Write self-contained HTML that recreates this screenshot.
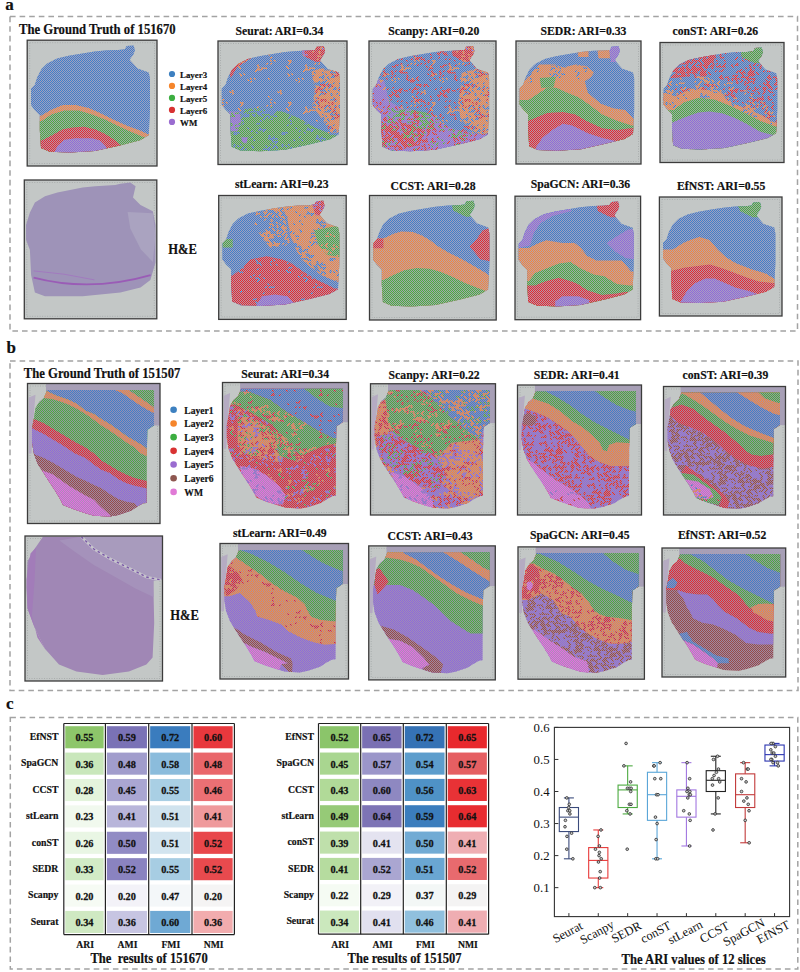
<!DOCTYPE html>
<html><head><meta charset="utf-8"><title>Figure</title>
<style>
html,body{margin:0;padding:0;background:#fff;width:800px;height:972px;overflow:hidden}
svg{display:block;font-family:'Liberation Serif',serif}
</style></head><body>
<svg width="800" height="972" viewBox="0 0 800 972">
<defs><pattern id="mb0" patternUnits="userSpaceOnUse" width="240" height="280" patternTransform="scale(0.2 0.15)"><path d="M65 30h10v10h-10zM75 30h10v10h-10zM75 50h10v10h-10zM165 50h10v10h-10zM80 60h10v10h-10zM150 60h10v10h-10zM-5 70h10v10h-10zM85 70h10v10h-10zM95 70h10v10h-10zM235 70h10v10h-10zM100 80h10v10h-10zM150 80h10v10h-10zM180 80h10v10h-10zM0 100h10v10h-10zM10 100h10v10h-10zM240 100h10v10h-10zM85 110h10v10h-10zM190 120h10v10h-10zM230 120h10v10h-10zM-5 130h10v10h-10zM5 130h10v10h-10zM235 130h10v10h-10zM65 150h10v10h-10zM95 150h10v10h-10zM50 160h10v10h-10zM75 170h10v10h-10zM85 170h10v10h-10zM115 170h10v10h-10zM90 180h10v10h-10zM85 190h10v10h-10zM135 210h10v10h-10zM125 230h10v10h-10zM145 230h10v10h-10zM155 230h10v10h-10zM165 230h10v10h-10zM0 260h10v10h-10zM240 260h10v10h-10zM115 270h10v10h-10z" fill="#427ec9"/></pattern><pattern id="mb1" patternUnits="userSpaceOnUse" width="240" height="280" patternTransform="scale(0.2 0.15)"><path d="M35 10h10v10h-10zM95 10h10v10h-10zM90 20h10v10h-10zM100 20h10v10h-10zM110 20h10v10h-10zM120 20h10v10h-10zM55 30h10v10h-10zM115 30h10v10h-10zM80 40h10v10h-10zM210 40h10v10h-10zM220 40h10v10h-10zM230 40h10v10h-10zM205 50h10v10h-10zM215 50h10v10h-10zM140 60h10v10h-10zM55 70h10v10h-10zM145 70h10v10h-10zM165 70h10v10h-10zM140 80h10v10h-10zM150 80h10v10h-10zM160 80h10v10h-10zM170 80h10v10h-10zM180 80h10v10h-10zM25 90h10v10h-10zM65 90h10v10h-10zM155 90h10v10h-10zM160 100h10v10h-10zM170 100h10v10h-10zM180 100h10v10h-10zM175 110h10v10h-10zM0 120h10v10h-10zM150 120h10v10h-10zM210 120h10v10h-10zM240 120h10v10h-10zM55 130h10v10h-10zM125 130h10v10h-10zM165 130h10v10h-10zM175 130h10v10h-10zM205 130h10v10h-10zM225 130h10v10h-10zM10 140h10v10h-10zM60 140h10v10h-10zM140 140h10v10h-10zM160 140h10v10h-10zM180 140h10v10h-10zM5 150h10v10h-10zM25 150h10v10h-10zM115 150h10v10h-10zM125 150h10v10h-10zM135 150h10v10h-10zM145 150h10v10h-10zM140 160h10v10h-10zM180 160h10v10h-10zM35 170h10v10h-10zM45 170h10v10h-10zM115 170h10v10h-10zM125 170h10v10h-10zM155 170h10v10h-10zM110 180h10v10h-10zM-5 190h10v10h-10zM45 190h10v10h-10zM135 190h10v10h-10zM155 190h10v10h-10zM235 190h10v10h-10zM10 200h10v10h-10zM150 200h10v10h-10zM5 210h10v10h-10zM105 210h10v10h-10zM125 210h10v10h-10zM135 210h10v10h-10zM165 210h10v10h-10zM175 210h10v10h-10zM0 220h10v10h-10zM120 220h10v10h-10zM140 220h10v10h-10zM240 220h10v10h-10zM115 230h10v10h-10zM155 230h10v10h-10zM10 240h10v10h-10zM100 240h10v10h-10zM10 260h10v10h-10zM80 260h10v10h-10zM90 260h10v10h-10zM-5 270h10v10h-10zM235 270h10v10h-10z" fill="#427ec9"/></pattern><pattern id="mb2" patternUnits="userSpaceOnUse" width="240" height="280" patternTransform="scale(0.2 0.15)"><path d="M50 0h10v10h-10zM60 0h10v10h-10zM90 0h10v10h-10zM120 0h10v10h-10zM130 0h10v10h-10zM140 0h10v10h-10zM150 0h10v10h-10zM190 0h10v10h-10zM200 0h10v10h-10zM210 0h10v10h-10zM15 10h10v10h-10zM115 10h10v10h-10zM125 10h10v10h-10zM155 10h10v10h-10zM175 10h10v10h-10zM205 10h10v10h-10zM10 20h10v10h-10zM30 20h10v10h-10zM50 20h10v10h-10zM80 20h10v10h-10zM130 20h10v10h-10zM180 20h10v10h-10zM200 20h10v10h-10zM230 20h10v10h-10zM-5 30h10v10h-10zM45 30h10v10h-10zM55 30h10v10h-10zM95 30h10v10h-10zM105 30h10v10h-10zM175 30h10v10h-10zM225 30h10v10h-10zM235 30h10v10h-10zM10 40h10v10h-10zM40 40h10v10h-10zM60 40h10v10h-10zM160 40h10v10h-10zM170 40h10v10h-10zM180 40h10v10h-10zM200 40h10v10h-10zM45 50h10v10h-10zM105 50h10v10h-10zM185 50h10v10h-10zM0 60h10v10h-10zM50 60h10v10h-10zM120 60h10v10h-10zM130 60h10v10h-10zM160 60h10v10h-10zM170 60h10v10h-10zM180 60h10v10h-10zM210 60h10v10h-10zM240 60h10v10h-10zM15 70h10v10h-10zM45 70h10v10h-10zM55 70h10v10h-10zM115 70h10v10h-10zM155 70h10v10h-10zM215 70h10v10h-10zM40 80h10v10h-10zM55 90h10v10h-10zM95 90h10v10h-10zM115 90h10v10h-10zM135 90h10v10h-10zM225 90h10v10h-10zM110 100h10v10h-10zM120 100h10v10h-10zM170 100h10v10h-10zM210 100h10v10h-10zM220 100h10v10h-10zM230 100h10v10h-10zM-5 110h10v10h-10zM95 110h10v10h-10zM115 110h10v10h-10zM125 110h10v10h-10zM145 110h10v10h-10zM235 110h10v10h-10zM30 120h10v10h-10zM90 120h10v10h-10zM140 120h10v10h-10zM45 130h10v10h-10zM55 130h10v10h-10zM105 130h10v10h-10zM125 130h10v10h-10zM145 130h10v10h-10zM10 140h10v10h-10zM80 140h10v10h-10zM100 140h10v10h-10zM120 140h10v10h-10zM130 140h10v10h-10zM150 140h10v10h-10zM190 140h10v10h-10zM200 140h10v10h-10zM230 140h10v10h-10zM15 150h10v10h-10zM35 150h10v10h-10zM45 150h10v10h-10zM55 150h10v10h-10zM65 150h10v10h-10zM85 150h10v10h-10zM95 150h10v10h-10zM115 150h10v10h-10zM185 150h10v10h-10zM205 150h10v10h-10zM20 160h10v10h-10zM30 160h10v10h-10zM40 160h10v10h-10zM60 160h10v10h-10zM80 160h10v10h-10zM90 160h10v10h-10zM120 160h10v10h-10zM130 160h10v10h-10zM150 160h10v10h-10zM180 160h10v10h-10zM230 160h10v10h-10zM85 170h10v10h-10zM155 170h10v10h-10zM195 170h10v10h-10zM205 170h10v10h-10zM30 180h10v10h-10zM60 180h10v10h-10zM180 180h10v10h-10zM190 180h10v10h-10zM200 180h10v10h-10zM220 180h10v10h-10zM230 180h10v10h-10zM65 190h10v10h-10zM95 190h10v10h-10zM215 190h10v10h-10zM0 200h10v10h-10zM10 200h10v10h-10zM130 200h10v10h-10zM170 200h10v10h-10zM210 200h10v10h-10zM220 200h10v10h-10zM230 200h10v10h-10zM240 200h10v10h-10zM25 210h10v10h-10zM35 210h10v10h-10zM65 210h10v10h-10zM85 210h10v10h-10zM95 210h10v10h-10zM185 210h10v10h-10zM80 220h10v10h-10zM120 220h10v10h-10zM170 220h10v10h-10zM220 220h10v10h-10zM230 220h10v10h-10zM65 230h10v10h-10zM75 230h10v10h-10zM95 230h10v10h-10zM155 230h10v10h-10zM165 230h10v10h-10zM175 230h10v10h-10zM195 230h10v10h-10zM215 230h10v10h-10zM225 230h10v10h-10zM30 240h10v10h-10zM50 240h10v10h-10zM60 240h10v10h-10zM70 240h10v10h-10zM80 240h10v10h-10zM90 240h10v10h-10zM100 240h10v10h-10zM170 240h10v10h-10zM200 240h10v10h-10zM65 250h10v10h-10zM85 250h10v10h-10zM95 250h10v10h-10zM105 250h10v10h-10zM185 250h10v10h-10zM50 260h10v10h-10zM80 260h10v10h-10zM90 260h10v10h-10zM100 260h10v10h-10zM120 260h10v10h-10zM150 260h10v10h-10zM170 260h10v10h-10zM180 260h10v10h-10zM15 270h10v10h-10zM45 270h10v10h-10zM65 270h10v10h-10zM75 270h10v10h-10zM85 270h10v10h-10zM95 270h10v10h-10zM105 270h10v10h-10zM125 270h10v10h-10zM135 270h10v10h-10zM145 270h10v10h-10zM155 270h10v10h-10zM165 270h10v10h-10zM175 270h10v10h-10zM195 270h10v10h-10zM225 270h10v10h-10z" fill="#427ec9"/></pattern><pattern id="mb3" patternUnits="userSpaceOnUse" width="240" height="280" patternTransform="scale(0.2 0.15)"><path d="M0 0h10v10h-10zM10 0h10v10h-10zM20 0h10v10h-10zM40 0h10v10h-10zM60 0h10v10h-10zM120 0h10v10h-10zM130 0h10v10h-10zM140 0h10v10h-10zM150 0h10v10h-10zM160 0h10v10h-10zM170 0h10v10h-10zM180 0h10v10h-10zM190 0h10v10h-10zM200 0h10v10h-10zM210 0h10v10h-10zM220 0h10v10h-10zM240 0h10v10h-10zM-5 10h10v10h-10zM5 10h10v10h-10zM85 10h10v10h-10zM95 10h10v10h-10zM105 10h10v10h-10zM115 10h10v10h-10zM135 10h10v10h-10zM145 10h10v10h-10zM155 10h10v10h-10zM165 10h10v10h-10zM185 10h10v10h-10zM195 10h10v10h-10zM225 10h10v10h-10zM235 10h10v10h-10zM0 20h10v10h-10zM10 20h10v10h-10zM20 20h10v10h-10zM40 20h10v10h-10zM50 20h10v10h-10zM60 20h10v10h-10zM100 20h10v10h-10zM120 20h10v10h-10zM160 20h10v10h-10zM180 20h10v10h-10zM190 20h10v10h-10zM200 20h10v10h-10zM230 20h10v10h-10zM240 20h10v10h-10zM5 30h10v10h-10zM15 30h10v10h-10zM25 30h10v10h-10zM35 30h10v10h-10zM45 30h10v10h-10zM55 30h10v10h-10zM105 30h10v10h-10zM125 30h10v10h-10zM135 30h10v10h-10zM145 30h10v10h-10zM155 30h10v10h-10zM205 30h10v10h-10zM215 30h10v10h-10zM0 40h10v10h-10zM10 40h10v10h-10zM20 40h10v10h-10zM30 40h10v10h-10zM60 40h10v10h-10zM70 40h10v10h-10zM80 40h10v10h-10zM90 40h10v10h-10zM130 40h10v10h-10zM140 40h10v10h-10zM160 40h10v10h-10zM180 40h10v10h-10zM190 40h10v10h-10zM220 40h10v10h-10zM240 40h10v10h-10zM25 50h10v10h-10zM35 50h10v10h-10zM45 50h10v10h-10zM95 50h10v10h-10zM105 50h10v10h-10zM215 50h10v10h-10zM225 50h10v10h-10zM0 60h10v10h-10zM20 60h10v10h-10zM40 60h10v10h-10zM60 60h10v10h-10zM150 60h10v10h-10zM160 60h10v10h-10zM180 60h10v10h-10zM200 60h10v10h-10zM240 60h10v10h-10zM-5 70h10v10h-10zM5 70h10v10h-10zM15 70h10v10h-10zM25 70h10v10h-10zM55 70h10v10h-10zM85 70h10v10h-10zM105 70h10v10h-10zM175 70h10v10h-10zM205 70h10v10h-10zM215 70h10v10h-10zM235 70h10v10h-10zM30 80h10v10h-10zM80 80h10v10h-10zM110 80h10v10h-10zM150 80h10v10h-10zM160 80h10v10h-10zM220 80h10v10h-10zM-5 90h10v10h-10zM25 90h10v10h-10zM45 90h10v10h-10zM55 90h10v10h-10zM65 90h10v10h-10zM75 90h10v10h-10zM85 90h10v10h-10zM95 90h10v10h-10zM125 90h10v10h-10zM135 90h10v10h-10zM205 90h10v10h-10zM235 90h10v10h-10zM0 100h10v10h-10zM10 100h10v10h-10zM40 100h10v10h-10zM50 100h10v10h-10zM70 100h10v10h-10zM90 100h10v10h-10zM130 100h10v10h-10zM140 100h10v10h-10zM150 100h10v10h-10zM160 100h10v10h-10zM220 100h10v10h-10zM230 100h10v10h-10zM240 100h10v10h-10zM5 110h10v10h-10zM35 110h10v10h-10zM45 110h10v10h-10zM55 110h10v10h-10zM65 110h10v10h-10zM95 110h10v10h-10zM115 110h10v10h-10zM135 110h10v10h-10zM145 110h10v10h-10zM185 110h10v10h-10zM20 120h10v10h-10zM40 120h10v10h-10zM60 120h10v10h-10zM110 120h10v10h-10zM130 120h10v10h-10zM140 120h10v10h-10zM150 120h10v10h-10zM170 120h10v10h-10zM180 120h10v10h-10zM200 120h10v10h-10zM210 120h10v10h-10zM230 120h10v10h-10zM-5 130h10v10h-10zM5 130h10v10h-10zM15 130h10v10h-10zM25 130h10v10h-10zM35 130h10v10h-10zM55 130h10v10h-10zM65 130h10v10h-10zM75 130h10v10h-10zM105 130h10v10h-10zM115 130h10v10h-10zM125 130h10v10h-10zM145 130h10v10h-10zM165 130h10v10h-10zM185 130h10v10h-10zM205 130h10v10h-10zM215 130h10v10h-10zM235 130h10v10h-10zM50 140h10v10h-10zM60 140h10v10h-10zM80 140h10v10h-10zM110 140h10v10h-10zM120 140h10v10h-10zM130 140h10v10h-10zM150 140h10v10h-10zM160 140h10v10h-10zM170 140h10v10h-10zM210 140h10v10h-10zM220 140h10v10h-10zM230 140h10v10h-10zM35 150h10v10h-10zM55 150h10v10h-10zM65 150h10v10h-10zM95 150h10v10h-10zM115 150h10v10h-10zM135 150h10v10h-10zM155 150h10v10h-10zM185 150h10v10h-10zM205 150h10v10h-10zM225 150h10v10h-10zM20 160h10v10h-10zM30 160h10v10h-10zM40 160h10v10h-10zM50 160h10v10h-10zM60 160h10v10h-10zM70 160h10v10h-10zM80 160h10v10h-10zM90 160h10v10h-10zM100 160h10v10h-10zM120 160h10v10h-10zM130 160h10v10h-10zM140 160h10v10h-10zM150 160h10v10h-10zM180 160h10v10h-10zM200 160h10v10h-10zM35 170h10v10h-10zM45 170h10v10h-10zM65 170h10v10h-10zM75 170h10v10h-10zM85 170h10v10h-10zM95 170h10v10h-10zM105 170h10v10h-10zM125 170h10v10h-10zM175 170h10v10h-10zM195 170h10v10h-10zM205 170h10v10h-10zM215 170h10v10h-10zM225 170h10v10h-10zM0 180h10v10h-10zM30 180h10v10h-10zM40 180h10v10h-10zM50 180h10v10h-10zM60 180h10v10h-10zM80 180h10v10h-10zM90 180h10v10h-10zM100 180h10v10h-10zM130 180h10v10h-10zM150 180h10v10h-10zM160 180h10v10h-10zM170 180h10v10h-10zM190 180h10v10h-10zM230 180h10v10h-10zM240 180h10v10h-10zM-5 190h10v10h-10zM15 190h10v10h-10zM35 190h10v10h-10zM55 190h10v10h-10zM65 190h10v10h-10zM75 190h10v10h-10zM95 190h10v10h-10zM125 190h10v10h-10zM135 190h10v10h-10zM155 190h10v10h-10zM175 190h10v10h-10zM185 190h10v10h-10zM195 190h10v10h-10zM205 190h10v10h-10zM225 190h10v10h-10zM235 190h10v10h-10zM10 200h10v10h-10zM20 200h10v10h-10zM30 200h10v10h-10zM40 200h10v10h-10zM50 200h10v10h-10zM60 200h10v10h-10zM90 200h10v10h-10zM110 200h10v10h-10zM130 200h10v10h-10zM190 200h10v10h-10zM210 200h10v10h-10zM5 210h10v10h-10zM15 210h10v10h-10zM45 210h10v10h-10zM55 210h10v10h-10zM105 210h10v10h-10zM125 210h10v10h-10zM135 210h10v10h-10zM145 210h10v10h-10zM175 210h10v10h-10zM225 210h10v10h-10zM10 220h10v10h-10zM20 220h10v10h-10zM30 220h10v10h-10zM40 220h10v10h-10zM50 220h10v10h-10zM60 220h10v10h-10zM80 220h10v10h-10zM100 220h10v10h-10zM130 220h10v10h-10zM140 220h10v10h-10zM150 220h10v10h-10zM190 220h10v10h-10zM210 220h10v10h-10zM230 220h10v10h-10zM-5 230h10v10h-10zM15 230h10v10h-10zM25 230h10v10h-10zM35 230h10v10h-10zM55 230h10v10h-10zM75 230h10v10h-10zM105 230h10v10h-10zM135 230h10v10h-10zM155 230h10v10h-10zM165 230h10v10h-10zM195 230h10v10h-10zM215 230h10v10h-10zM225 230h10v10h-10zM235 230h10v10h-10zM10 240h10v10h-10zM20 240h10v10h-10zM30 240h10v10h-10zM40 240h10v10h-10zM50 240h10v10h-10zM60 240h10v10h-10zM80 240h10v10h-10zM150 240h10v10h-10zM160 240h10v10h-10zM170 240h10v10h-10zM180 240h10v10h-10zM220 240h10v10h-10zM-5 250h10v10h-10zM5 250h10v10h-10zM15 250h10v10h-10zM25 250h10v10h-10zM55 250h10v10h-10zM135 250h10v10h-10zM145 250h10v10h-10zM175 250h10v10h-10zM185 250h10v10h-10zM195 250h10v10h-10zM205 250h10v10h-10zM215 250h10v10h-10zM225 250h10v10h-10zM235 250h10v10h-10zM10 260h10v10h-10zM50 260h10v10h-10zM60 260h10v10h-10zM80 260h10v10h-10zM190 260h10v10h-10zM210 260h10v10h-10zM220 260h10v10h-10zM230 260h10v10h-10zM5 270h10v10h-10zM35 270h10v10h-10zM55 270h10v10h-10zM65 270h10v10h-10zM75 270h10v10h-10zM95 270h10v10h-10zM105 270h10v10h-10zM135 270h10v10h-10zM145 270h10v10h-10zM165 270h10v10h-10zM185 270h10v10h-10zM195 270h10v10h-10zM205 270h10v10h-10zM215 270h10v10h-10zM225 270h10v10h-10z" fill="#427ec9"/></pattern><pattern id="mo0" patternUnits="userSpaceOnUse" width="240" height="280" patternTransform="scale(0.2 0.15)"><path d="M200 40h10v10h-10zM185 50h10v10h-10zM195 50h10v10h-10zM200 60h10v10h-10zM140 80h10v10h-10zM150 100h10v10h-10zM0 120h10v10h-10zM10 120h10v10h-10zM150 120h10v10h-10zM170 120h10v10h-10zM240 120h10v10h-10zM5 130h10v10h-10zM0 140h10v10h-10zM130 140h10v10h-10zM150 140h10v10h-10zM240 140h10v10h-10zM85 150h10v10h-10zM90 160h10v10h-10zM230 160h10v10h-10zM-5 170h10v10h-10zM85 170h10v10h-10zM105 170h10v10h-10zM115 170h10v10h-10zM125 170h10v10h-10zM235 170h10v10h-10zM80 180h10v10h-10zM90 180h10v10h-10zM100 180h10v10h-10zM75 190h10v10h-10zM-5 210h10v10h-10zM15 210h10v10h-10zM235 210h10v10h-10zM0 220h10v10h-10zM240 220h10v10h-10zM50 240h10v10h-10zM70 240h10v10h-10zM140 240h10v10h-10zM35 250h10v10h-10zM50 260h10v10h-10z" fill="#f4863a"/></pattern><pattern id="mo1" patternUnits="userSpaceOnUse" width="240" height="280" patternTransform="scale(0.2 0.15)"><path d="M80 0h10v10h-10zM170 0h10v10h-10zM190 0h10v10h-10zM210 0h10v10h-10zM75 10h10v10h-10zM0 20h10v10h-10zM20 20h10v10h-10zM50 20h10v10h-10zM80 20h10v10h-10zM90 20h10v10h-10zM240 20h10v10h-10zM-5 30h10v10h-10zM15 30h10v10h-10zM25 30h10v10h-10zM65 30h10v10h-10zM75 30h10v10h-10zM235 30h10v10h-10zM20 40h10v10h-10zM30 40h10v10h-10zM60 40h10v10h-10zM15 50h10v10h-10zM25 50h10v10h-10zM55 50h10v10h-10zM65 50h10v10h-10zM30 60h10v10h-10zM40 60h10v10h-10zM155 70h10v10h-10zM180 80h10v10h-10zM15 90h10v10h-10zM25 90h10v10h-10zM35 90h10v10h-10zM20 100h10v10h-10zM160 100h10v10h-10zM50 120h10v10h-10zM195 150h10v10h-10zM210 160h10v10h-10zM185 170h10v10h-10zM195 170h10v10h-10zM225 170h10v10h-10zM120 180h10v10h-10zM130 180h10v10h-10zM105 190h10v10h-10zM115 190h10v10h-10zM135 190h10v10h-10zM60 200h10v10h-10zM80 200h10v10h-10zM90 200h10v10h-10zM100 200h10v10h-10zM35 210h10v10h-10zM55 210h10v10h-10zM65 210h10v10h-10zM75 210h10v10h-10zM95 210h10v10h-10zM115 210h10v10h-10zM70 220h10v10h-10zM100 220h10v10h-10zM130 220h10v10h-10zM140 220h10v10h-10zM190 220h10v10h-10zM15 230h10v10h-10zM115 230h10v10h-10zM145 230h10v10h-10zM165 230h10v10h-10zM185 230h10v10h-10zM225 230h10v10h-10zM0 240h10v10h-10zM20 240h10v10h-10zM150 240h10v10h-10zM190 240h10v10h-10zM240 240h10v10h-10zM15 250h10v10h-10zM145 250h10v10h-10zM215 250h10v10h-10zM225 250h10v10h-10zM160 260h10v10h-10zM170 260h10v10h-10zM180 260h10v10h-10zM220 260h10v10h-10zM145 270h10v10h-10zM155 270h10v10h-10zM165 270h10v10h-10zM175 270h10v10h-10zM185 270h10v10h-10zM195 270h10v10h-10z" fill="#f4863a"/></pattern><pattern id="mo2" patternUnits="userSpaceOnUse" width="240" height="280" patternTransform="scale(0.2 0.15)"><path d="M20 0h10v10h-10zM130 0h10v10h-10zM180 0h10v10h-10zM190 0h10v10h-10zM210 0h10v10h-10zM230 0h10v10h-10zM115 10h10v10h-10zM125 10h10v10h-10zM175 10h10v10h-10zM195 10h10v10h-10zM60 20h10v10h-10zM120 20h10v10h-10zM140 20h10v10h-10zM150 20h10v10h-10zM190 20h10v10h-10zM200 20h10v10h-10zM220 20h10v10h-10zM15 30h10v10h-10zM45 30h10v10h-10zM55 30h10v10h-10zM135 30h10v10h-10zM165 30h10v10h-10zM195 30h10v10h-10zM0 40h10v10h-10zM100 40h10v10h-10zM120 40h10v10h-10zM130 40h10v10h-10zM160 40h10v10h-10zM180 40h10v10h-10zM200 40h10v10h-10zM210 40h10v10h-10zM220 40h10v10h-10zM240 40h10v10h-10zM-5 50h10v10h-10zM215 50h10v10h-10zM225 50h10v10h-10zM235 50h10v10h-10zM20 60h10v10h-10zM120 60h10v10h-10zM150 60h10v10h-10zM200 60h10v10h-10zM230 60h10v10h-10zM55 70h10v10h-10zM155 70h10v10h-10zM215 70h10v10h-10zM225 70h10v10h-10zM0 80h10v10h-10zM70 80h10v10h-10zM180 80h10v10h-10zM220 80h10v10h-10zM230 80h10v10h-10zM240 80h10v10h-10zM35 90h10v10h-10zM65 90h10v10h-10zM75 90h10v10h-10zM145 90h10v10h-10zM155 90h10v10h-10zM195 90h10v10h-10zM225 90h10v10h-10zM10 100h10v10h-10zM20 100h10v10h-10zM30 100h10v10h-10zM180 100h10v10h-10zM210 100h10v10h-10zM230 100h10v10h-10zM15 110h10v10h-10zM25 110h10v10h-10zM45 110h10v10h-10zM145 110h10v10h-10zM185 110h10v10h-10zM205 110h10v10h-10zM215 110h10v10h-10zM225 110h10v10h-10zM30 120h10v10h-10zM50 120h10v10h-10zM160 120h10v10h-10zM210 120h10v10h-10zM220 120h10v10h-10zM230 120h10v10h-10zM5 130h10v10h-10zM15 130h10v10h-10zM35 130h10v10h-10zM125 130h10v10h-10zM165 130h10v10h-10zM185 130h10v10h-10zM215 130h10v10h-10zM40 140h10v10h-10zM70 140h10v10h-10zM130 140h10v10h-10zM140 140h10v10h-10zM180 140h10v10h-10zM200 140h10v10h-10zM220 140h10v10h-10zM230 140h10v10h-10zM35 150h10v10h-10zM45 150h10v10h-10zM55 150h10v10h-10zM65 150h10v10h-10zM75 150h10v10h-10zM85 150h10v10h-10zM95 150h10v10h-10zM115 150h10v10h-10zM125 150h10v10h-10zM135 150h10v10h-10zM145 150h10v10h-10zM185 150h10v10h-10zM215 150h10v10h-10zM20 160h10v10h-10zM40 160h10v10h-10zM50 160h10v10h-10zM60 160h10v10h-10zM80 160h10v10h-10zM100 160h10v10h-10zM110 160h10v10h-10zM130 160h10v10h-10zM150 160h10v10h-10zM160 160h10v10h-10zM170 160h10v10h-10zM230 160h10v10h-10zM35 170h10v10h-10zM105 170h10v10h-10zM115 170h10v10h-10zM125 170h10v10h-10zM145 170h10v10h-10zM155 170h10v10h-10zM0 180h10v10h-10zM20 180h10v10h-10zM30 180h10v10h-10zM40 180h10v10h-10zM80 180h10v10h-10zM120 180h10v10h-10zM130 180h10v10h-10zM140 180h10v10h-10zM150 180h10v10h-10zM160 180h10v10h-10zM220 180h10v10h-10zM240 180h10v10h-10zM-5 190h10v10h-10zM5 190h10v10h-10zM15 190h10v10h-10zM55 190h10v10h-10zM85 190h10v10h-10zM95 190h10v10h-10zM105 190h10v10h-10zM115 190h10v10h-10zM125 190h10v10h-10zM225 190h10v10h-10zM235 190h10v10h-10zM0 200h10v10h-10zM100 200h10v10h-10zM120 200h10v10h-10zM130 200h10v10h-10zM140 200h10v10h-10zM240 200h10v10h-10zM-5 210h10v10h-10zM5 210h10v10h-10zM25 210h10v10h-10zM95 210h10v10h-10zM105 210h10v10h-10zM145 210h10v10h-10zM165 210h10v10h-10zM235 210h10v10h-10zM70 220h10v10h-10zM120 220h10v10h-10zM130 220h10v10h-10zM150 220h10v10h-10zM170 220h10v10h-10zM180 220h10v10h-10zM210 220h10v10h-10zM125 230h10v10h-10zM135 230h10v10h-10zM145 230h10v10h-10zM155 230h10v10h-10zM165 230h10v10h-10zM175 230h10v10h-10zM40 240h10v10h-10zM140 240h10v10h-10zM150 240h10v10h-10zM180 240h10v10h-10zM155 250h10v10h-10zM165 250h10v10h-10zM195 250h10v10h-10zM110 260h10v10h-10zM140 260h10v10h-10zM160 260h10v10h-10zM170 260h10v10h-10zM180 260h10v10h-10zM200 260h10v10h-10zM230 260h10v10h-10zM35 270h10v10h-10zM45 270h10v10h-10zM55 270h10v10h-10zM135 270h10v10h-10zM175 270h10v10h-10zM225 270h10v10h-10z" fill="#f4863a"/></pattern><pattern id="mg0" patternUnits="userSpaceOnUse" width="240" height="280" patternTransform="scale(0.2 0.15)"><path d="M80 0h10v10h-10zM0 40h10v10h-10zM140 40h10v10h-10zM240 40h10v10h-10zM95 70h10v10h-10zM195 70h10v10h-10zM190 80h10v10h-10zM5 90h10v10h-10zM195 90h10v10h-10zM90 100h10v10h-10zM210 100h10v10h-10zM70 120h10v10h-10zM80 120h10v10h-10zM95 130h10v10h-10zM90 140h10v10h-10zM120 140h10v10h-10zM130 140h10v10h-10zM85 150h10v10h-10zM145 150h10v10h-10zM0 160h10v10h-10zM20 160h10v10h-10zM100 160h10v10h-10zM240 160h10v10h-10zM-5 170h10v10h-10zM25 170h10v10h-10zM65 170h10v10h-10zM85 170h10v10h-10zM105 170h10v10h-10zM125 170h10v10h-10zM235 170h10v10h-10zM110 180h10v10h-10zM120 180h10v10h-10zM95 190h10v10h-10zM205 190h10v10h-10zM80 220h10v10h-10zM190 220h10v10h-10zM225 230h10v10h-10z" fill="#4cad3f"/></pattern><pattern id="mg1" patternUnits="userSpaceOnUse" width="240" height="280" patternTransform="scale(0.2 0.15)"><path d="M0 0h10v10h-10zM30 0h10v10h-10zM60 0h10v10h-10zM160 0h10v10h-10zM180 0h10v10h-10zM240 0h10v10h-10zM-5 10h10v10h-10zM135 10h10v10h-10zM155 10h10v10h-10zM175 10h10v10h-10zM215 10h10v10h-10zM225 10h10v10h-10zM235 10h10v10h-10zM40 20h10v10h-10zM50 20h10v10h-10zM80 20h10v10h-10zM100 20h10v10h-10zM140 20h10v10h-10zM105 30h10v10h-10zM135 30h10v10h-10zM130 40h10v10h-10zM140 40h10v10h-10zM200 40h10v10h-10zM95 50h10v10h-10zM125 50h10v10h-10zM155 50h10v10h-10zM185 50h10v10h-10zM100 60h10v10h-10zM110 60h10v10h-10zM120 60h10v10h-10zM140 60h10v10h-10zM170 60h10v10h-10zM95 70h10v10h-10zM115 70h10v10h-10zM145 70h10v10h-10zM30 80h10v10h-10zM160 80h10v10h-10zM45 90h10v10h-10zM145 90h10v10h-10zM230 100h10v10h-10zM5 110h10v10h-10zM25 110h10v10h-10zM55 110h10v10h-10zM20 120h10v10h-10zM120 120h10v10h-10zM130 120h10v10h-10zM-5 130h10v10h-10zM235 130h10v10h-10zM155 150h10v10h-10zM0 160h10v10h-10zM20 160h10v10h-10zM40 160h10v10h-10zM240 160h10v10h-10zM35 170h10v10h-10zM155 170h10v10h-10zM50 180h10v10h-10zM25 190h10v10h-10zM175 190h10v10h-10zM195 190h10v10h-10zM215 190h10v10h-10zM225 190h10v10h-10zM80 200h10v10h-10zM200 200h10v10h-10zM15 210h10v10h-10zM45 210h10v10h-10zM55 210h10v10h-10zM85 210h10v10h-10zM185 210h10v10h-10zM195 210h10v10h-10zM205 210h10v10h-10zM20 220h10v10h-10zM40 220h10v10h-10zM70 220h10v10h-10zM55 230h10v10h-10zM75 230h10v10h-10zM20 240h10v10h-10zM40 240h10v10h-10zM15 250h10v10h-10zM25 250h10v10h-10zM45 250h10v10h-10zM65 250h10v10h-10zM190 260h10v10h-10zM230 260h10v10h-10zM195 270h10v10h-10zM215 270h10v10h-10z" fill="#4cad3f"/></pattern><pattern id="mg2" patternUnits="userSpaceOnUse" width="240" height="280" patternTransform="scale(0.2 0.15)"><path d="M30 0h10v10h-10zM50 0h10v10h-10zM190 0h10v10h-10zM200 0h10v10h-10zM210 0h10v10h-10zM220 0h10v10h-10zM230 0h10v10h-10zM25 10h10v10h-10zM35 10h10v10h-10zM55 10h10v10h-10zM65 10h10v10h-10zM75 10h10v10h-10zM95 10h10v10h-10zM195 10h10v10h-10zM215 10h10v10h-10zM10 20h10v10h-10zM40 20h10v10h-10zM90 20h10v10h-10zM190 20h10v10h-10zM35 30h10v10h-10zM165 30h10v10h-10zM175 30h10v10h-10zM205 30h10v10h-10zM0 40h10v10h-10zM50 40h10v10h-10zM90 40h10v10h-10zM130 40h10v10h-10zM150 40h10v10h-10zM160 40h10v10h-10zM190 40h10v10h-10zM210 40h10v10h-10zM220 40h10v10h-10zM240 40h10v10h-10zM15 50h10v10h-10zM65 50h10v10h-10zM75 50h10v10h-10zM85 50h10v10h-10zM95 50h10v10h-10zM115 50h10v10h-10zM125 50h10v10h-10zM135 50h10v10h-10zM80 60h10v10h-10zM90 60h10v10h-10zM110 60h10v10h-10zM130 60h10v10h-10zM150 60h10v10h-10zM160 60h10v10h-10zM170 60h10v10h-10zM190 60h10v10h-10zM200 60h10v10h-10zM105 70h10v10h-10zM115 70h10v10h-10zM155 70h10v10h-10zM185 70h10v10h-10zM195 70h10v10h-10zM205 70h10v10h-10zM20 80h10v10h-10zM50 80h10v10h-10zM80 80h10v10h-10zM100 80h10v10h-10zM120 80h10v10h-10zM170 80h10v10h-10zM190 80h10v10h-10zM200 80h10v10h-10zM75 90h10v10h-10zM95 90h10v10h-10zM105 90h10v10h-10zM115 90h10v10h-10zM155 90h10v10h-10zM165 90h10v10h-10zM185 90h10v10h-10zM205 90h10v10h-10zM50 100h10v10h-10zM120 100h10v10h-10zM150 100h10v10h-10zM5 110h10v10h-10zM35 110h10v10h-10zM85 110h10v10h-10zM125 110h10v10h-10zM135 110h10v10h-10zM155 110h10v10h-10zM165 110h10v10h-10zM175 110h10v10h-10zM90 120h10v10h-10zM100 120h10v10h-10zM140 120h10v10h-10zM170 120h10v10h-10zM210 120h10v10h-10zM5 130h10v10h-10zM75 130h10v10h-10zM115 130h10v10h-10zM125 130h10v10h-10zM135 130h10v10h-10zM225 130h10v10h-10zM0 140h10v10h-10zM10 140h10v10h-10zM50 140h10v10h-10zM160 140h10v10h-10zM180 140h10v10h-10zM240 140h10v10h-10zM35 150h10v10h-10zM45 150h10v10h-10zM65 150h10v10h-10zM105 150h10v10h-10zM155 150h10v10h-10zM195 150h10v10h-10zM215 150h10v10h-10zM20 160h10v10h-10zM40 160h10v10h-10zM50 160h10v10h-10zM70 160h10v10h-10zM90 160h10v10h-10zM25 170h10v10h-10zM35 170h10v10h-10zM45 170h10v10h-10zM55 170h10v10h-10zM75 170h10v10h-10zM85 170h10v10h-10zM115 170h10v10h-10zM225 170h10v10h-10zM0 180h10v10h-10zM10 180h10v10h-10zM20 180h10v10h-10zM30 180h10v10h-10zM100 180h10v10h-10zM200 180h10v10h-10zM230 180h10v10h-10zM240 180h10v10h-10zM15 190h10v10h-10zM35 190h10v10h-10zM45 190h10v10h-10zM55 190h10v10h-10zM65 190h10v10h-10zM75 190h10v10h-10zM175 190h10v10h-10zM185 190h10v10h-10zM0 200h10v10h-10zM50 200h10v10h-10zM80 200h10v10h-10zM110 200h10v10h-10zM120 200h10v10h-10zM130 200h10v10h-10zM140 200h10v10h-10zM170 200h10v10h-10zM180 200h10v10h-10zM210 200h10v10h-10zM240 200h10v10h-10zM45 210h10v10h-10zM55 210h10v10h-10zM75 210h10v10h-10zM85 210h10v10h-10zM95 210h10v10h-10zM125 210h10v10h-10zM205 210h10v10h-10zM215 210h10v10h-10zM225 210h10v10h-10zM110 220h10v10h-10zM130 220h10v10h-10zM140 220h10v10h-10zM170 220h10v10h-10zM210 220h10v10h-10zM35 230h10v10h-10zM95 230h10v10h-10zM125 230h10v10h-10zM145 230h10v10h-10zM155 230h10v10h-10zM165 230h10v10h-10zM175 230h10v10h-10zM185 230h10v10h-10zM20 240h10v10h-10zM50 240h10v10h-10zM70 240h10v10h-10zM90 240h10v10h-10zM100 240h10v10h-10zM140 240h10v10h-10zM190 240h10v10h-10zM210 240h10v10h-10zM65 250h10v10h-10zM95 250h10v10h-10zM105 250h10v10h-10zM125 250h10v10h-10zM50 260h10v10h-10zM90 260h10v10h-10zM130 260h10v10h-10zM190 260h10v10h-10zM210 260h10v10h-10zM75 270h10v10h-10zM145 270h10v10h-10zM165 270h10v10h-10zM175 270h10v10h-10zM195 270h10v10h-10zM205 270h10v10h-10z" fill="#4cad3f"/></pattern><pattern id="mr0" patternUnits="userSpaceOnUse" width="240" height="280" patternTransform="scale(0.2 0.15)"><path d="M160 0h10v10h-10zM200 0h10v10h-10zM210 0h10v10h-10zM155 30h10v10h-10zM160 60h10v10h-10zM30 80h10v10h-10zM160 80h10v10h-10zM230 80h10v10h-10zM160 100h10v10h-10zM155 110h10v10h-10zM165 110h10v10h-10zM195 110h10v10h-10zM55 150h10v10h-10zM40 160h10v10h-10zM50 160h10v10h-10zM-5 170h10v10h-10zM235 170h10v10h-10zM35 190h10v10h-10zM55 190h10v10h-10zM75 190h10v10h-10zM85 190h10v10h-10zM80 200h10v10h-10zM35 230h10v10h-10zM165 230h10v10h-10zM10 240h10v10h-10zM110 240h10v10h-10zM160 240h10v10h-10zM115 250h10v10h-10zM125 250h10v10h-10zM135 250h10v10h-10zM145 250h10v10h-10zM165 250h10v10h-10zM225 250h10v10h-10zM130 260h10v10h-10zM140 260h10v10h-10z" fill="#e42a2e"/></pattern><pattern id="mr1" patternUnits="userSpaceOnUse" width="240" height="280" patternTransform="scale(0.2 0.15)"><path d="M160 0h10v10h-10zM170 0h10v10h-10zM180 0h10v10h-10zM200 0h10v10h-10zM175 10h10v10h-10zM195 10h10v10h-10zM215 10h10v10h-10zM40 20h10v10h-10zM150 20h10v10h-10zM15 30h10v10h-10zM75 30h10v10h-10zM85 30h10v10h-10zM125 30h10v10h-10zM145 30h10v10h-10zM155 30h10v10h-10zM165 30h10v10h-10zM50 40h10v10h-10zM60 40h10v10h-10zM70 40h10v10h-10zM80 40h10v10h-10zM100 40h10v10h-10zM110 40h10v10h-10zM140 40h10v10h-10zM35 50h10v10h-10zM55 50h10v10h-10zM75 50h10v10h-10zM135 50h10v10h-10zM165 50h10v10h-10zM40 60h10v10h-10zM50 60h10v10h-10zM180 60h10v10h-10zM25 70h10v10h-10zM35 70h10v10h-10zM55 70h10v10h-10zM65 70h10v10h-10zM60 80h10v10h-10zM70 80h10v10h-10zM145 90h10v10h-10zM30 100h10v10h-10zM160 100h10v10h-10zM170 100h10v10h-10zM180 100h10v10h-10zM230 100h10v10h-10zM65 110h10v10h-10zM85 110h10v10h-10zM135 110h10v10h-10zM165 110h10v10h-10zM185 110h10v10h-10zM110 120h10v10h-10zM150 120h10v10h-10zM200 120h10v10h-10zM220 120h10v10h-10zM215 130h10v10h-10zM80 140h10v10h-10zM150 140h10v10h-10zM180 140h10v10h-10zM200 140h10v10h-10zM-5 150h10v10h-10zM65 150h10v10h-10zM115 150h10v10h-10zM165 150h10v10h-10zM235 150h10v10h-10zM90 160h10v10h-10zM210 160h10v10h-10zM85 170h10v10h-10zM225 170h10v10h-10zM220 180h10v10h-10zM-5 190h10v10h-10zM235 190h10v10h-10zM0 200h10v10h-10zM40 200h10v10h-10zM90 200h10v10h-10zM100 200h10v10h-10zM110 200h10v10h-10zM240 200h10v10h-10zM5 210h10v10h-10zM15 210h10v10h-10zM35 210h10v10h-10zM215 210h10v10h-10zM0 220h10v10h-10zM50 220h10v10h-10zM110 220h10v10h-10zM230 220h10v10h-10zM240 220h10v10h-10zM115 230h10v10h-10z" fill="#e42a2e"/></pattern><pattern id="mr2" patternUnits="userSpaceOnUse" width="240" height="280" patternTransform="scale(0.2 0.15)"><path d="M0 0h10v10h-10zM30 0h10v10h-10zM40 0h10v10h-10zM70 0h10v10h-10zM120 0h10v10h-10zM220 0h10v10h-10zM230 0h10v10h-10zM240 0h10v10h-10zM-5 10h10v10h-10zM5 10h10v10h-10zM135 10h10v10h-10zM195 10h10v10h-10zM235 10h10v10h-10zM0 20h10v10h-10zM10 20h10v10h-10zM40 20h10v10h-10zM50 20h10v10h-10zM90 20h10v10h-10zM130 20h10v10h-10zM170 20h10v10h-10zM210 20h10v10h-10zM220 20h10v10h-10zM240 20h10v10h-10zM15 30h10v10h-10zM35 30h10v10h-10zM55 30h10v10h-10zM105 30h10v10h-10zM135 30h10v10h-10zM145 30h10v10h-10zM175 30h10v10h-10zM185 30h10v10h-10zM215 30h10v10h-10zM225 30h10v10h-10zM0 40h10v10h-10zM160 40h10v10h-10zM170 40h10v10h-10zM220 40h10v10h-10zM240 40h10v10h-10zM5 50h10v10h-10zM15 50h10v10h-10zM105 50h10v10h-10zM185 50h10v10h-10zM215 50h10v10h-10zM80 60h10v10h-10zM150 60h10v10h-10zM160 60h10v10h-10zM190 60h10v10h-10zM210 60h10v10h-10zM25 70h10v10h-10zM105 70h10v10h-10zM135 70h10v10h-10zM145 70h10v10h-10zM0 80h10v10h-10zM110 80h10v10h-10zM120 80h10v10h-10zM140 80h10v10h-10zM150 80h10v10h-10zM170 80h10v10h-10zM210 80h10v10h-10zM240 80h10v10h-10zM-5 90h10v10h-10zM105 90h10v10h-10zM125 90h10v10h-10zM155 90h10v10h-10zM185 90h10v10h-10zM195 90h10v10h-10zM205 90h10v10h-10zM235 90h10v10h-10zM0 100h10v10h-10zM10 100h10v10h-10zM80 100h10v10h-10zM110 100h10v10h-10zM190 100h10v10h-10zM200 100h10v10h-10zM210 100h10v10h-10zM240 100h10v10h-10zM75 110h10v10h-10zM125 110h10v10h-10zM135 110h10v10h-10zM155 110h10v10h-10zM20 120h10v10h-10zM110 120h10v10h-10zM140 120h10v10h-10zM160 120h10v10h-10zM170 120h10v10h-10zM200 120h10v10h-10zM220 120h10v10h-10zM185 130h10v10h-10zM195 130h10v10h-10zM20 140h10v10h-10zM80 140h10v10h-10zM170 140h10v10h-10zM200 140h10v10h-10zM220 140h10v10h-10zM-5 150h10v10h-10zM15 150h10v10h-10zM55 150h10v10h-10zM75 150h10v10h-10zM85 150h10v10h-10zM145 150h10v10h-10zM165 150h10v10h-10zM185 150h10v10h-10zM205 150h10v10h-10zM235 150h10v10h-10zM0 160h10v10h-10zM10 160h10v10h-10zM20 160h10v10h-10zM60 160h10v10h-10zM150 160h10v10h-10zM200 160h10v10h-10zM220 160h10v10h-10zM230 160h10v10h-10zM240 160h10v10h-10zM125 170h10v10h-10zM145 170h10v10h-10zM165 170h10v10h-10zM195 170h10v10h-10zM10 180h10v10h-10zM100 180h10v10h-10zM150 180h10v10h-10zM-5 190h10v10h-10zM5 190h10v10h-10zM85 190h10v10h-10zM95 190h10v10h-10zM115 190h10v10h-10zM145 190h10v10h-10zM155 190h10v10h-10zM165 190h10v10h-10zM215 190h10v10h-10zM235 190h10v10h-10zM80 200h10v10h-10zM100 200h10v10h-10zM110 200h10v10h-10zM120 200h10v10h-10zM140 200h10v10h-10zM150 200h10v10h-10zM160 200h10v10h-10zM180 200h10v10h-10zM105 210h10v10h-10zM135 210h10v10h-10zM145 210h10v10h-10zM155 210h10v10h-10zM165 210h10v10h-10zM185 210h10v10h-10zM0 220h10v10h-10zM60 220h10v10h-10zM70 220h10v10h-10zM80 220h10v10h-10zM110 220h10v10h-10zM140 220h10v10h-10zM150 220h10v10h-10zM160 220h10v10h-10zM240 220h10v10h-10zM-5 230h10v10h-10zM5 230h10v10h-10zM25 230h10v10h-10zM35 230h10v10h-10zM75 230h10v10h-10zM105 230h10v10h-10zM115 230h10v10h-10zM125 230h10v10h-10zM135 230h10v10h-10zM235 230h10v10h-10zM0 240h10v10h-10zM10 240h10v10h-10zM40 240h10v10h-10zM60 240h10v10h-10zM70 240h10v10h-10zM80 240h10v10h-10zM90 240h10v10h-10zM130 240h10v10h-10zM140 240h10v10h-10zM150 240h10v10h-10zM160 240h10v10h-10zM170 240h10v10h-10zM240 240h10v10h-10zM35 250h10v10h-10zM55 250h10v10h-10zM75 250h10v10h-10zM105 250h10v10h-10zM135 250h10v10h-10zM165 250h10v10h-10zM225 250h10v10h-10zM0 260h10v10h-10zM40 260h10v10h-10zM80 260h10v10h-10zM100 260h10v10h-10zM120 260h10v10h-10zM140 260h10v10h-10zM150 260h10v10h-10zM160 260h10v10h-10zM230 260h10v10h-10zM240 260h10v10h-10zM-5 270h10v10h-10zM35 270h10v10h-10zM65 270h10v10h-10zM75 270h10v10h-10zM85 270h10v10h-10zM125 270h10v10h-10zM135 270h10v10h-10zM165 270h10v10h-10zM215 270h10v10h-10zM235 270h10v10h-10z" fill="#e42a2e"/></pattern><pattern id="mp0" patternUnits="userSpaceOnUse" width="240" height="280" patternTransform="scale(0.2 0.15)"><path d="M70 0h10v10h-10zM120 0h10v10h-10zM85 10h10v10h-10zM145 10h10v10h-10zM90 40h10v10h-10zM100 40h10v10h-10zM85 50h10v10h-10zM125 50h10v10h-10zM15 70h10v10h-10zM125 70h10v10h-10zM165 70h10v10h-10zM10 80h10v10h-10zM30 80h10v10h-10zM200 80h10v10h-10zM35 90h10v10h-10zM185 90h10v10h-10zM210 100h10v10h-10zM175 110h10v10h-10zM180 120h10v10h-10zM200 120h10v10h-10zM155 130h10v10h-10zM135 190h10v10h-10zM0 200h10v10h-10zM110 200h10v10h-10zM210 200h10v10h-10zM220 200h10v10h-10zM240 200h10v10h-10zM-5 210h10v10h-10zM115 210h10v10h-10zM195 210h10v10h-10zM235 210h10v10h-10zM60 240h10v10h-10zM80 240h10v10h-10zM95 250h10v10h-10zM115 250h10v10h-10zM110 260h10v10h-10z" fill="#8e6ada"/></pattern><pattern id="mp1" patternUnits="userSpaceOnUse" width="240" height="280" patternTransform="scale(0.2 0.15)"><path d="M110 0h10v10h-10zM95 10h10v10h-10zM125 10h10v10h-10zM155 10h10v10h-10zM195 10h10v10h-10zM40 20h10v10h-10zM130 20h10v10h-10zM15 30h10v10h-10zM35 30h10v10h-10zM45 30h10v10h-10zM75 30h10v10h-10zM10 40h10v10h-10zM20 40h10v10h-10zM30 40h10v10h-10zM170 40h10v10h-10zM230 40h10v10h-10zM65 50h10v10h-10zM75 50h10v10h-10zM85 50h10v10h-10zM195 50h10v10h-10zM70 60h10v10h-10zM230 60h10v10h-10zM5 70h10v10h-10zM65 70h10v10h-10zM75 70h10v10h-10zM80 80h10v10h-10zM90 80h10v10h-10zM75 90h10v10h-10zM70 100h10v10h-10zM80 100h10v10h-10zM30 120h10v10h-10zM50 120h10v10h-10zM35 130h10v10h-10zM35 150h10v10h-10zM85 150h10v10h-10zM80 160h10v10h-10zM110 160h10v10h-10zM115 170h10v10h-10zM225 170h10v10h-10zM60 180h10v10h-10zM70 180h10v10h-10zM80 180h10v10h-10zM45 190h10v10h-10zM65 190h10v10h-10zM185 190h10v10h-10zM195 190h10v10h-10zM30 200h10v10h-10zM40 200h10v10h-10zM60 200h10v10h-10zM70 200h10v10h-10zM190 200h10v10h-10zM200 200h10v10h-10zM25 210h10v10h-10zM55 210h10v10h-10zM20 220h10v10h-10zM160 220h10v10h-10zM210 220h10v10h-10zM230 220h10v10h-10zM125 230h10v10h-10zM225 230h10v10h-10zM30 240h10v10h-10zM130 240h10v10h-10zM150 240h10v10h-10zM190 240h10v10h-10zM220 240h10v10h-10zM-5 250h10v10h-10zM5 250h10v10h-10zM35 250h10v10h-10zM115 250h10v10h-10zM155 250h10v10h-10zM185 250h10v10h-10zM205 250h10v10h-10zM235 250h10v10h-10zM60 260h10v10h-10zM110 260h10v10h-10zM130 260h10v10h-10zM190 260h10v10h-10zM200 260h10v10h-10zM45 270h10v10h-10zM165 270h10v10h-10zM195 270h10v10h-10zM205 270h10v10h-10z" fill="#8e6ada"/></pattern><pattern id="mp2" patternUnits="userSpaceOnUse" width="240" height="280" patternTransform="scale(0.2 0.15)"><path d="M80 0h10v10h-10zM100 0h10v10h-10zM160 0h10v10h-10zM190 0h10v10h-10zM210 0h10v10h-10zM45 10h10v10h-10zM75 10h10v10h-10zM105 10h10v10h-10zM70 20h10v10h-10zM120 20h10v10h-10zM190 20h10v10h-10zM-5 30h10v10h-10zM65 30h10v10h-10zM75 30h10v10h-10zM85 30h10v10h-10zM135 30h10v10h-10zM155 30h10v10h-10zM235 30h10v10h-10zM0 40h10v10h-10zM20 40h10v10h-10zM80 40h10v10h-10zM90 40h10v10h-10zM140 40h10v10h-10zM150 40h10v10h-10zM160 40h10v10h-10zM180 40h10v10h-10zM240 40h10v10h-10zM-5 50h10v10h-10zM25 50h10v10h-10zM75 50h10v10h-10zM185 50h10v10h-10zM235 50h10v10h-10zM10 60h10v10h-10zM40 60h10v10h-10zM130 60h10v10h-10zM-5 70h10v10h-10zM35 70h10v10h-10zM125 70h10v10h-10zM155 70h10v10h-10zM165 70h10v10h-10zM205 70h10v10h-10zM235 70h10v10h-10zM50 80h10v10h-10zM60 80h10v10h-10zM150 80h10v10h-10zM160 80h10v10h-10zM190 80h10v10h-10zM220 80h10v10h-10zM15 90h10v10h-10zM55 90h10v10h-10zM95 90h10v10h-10zM155 90h10v10h-10zM195 90h10v10h-10zM215 90h10v10h-10zM225 90h10v10h-10zM30 100h10v10h-10zM50 100h10v10h-10zM60 100h10v10h-10zM150 100h10v10h-10zM190 100h10v10h-10zM15 110h10v10h-10zM35 110h10v10h-10zM45 110h10v10h-10zM75 110h10v10h-10zM115 110h10v10h-10zM165 110h10v10h-10zM10 120h10v10h-10zM20 120h10v10h-10zM30 120h10v10h-10zM40 120h10v10h-10zM50 120h10v10h-10zM70 120h10v10h-10zM80 120h10v10h-10zM200 120h10v10h-10zM-5 130h10v10h-10zM15 130h10v10h-10zM85 130h10v10h-10zM235 130h10v10h-10zM0 140h10v10h-10zM10 140h10v10h-10zM20 140h10v10h-10zM30 140h10v10h-10zM40 140h10v10h-10zM60 140h10v10h-10zM90 140h10v10h-10zM110 140h10v10h-10zM240 140h10v10h-10zM35 150h10v10h-10zM45 150h10v10h-10zM55 150h10v10h-10zM65 150h10v10h-10zM115 150h10v10h-10zM0 160h10v10h-10zM20 160h10v10h-10zM40 160h10v10h-10zM50 160h10v10h-10zM90 160h10v10h-10zM110 160h10v10h-10zM240 160h10v10h-10zM5 170h10v10h-10zM15 170h10v10h-10zM25 170h10v10h-10zM55 170h10v10h-10zM65 170h10v10h-10zM105 170h10v10h-10zM115 170h10v10h-10zM125 170h10v10h-10zM0 180h10v10h-10zM10 180h10v10h-10zM20 180h10v10h-10zM100 180h10v10h-10zM240 180h10v10h-10zM-5 190h10v10h-10zM35 190h10v10h-10zM45 190h10v10h-10zM55 190h10v10h-10zM65 190h10v10h-10zM105 190h10v10h-10zM115 190h10v10h-10zM125 190h10v10h-10zM235 190h10v10h-10zM0 200h10v10h-10zM40 200h10v10h-10zM50 200h10v10h-10zM120 200h10v10h-10zM140 200h10v10h-10zM160 200h10v10h-10zM180 200h10v10h-10zM240 200h10v10h-10zM-5 210h10v10h-10zM15 210h10v10h-10zM35 210h10v10h-10zM85 210h10v10h-10zM105 210h10v10h-10zM115 210h10v10h-10zM125 210h10v10h-10zM135 210h10v10h-10zM175 210h10v10h-10zM205 210h10v10h-10zM215 210h10v10h-10zM235 210h10v10h-10zM0 220h10v10h-10zM10 220h10v10h-10zM50 220h10v10h-10zM60 220h10v10h-10zM70 220h10v10h-10zM80 220h10v10h-10zM100 220h10v10h-10zM110 220h10v10h-10zM130 220h10v10h-10zM140 220h10v10h-10zM230 220h10v10h-10zM240 220h10v10h-10zM5 230h10v10h-10zM55 230h10v10h-10zM105 230h10v10h-10zM155 230h10v10h-10zM185 230h10v10h-10zM195 230h10v10h-10zM215 230h10v10h-10zM225 230h10v10h-10zM10 240h10v10h-10zM20 240h10v10h-10zM30 240h10v10h-10zM40 240h10v10h-10zM50 240h10v10h-10zM60 240h10v10h-10zM90 240h10v10h-10zM100 240h10v10h-10zM110 240h10v10h-10zM120 240h10v10h-10zM130 240h10v10h-10zM140 240h10v10h-10zM220 240h10v10h-10zM5 250h10v10h-10zM25 250h10v10h-10zM65 250h10v10h-10zM85 250h10v10h-10zM95 250h10v10h-10zM105 250h10v10h-10zM155 250h10v10h-10zM175 250h10v10h-10zM195 250h10v10h-10zM10 260h10v10h-10zM20 260h10v10h-10zM40 260h10v10h-10zM70 260h10v10h-10zM110 260h10v10h-10zM120 260h10v10h-10zM130 260h10v10h-10zM170 260h10v10h-10zM180 260h10v10h-10zM230 260h10v10h-10zM15 270h10v10h-10zM45 270h10v10h-10zM55 270h10v10h-10zM75 270h10v10h-10zM155 270h10v10h-10zM175 270h10v10h-10zM215 270h10v10h-10z" fill="#8e6ada"/></pattern><pattern id="mp3" patternUnits="userSpaceOnUse" width="240" height="280" patternTransform="scale(0.2 0.15)"><path d="M0 0h10v10h-10zM10 0h10v10h-10zM20 0h10v10h-10zM40 0h10v10h-10zM50 0h10v10h-10zM60 0h10v10h-10zM80 0h10v10h-10zM100 0h10v10h-10zM110 0h10v10h-10zM120 0h10v10h-10zM130 0h10v10h-10zM140 0h10v10h-10zM150 0h10v10h-10zM170 0h10v10h-10zM180 0h10v10h-10zM190 0h10v10h-10zM200 0h10v10h-10zM210 0h10v10h-10zM220 0h10v10h-10zM240 0h10v10h-10zM5 10h10v10h-10zM25 10h10v10h-10zM35 10h10v10h-10zM45 10h10v10h-10zM55 10h10v10h-10zM65 10h10v10h-10zM125 10h10v10h-10zM135 10h10v10h-10zM175 10h10v10h-10zM185 10h10v10h-10zM195 10h10v10h-10zM205 10h10v10h-10zM215 10h10v10h-10zM0 20h10v10h-10zM10 20h10v10h-10zM20 20h10v10h-10zM30 20h10v10h-10zM40 20h10v10h-10zM50 20h10v10h-10zM80 20h10v10h-10zM90 20h10v10h-10zM100 20h10v10h-10zM110 20h10v10h-10zM120 20h10v10h-10zM130 20h10v10h-10zM190 20h10v10h-10zM200 20h10v10h-10zM210 20h10v10h-10zM240 20h10v10h-10zM-5 30h10v10h-10zM15 30h10v10h-10zM35 30h10v10h-10zM45 30h10v10h-10zM75 30h10v10h-10zM85 30h10v10h-10zM95 30h10v10h-10zM115 30h10v10h-10zM125 30h10v10h-10zM145 30h10v10h-10zM185 30h10v10h-10zM235 30h10v10h-10zM40 40h10v10h-10zM60 40h10v10h-10zM70 40h10v10h-10zM80 40h10v10h-10zM90 40h10v10h-10zM120 40h10v10h-10zM140 40h10v10h-10zM150 40h10v10h-10zM170 40h10v10h-10zM190 40h10v10h-10zM210 40h10v10h-10zM230 40h10v10h-10zM-5 50h10v10h-10zM55 50h10v10h-10zM65 50h10v10h-10zM85 50h10v10h-10zM105 50h10v10h-10zM125 50h10v10h-10zM135 50h10v10h-10zM155 50h10v10h-10zM175 50h10v10h-10zM185 50h10v10h-10zM195 50h10v10h-10zM205 50h10v10h-10zM215 50h10v10h-10zM225 50h10v10h-10zM235 50h10v10h-10zM0 60h10v10h-10zM10 60h10v10h-10zM50 60h10v10h-10zM70 60h10v10h-10zM80 60h10v10h-10zM90 60h10v10h-10zM150 60h10v10h-10zM190 60h10v10h-10zM200 60h10v10h-10zM210 60h10v10h-10zM230 60h10v10h-10zM240 60h10v10h-10zM25 70h10v10h-10zM35 70h10v10h-10zM55 70h10v10h-10zM65 70h10v10h-10zM85 70h10v10h-10zM115 70h10v10h-10zM135 70h10v10h-10zM175 70h10v10h-10zM185 70h10v10h-10zM205 70h10v10h-10zM215 70h10v10h-10zM225 70h10v10h-10zM0 80h10v10h-10zM20 80h10v10h-10zM180 80h10v10h-10zM200 80h10v10h-10zM220 80h10v10h-10zM230 80h10v10h-10zM240 80h10v10h-10zM-5 90h10v10h-10zM15 90h10v10h-10zM55 90h10v10h-10zM85 90h10v10h-10zM165 90h10v10h-10zM185 90h10v10h-10zM195 90h10v10h-10zM205 90h10v10h-10zM215 90h10v10h-10zM225 90h10v10h-10zM235 90h10v10h-10zM0 100h10v10h-10zM10 100h10v10h-10zM20 100h10v10h-10zM30 100h10v10h-10zM50 100h10v10h-10zM60 100h10v10h-10zM100 100h10v10h-10zM120 100h10v10h-10zM150 100h10v10h-10zM160 100h10v10h-10zM170 100h10v10h-10zM180 100h10v10h-10zM220 100h10v10h-10zM230 100h10v10h-10zM240 100h10v10h-10zM-5 110h10v10h-10zM15 110h10v10h-10zM45 110h10v10h-10zM145 110h10v10h-10zM175 110h10v10h-10zM205 110h10v10h-10zM215 110h10v10h-10zM235 110h10v10h-10zM0 120h10v10h-10zM10 120h10v10h-10zM20 120h10v10h-10zM30 120h10v10h-10zM50 120h10v10h-10zM60 120h10v10h-10zM200 120h10v10h-10zM240 120h10v10h-10zM-5 130h10v10h-10zM15 130h10v10h-10zM25 130h10v10h-10zM65 130h10v10h-10zM105 130h10v10h-10zM115 130h10v10h-10zM125 130h10v10h-10zM135 130h10v10h-10zM145 130h10v10h-10zM185 130h10v10h-10zM235 130h10v10h-10zM0 140h10v10h-10zM10 140h10v10h-10zM20 140h10v10h-10zM30 140h10v10h-10zM40 140h10v10h-10zM140 140h10v10h-10zM150 140h10v10h-10zM180 140h10v10h-10zM190 140h10v10h-10zM200 140h10v10h-10zM210 140h10v10h-10zM240 140h10v10h-10zM-5 150h10v10h-10zM5 150h10v10h-10zM45 150h10v10h-10zM85 150h10v10h-10zM105 150h10v10h-10zM115 150h10v10h-10zM125 150h10v10h-10zM165 150h10v10h-10zM175 150h10v10h-10zM185 150h10v10h-10zM215 150h10v10h-10zM235 150h10v10h-10zM0 160h10v10h-10zM30 160h10v10h-10zM70 160h10v10h-10zM90 160h10v10h-10zM100 160h10v10h-10zM110 160h10v10h-10zM130 160h10v10h-10zM200 160h10v10h-10zM210 160h10v10h-10zM230 160h10v10h-10zM240 160h10v10h-10zM-5 170h10v10h-10zM15 170h10v10h-10zM55 170h10v10h-10zM65 170h10v10h-10zM75 170h10v10h-10zM85 170h10v10h-10zM95 170h10v10h-10zM105 170h10v10h-10zM165 170h10v10h-10zM175 170h10v10h-10zM185 170h10v10h-10zM205 170h10v10h-10zM235 170h10v10h-10zM10 180h10v10h-10zM30 180h10v10h-10zM50 180h10v10h-10zM70 180h10v10h-10zM80 180h10v10h-10zM90 180h10v10h-10zM120 180h10v10h-10zM130 180h10v10h-10zM180 180h10v10h-10zM220 180h10v10h-10zM230 180h10v10h-10zM15 190h10v10h-10zM25 190h10v10h-10zM45 190h10v10h-10zM55 190h10v10h-10zM65 190h10v10h-10zM75 190h10v10h-10zM95 190h10v10h-10zM105 190h10v10h-10zM125 190h10v10h-10zM135 190h10v10h-10zM165 190h10v10h-10zM185 190h10v10h-10zM205 190h10v10h-10zM215 190h10v10h-10zM225 190h10v10h-10zM10 200h10v10h-10zM30 200h10v10h-10zM50 200h10v10h-10zM70 200h10v10h-10zM80 200h10v10h-10zM110 200h10v10h-10zM220 200h10v10h-10zM-5 210h10v10h-10zM15 210h10v10h-10zM75 210h10v10h-10zM95 210h10v10h-10zM155 210h10v10h-10zM175 210h10v10h-10zM185 210h10v10h-10zM195 210h10v10h-10zM205 210h10v10h-10zM235 210h10v10h-10zM0 220h10v10h-10zM10 220h10v10h-10zM20 220h10v10h-10zM40 220h10v10h-10zM50 220h10v10h-10zM60 220h10v10h-10zM90 220h10v10h-10zM110 220h10v10h-10zM120 220h10v10h-10zM130 220h10v10h-10zM140 220h10v10h-10zM160 220h10v10h-10zM190 220h10v10h-10zM200 220h10v10h-10zM220 220h10v10h-10zM230 220h10v10h-10zM240 220h10v10h-10zM-5 230h10v10h-10zM5 230h10v10h-10zM15 230h10v10h-10zM35 230h10v10h-10zM45 230h10v10h-10zM65 230h10v10h-10zM75 230h10v10h-10zM85 230h10v10h-10zM95 230h10v10h-10zM135 230h10v10h-10zM165 230h10v10h-10zM175 230h10v10h-10zM185 230h10v10h-10zM195 230h10v10h-10zM215 230h10v10h-10zM235 230h10v10h-10zM0 240h10v10h-10zM10 240h10v10h-10zM30 240h10v10h-10zM40 240h10v10h-10zM50 240h10v10h-10zM60 240h10v10h-10zM80 240h10v10h-10zM90 240h10v10h-10zM120 240h10v10h-10zM140 240h10v10h-10zM160 240h10v10h-10zM170 240h10v10h-10zM180 240h10v10h-10zM190 240h10v10h-10zM200 240h10v10h-10zM210 240h10v10h-10zM230 240h10v10h-10zM240 240h10v10h-10zM-5 250h10v10h-10zM5 250h10v10h-10zM25 250h10v10h-10zM35 250h10v10h-10zM45 250h10v10h-10zM75 250h10v10h-10zM125 250h10v10h-10zM135 250h10v10h-10zM145 250h10v10h-10zM155 250h10v10h-10zM175 250h10v10h-10zM215 250h10v10h-10zM235 250h10v10h-10zM0 260h10v10h-10zM10 260h10v10h-10zM20 260h10v10h-10zM40 260h10v10h-10zM50 260h10v10h-10zM60 260h10v10h-10zM80 260h10v10h-10zM110 260h10v10h-10zM120 260h10v10h-10zM140 260h10v10h-10zM160 260h10v10h-10zM170 260h10v10h-10zM180 260h10v10h-10zM200 260h10v10h-10zM220 260h10v10h-10zM230 260h10v10h-10zM240 260h10v10h-10zM-5 270h10v10h-10zM5 270h10v10h-10zM15 270h10v10h-10zM25 270h10v10h-10zM35 270h10v10h-10zM55 270h10v10h-10zM65 270h10v10h-10zM75 270h10v10h-10zM135 270h10v10h-10zM165 270h10v10h-10zM185 270h10v10h-10zM195 270h10v10h-10zM225 270h10v10h-10zM235 270h10v10h-10z" fill="#8e6ada"/></pattern><pattern id="mbr3" patternUnits="userSpaceOnUse" width="240" height="280" patternTransform="scale(0.2 0.15)"><path d="M0 0h10v10h-10zM50 0h10v10h-10zM80 0h10v10h-10zM90 0h10v10h-10zM100 0h10v10h-10zM110 0h10v10h-10zM120 0h10v10h-10zM130 0h10v10h-10zM140 0h10v10h-10zM150 0h10v10h-10zM160 0h10v10h-10zM170 0h10v10h-10zM180 0h10v10h-10zM190 0h10v10h-10zM210 0h10v10h-10zM220 0h10v10h-10zM230 0h10v10h-10zM240 0h10v10h-10zM-5 10h10v10h-10zM5 10h10v10h-10zM15 10h10v10h-10zM75 10h10v10h-10zM85 10h10v10h-10zM115 10h10v10h-10zM125 10h10v10h-10zM135 10h10v10h-10zM145 10h10v10h-10zM155 10h10v10h-10zM165 10h10v10h-10zM175 10h10v10h-10zM205 10h10v10h-10zM225 10h10v10h-10zM235 10h10v10h-10zM10 20h10v10h-10zM30 20h10v10h-10zM40 20h10v10h-10zM50 20h10v10h-10zM60 20h10v10h-10zM80 20h10v10h-10zM90 20h10v10h-10zM100 20h10v10h-10zM120 20h10v10h-10zM150 20h10v10h-10zM220 20h10v10h-10zM230 20h10v10h-10zM-5 30h10v10h-10zM5 30h10v10h-10zM25 30h10v10h-10zM35 30h10v10h-10zM45 30h10v10h-10zM55 30h10v10h-10zM65 30h10v10h-10zM75 30h10v10h-10zM125 30h10v10h-10zM185 30h10v10h-10zM205 30h10v10h-10zM235 30h10v10h-10zM0 40h10v10h-10zM20 40h10v10h-10zM30 40h10v10h-10zM40 40h10v10h-10zM50 40h10v10h-10zM70 40h10v10h-10zM120 40h10v10h-10zM140 40h10v10h-10zM190 40h10v10h-10zM200 40h10v10h-10zM210 40h10v10h-10zM220 40h10v10h-10zM230 40h10v10h-10zM240 40h10v10h-10zM5 50h10v10h-10zM45 50h10v10h-10zM55 50h10v10h-10zM65 50h10v10h-10zM75 50h10v10h-10zM115 50h10v10h-10zM145 50h10v10h-10zM175 50h10v10h-10zM0 60h10v10h-10zM20 60h10v10h-10zM30 60h10v10h-10zM40 60h10v10h-10zM60 60h10v10h-10zM100 60h10v10h-10zM130 60h10v10h-10zM150 60h10v10h-10zM210 60h10v10h-10zM230 60h10v10h-10zM240 60h10v10h-10zM-5 70h10v10h-10zM5 70h10v10h-10zM25 70h10v10h-10zM55 70h10v10h-10zM75 70h10v10h-10zM85 70h10v10h-10zM105 70h10v10h-10zM115 70h10v10h-10zM195 70h10v10h-10zM225 70h10v10h-10zM235 70h10v10h-10zM0 80h10v10h-10zM10 80h10v10h-10zM20 80h10v10h-10zM70 80h10v10h-10zM90 80h10v10h-10zM100 80h10v10h-10zM110 80h10v10h-10zM130 80h10v10h-10zM140 80h10v10h-10zM200 80h10v10h-10zM240 80h10v10h-10zM-5 90h10v10h-10zM15 90h10v10h-10zM25 90h10v10h-10zM75 90h10v10h-10zM95 90h10v10h-10zM125 90h10v10h-10zM135 90h10v10h-10zM145 90h10v10h-10zM205 90h10v10h-10zM235 90h10v10h-10zM0 100h10v10h-10zM10 100h10v10h-10zM20 100h10v10h-10zM30 100h10v10h-10zM90 100h10v10h-10zM110 100h10v10h-10zM120 100h10v10h-10zM130 100h10v10h-10zM150 100h10v10h-10zM200 100h10v10h-10zM240 100h10v10h-10zM-5 110h10v10h-10zM5 110h10v10h-10zM25 110h10v10h-10zM45 110h10v10h-10zM55 110h10v10h-10zM65 110h10v10h-10zM95 110h10v10h-10zM105 110h10v10h-10zM135 110h10v10h-10zM145 110h10v10h-10zM165 110h10v10h-10zM175 110h10v10h-10zM205 110h10v10h-10zM235 110h10v10h-10zM0 120h10v10h-10zM10 120h10v10h-10zM20 120h10v10h-10zM30 120h10v10h-10zM70 120h10v10h-10zM90 120h10v10h-10zM100 120h10v10h-10zM110 120h10v10h-10zM130 120h10v10h-10zM150 120h10v10h-10zM160 120h10v10h-10zM170 120h10v10h-10zM180 120h10v10h-10zM190 120h10v10h-10zM200 120h10v10h-10zM240 120h10v10h-10zM-5 130h10v10h-10zM5 130h10v10h-10zM15 130h10v10h-10zM55 130h10v10h-10zM85 130h10v10h-10zM95 130h10v10h-10zM105 130h10v10h-10zM115 130h10v10h-10zM125 130h10v10h-10zM135 130h10v10h-10zM145 130h10v10h-10zM165 130h10v10h-10zM175 130h10v10h-10zM185 130h10v10h-10zM195 130h10v10h-10zM225 130h10v10h-10zM235 130h10v10h-10zM0 140h10v10h-10zM10 140h10v10h-10zM20 140h10v10h-10zM70 140h10v10h-10zM110 140h10v10h-10zM150 140h10v10h-10zM160 140h10v10h-10zM170 140h10v10h-10zM200 140h10v10h-10zM210 140h10v10h-10zM230 140h10v10h-10zM240 140h10v10h-10zM-5 150h10v10h-10zM35 150h10v10h-10zM105 150h10v10h-10zM115 150h10v10h-10zM155 150h10v10h-10zM175 150h10v10h-10zM185 150h10v10h-10zM195 150h10v10h-10zM205 150h10v10h-10zM215 150h10v10h-10zM235 150h10v10h-10zM70 160h10v10h-10zM110 160h10v10h-10zM140 160h10v10h-10zM150 160h10v10h-10zM170 160h10v10h-10zM180 160h10v10h-10zM190 160h10v10h-10zM210 160h10v10h-10zM220 160h10v10h-10zM5 170h10v10h-10zM15 170h10v10h-10zM25 170h10v10h-10zM55 170h10v10h-10zM65 170h10v10h-10zM75 170h10v10h-10zM85 170h10v10h-10zM95 170h10v10h-10zM115 170h10v10h-10zM165 170h10v10h-10zM175 170h10v10h-10zM185 170h10v10h-10zM195 170h10v10h-10zM215 170h10v10h-10zM225 170h10v10h-10zM30 180h10v10h-10zM120 180h10v10h-10zM140 180h10v10h-10zM150 180h10v10h-10zM160 180h10v10h-10zM170 180h10v10h-10zM210 180h10v10h-10zM230 180h10v10h-10zM15 190h10v10h-10zM25 190h10v10h-10zM55 190h10v10h-10zM75 190h10v10h-10zM85 190h10v10h-10zM105 190h10v10h-10zM115 190h10v10h-10zM135 190h10v10h-10zM145 190h10v10h-10zM175 190h10v10h-10zM195 190h10v10h-10zM205 190h10v10h-10zM225 190h10v10h-10zM10 200h10v10h-10zM40 200h10v10h-10zM50 200h10v10h-10zM70 200h10v10h-10zM80 200h10v10h-10zM90 200h10v10h-10zM100 200h10v10h-10zM130 200h10v10h-10zM140 200h10v10h-10zM150 200h10v10h-10zM180 200h10v10h-10zM220 200h10v10h-10zM25 210h10v10h-10zM55 210h10v10h-10zM65 210h10v10h-10zM95 210h10v10h-10zM135 210h10v10h-10zM155 210h10v10h-10zM225 210h10v10h-10zM0 220h10v10h-10zM20 220h10v10h-10zM30 220h10v10h-10zM40 220h10v10h-10zM50 220h10v10h-10zM60 220h10v10h-10zM70 220h10v10h-10zM100 220h10v10h-10zM110 220h10v10h-10zM120 220h10v10h-10zM140 220h10v10h-10zM170 220h10v10h-10zM180 220h10v10h-10zM210 220h10v10h-10zM240 220h10v10h-10zM-5 230h10v10h-10zM15 230h10v10h-10zM35 230h10v10h-10zM45 230h10v10h-10zM65 230h10v10h-10zM75 230h10v10h-10zM95 230h10v10h-10zM125 230h10v10h-10zM135 230h10v10h-10zM145 230h10v10h-10zM155 230h10v10h-10zM215 230h10v10h-10zM235 230h10v10h-10zM0 240h10v10h-10zM10 240h10v10h-10zM30 240h10v10h-10zM40 240h10v10h-10zM60 240h10v10h-10zM70 240h10v10h-10zM80 240h10v10h-10zM90 240h10v10h-10zM100 240h10v10h-10zM130 240h10v10h-10zM160 240h10v10h-10zM170 240h10v10h-10zM180 240h10v10h-10zM190 240h10v10h-10zM220 240h10v10h-10zM230 240h10v10h-10zM240 240h10v10h-10zM-5 250h10v10h-10zM5 250h10v10h-10zM15 250h10v10h-10zM25 250h10v10h-10zM35 250h10v10h-10zM65 250h10v10h-10zM75 250h10v10h-10zM95 250h10v10h-10zM105 250h10v10h-10zM135 250h10v10h-10zM145 250h10v10h-10zM165 250h10v10h-10zM185 250h10v10h-10zM195 250h10v10h-10zM215 250h10v10h-10zM225 250h10v10h-10zM235 250h10v10h-10zM10 260h10v10h-10zM20 260h10v10h-10zM40 260h10v10h-10zM70 260h10v10h-10zM80 260h10v10h-10zM140 260h10v10h-10zM150 260h10v10h-10zM190 260h10v10h-10zM200 260h10v10h-10zM210 260h10v10h-10zM230 260h10v10h-10zM-5 270h10v10h-10zM15 270h10v10h-10zM25 270h10v10h-10zM65 270h10v10h-10zM75 270h10v10h-10zM85 270h10v10h-10zM105 270h10v10h-10zM135 270h10v10h-10zM155 270h10v10h-10zM175 270h10v10h-10zM185 270h10v10h-10zM205 270h10v10h-10zM215 270h10v10h-10zM225 270h10v10h-10zM235 270h10v10h-10z" fill="#964c48"/></pattern><pattern id="spotsA" patternUnits="userSpaceOnUse" width="2" height="2"><path fill="#afa7bf" fill-opacity="0.85" d="M1 0h1v1h-1zM0 1h1v1h-1z"/></pattern><pattern id="spotsB" patternUnits="userSpaceOnUse" width="2" height="2"><path fill="#a293b2" fill-opacity="0.85" d="M1 0h1v1h-1zM0 1h1v1h-1z"/></pattern><clipPath id="c_a_gt"><polygon points="31.0,105.1 31.0,88.8 34.7,85.0 37.2,77.4 41.5,69.1 47.2,63.6 57.1,58.6 68.7,55.8 82.4,53.5 94.7,51.5 107.4,50.3 118.1,50.0 124.9,49.3 126.5,46.0 133.6,45.5 134.9,50.3 133.6,54.0 129.7,59.8 137.5,68.6 148.7,72.4 150.0,78.7 150.0,110.1 148.7,135.3 140.0,140.3 119.9,145.4 94.7,150.9 69.8,152.4 49.8,151.7 41.0,147.9 39.8,130.3 39.8,115.2 34.7,110.1"/></clipPath><clipPath id="c_a_seurat"><polygon points="221.7,104.7 221.7,88.7 225.5,85.0 227.9,77.6 232.2,69.4 237.9,64.0 247.7,59.0 259.3,56.3 272.8,54.1 285.1,52.1 297.7,50.9 308.3,50.6 315.1,49.9 316.7,46.7 323.8,46.2 325.1,50.9 323.8,54.6 319.9,60.3 327.6,68.9 338.7,72.6 340.0,78.8 340.0,109.7 338.7,134.4 330.1,139.3 310.1,144.2 285.1,149.7 260.3,151.2 240.4,150.4 231.7,146.7 230.5,129.4 230.5,114.6 225.5,109.7"/></clipPath><clipPath id="c_a_scanpy"><polygon points="372.7,104.7 372.7,88.7 376.4,85.0 378.8,77.6 383.0,69.4 388.6,64.0 398.2,59.0 409.6,56.3 423.0,54.1 435.0,52.1 447.5,50.9 457.9,50.6 464.6,49.9 466.2,46.7 473.1,46.2 474.4,50.9 473.1,54.6 469.3,60.3 476.9,68.9 487.9,72.6 489.1,78.8 489.1,109.7 487.9,134.4 479.4,139.3 459.7,144.2 435.0,149.7 410.7,151.2 391.1,150.4 382.5,146.7 381.3,129.4 381.3,114.6 376.4,109.7"/></clipPath><clipPath id="c_a_sedr"><polygon points="519.6,104.5 519.6,88.5 523.2,84.8 525.6,77.4 529.8,69.3 535.2,63.9 544.8,59.0 556.0,56.3 569.1,54.0 581.0,52.1 593.2,50.8 603.5,50.6 610.1,49.9 611.6,46.7 618.5,46.2 619.8,50.8 618.5,54.5 614.8,60.2 622.2,68.8 633.0,72.5 634.2,78.6 634.2,109.4 633.0,134.0 624.6,138.9 605.2,143.8 581.0,149.2 557.0,150.7 537.8,150.0 529.2,146.3 528.1,129.1 528.1,114.3 523.2,109.4"/></clipPath><clipPath id="c_a_const"><polygon points="663.6,104.4 663.6,88.8 667.2,85.2 669.5,78.0 673.6,70.1 679.1,64.8 688.5,60.0 699.7,57.4 712.7,55.2 724.5,53.3 736.6,52.1 746.8,51.9 753.4,51.1 754.9,48.0 761.7,47.5 762.9,52.1 761.7,55.7 758.0,61.2 765.4,69.6 776.1,73.2 777.3,79.2 777.3,109.2 776.1,133.2 767.8,138.0 748.5,142.8 724.5,148.1 700.7,149.5 681.6,148.8 673.1,145.2 672.0,128.4 672.0,114.0 667.2,109.2"/></clipPath><clipPath id="c_a_stlearn"><polygon points="222.4,259.4 222.4,243.3 226.1,239.6 228.5,232.2 232.7,224.0 238.3,218.5 248.0,213.6 259.5,210.9 272.9,208.6 285.0,206.7 297.5,205.4 307.9,205.2 314.7,204.4 316.2,201.2 323.2,200.7 324.5,205.4 323.2,209.1 319.4,214.8 327.1,223.5 338.0,227.2 339.3,233.4 339.3,264.4 338.0,289.2 329.5,294.1 309.7,299.1 285.0,304.5 260.5,306.0 240.9,305.3 232.2,301.6 231.1,284.2 231.1,269.3 226.1,264.4"/></clipPath><clipPath id="c_a_ccst"><polygon points="373.2,259.7 373.2,243.6 376.8,239.8 379.3,232.4 383.4,224.1 389.0,218.7 398.6,213.7 410.0,210.9 423.3,208.7 435.4,206.7 447.8,205.5 458.2,205.2 464.9,204.5 466.4,201.2 473.4,200.7 474.7,205.5 473.4,209.2 469.6,214.9 477.2,223.6 488.1,227.4 489.4,233.6 489.4,264.7 488.1,289.6 479.6,294.6 460.0,299.6 435.4,305.1 411.1,306.6 391.5,305.8 382.9,302.1 381.8,284.6 381.8,269.7 376.8,264.7"/></clipPath><clipPath id="c_a_spagcn"><polygon points="518.6,259.9 518.6,243.9 522.3,240.2 524.7,232.8 528.8,224.6 534.3,219.2 543.9,214.2 555.2,211.5 568.4,209.3 580.3,207.3 592.6,206.1 602.9,205.8 609.6,205.1 611.1,201.9 618.0,201.4 619.2,206.1 618.0,209.8 614.2,215.5 621.8,224.1 632.6,227.8 633.8,234.0 633.8,264.9 632.6,289.6 624.1,294.5 604.7,299.4 580.3,304.9 556.2,306.4 536.9,305.6 528.3,301.9 527.2,284.6 527.2,269.8 522.3,264.9"/></clipPath><clipPath id="c_a_efnst"><polygon points="663.0,258.4 663.0,242.9 666.5,239.4 668.8,232.2 672.9,224.4 678.3,219.1 687.6,214.4 698.6,211.8 711.5,209.6 723.2,207.7 735.2,206.5 745.2,206.3 751.7,205.6 753.2,202.5 759.9,202.0 761.2,206.5 759.9,210.1 756.3,215.6 763.6,223.9 774.2,227.5 775.4,233.4 775.4,263.2 774.2,287.0 765.9,291.7 746.9,296.5 723.2,301.7 699.6,303.1 680.7,302.4 672.4,298.9 671.3,282.2 671.3,267.9 666.5,263.2"/></clipPath><clipPath id="c_b_gt"><polygon points="47.1,390.1 154.0,390.1 154.0,425.5 147.4,429.7 146.8,453.5 146.6,503.1 143.3,503.3 137.3,506.6 130.7,510.8 118.1,515.0 109.8,516.6 94.0,515.8 85.5,513.3 73.1,509.1 63.0,504.9 60.5,499.8 54.7,489.9 47.9,479.8 42.1,470.6 37.8,463.9 33.7,452.9 32.0,442.3 32.0,428.3 34.1,417.1 35.5,408.1 39.4,401.7 43.8,398.1"/></clipPath><clipPath id="c_b_seurat"><polygon points="241.1,388.7 342.8,388.7 342.8,422.2 336.5,426.2 335.9,448.8 335.8,495.7 332.6,495.9 327.0,499.0 320.7,502.9 308.7,506.9 300.7,508.5 285.8,507.7 277.7,505.3 265.8,501.4 256.3,497.4 253.9,492.6 248.3,483.2 241.9,473.7 236.4,464.9 232.3,458.6 228.4,448.2 226.8,438.1 226.8,424.9 228.8,414.3 230.1,405.8 233.8,399.7 238.0,396.3"/></clipPath><clipPath id="c_b_scanpy"><polygon points="389.0,389.9 489.9,389.9 489.9,423.1 483.6,427.1 483.0,449.4 482.9,495.8 479.8,496.1 474.1,499.1 467.9,503.1 456.0,507.0 448.1,508.6 433.2,507.8 425.2,505.4 413.5,501.5 404.0,497.5 401.6,492.8 396.1,483.5 389.8,474.1 384.2,465.4 380.2,459.1 376.4,448.9 374.8,438.9 374.8,425.8 376.8,415.2 378.0,406.9 381.8,400.8 385.9,397.4"/></clipPath><clipPath id="c_b_sedr"><polygon points="535.9,391.1 635.9,391.1 635.9,424.0 629.7,427.9 629.1,450.0 629.0,496.0 625.9,496.3 620.3,499.3 614.1,503.2 602.3,507.1 594.5,508.6 579.7,507.9 571.8,505.5 560.2,501.6 550.7,497.7 548.4,493.0 542.9,483.8 536.6,474.4 531.1,465.9 527.2,459.6 523.3,449.5 521.7,439.6 521.7,426.6 523.7,416.2 524.9,407.9 528.7,401.9 532.8,398.5"/></clipPath><clipPath id="c_b_const"><polygon points="681.6,392.5 780.0,392.5 780.0,425.1 773.9,428.9 773.3,450.8 773.2,496.2 770.1,496.5 764.6,499.5 758.5,503.3 746.9,507.2 739.3,508.7 724.7,507.9 716.9,505.6 705.5,501.8 696.2,497.9 693.9,493.3 688.5,484.2 682.3,474.9 676.9,466.4 673.0,460.3 669.2,450.2 667.6,440.5 667.6,427.6 669.6,417.3 670.8,409.1 674.5,403.2 678.5,399.9"/></clipPath><clipPath id="c_b_stlearn"><polygon points="239.0,549.9 342.7,549.9 342.7,584.1 336.3,588.2 335.6,611.2 335.5,659.2 332.3,659.5 326.5,662.6 320.1,666.7 307.9,670.7 299.8,672.4 284.5,671.5 276.3,669.1 264.2,665.0 254.4,661.0 252.0,656.1 246.3,646.5 239.8,636.7 234.1,627.8 230.0,621.3 226.0,610.7 224.4,600.4 224.4,586.9 226.4,576.0 227.7,567.3 231.6,561.1 235.8,557.6"/></clipPath><clipPath id="c_b_ccst"><polygon points="387.5,552.2 489.6,552.2 489.6,586.1 483.3,590.1 482.6,612.9 482.5,660.3 479.4,660.6 473.7,663.7 467.3,667.7 455.3,671.7 447.3,673.3 432.3,672.5 424.2,670.1 412.3,666.1 402.7,662.1 400.3,657.3 394.7,647.7 388.2,638.1 382.7,629.2 378.6,622.8 374.7,612.4 373.1,602.2 373.1,588.8 375.1,578.1 376.3,569.5 380.1,563.3 384.3,559.8"/></clipPath><clipPath id="c_b_spagcn"><polygon points="536.7,553.1 638.7,553.1 638.7,586.6 632.4,590.6 631.8,613.0 631.6,659.9 628.5,660.1 622.8,663.2 616.5,667.2 604.5,671.1 596.5,672.7 581.5,671.9 573.4,669.5 561.5,665.6 551.9,661.6 549.5,656.8 543.9,647.4 537.5,637.9 531.9,629.2 527.9,622.8 523.9,612.5 522.3,602.5 522.3,589.2 524.3,578.7 525.6,570.2 529.4,564.1 533.5,560.7"/></clipPath><clipPath id="c_b_efnst"><polygon points="680.3,554.1 780.1,554.1 780.1,586.7 773.9,590.6 773.3,612.5 773.2,658.2 770.1,658.4 764.5,661.4 758.4,665.3 746.6,669.1 738.8,670.7 724.1,669.9 716.2,667.6 704.6,663.7 695.2,659.8 692.8,655.2 687.4,646.0 681.0,636.8 675.6,628.2 671.6,622.0 667.8,612.0 666.2,602.2 666.2,589.3 668.2,579.0 669.4,570.7 673.1,564.8 677.2,561.4"/></clipPath></defs>
<text x="5.2" y="9.8" font-size="17" font-weight="bold" text-anchor="start" fill="#111"  stroke="#111" stroke-width="0.18">a</text>
<text x="6.6" y="352.5" font-size="17" font-weight="bold" text-anchor="start" fill="#111"  stroke="#111" stroke-width="0.18">b</text>
<text x="6.0" y="709" font-size="17" font-weight="bold" text-anchor="start" fill="#111"  stroke="#111" stroke-width="0.18">c</text>
<rect x="10" y="16.4" width="787.5" height="314.6" fill="none" stroke="#a3a3a3" stroke-width="1.5" stroke-dasharray="5.6 4"/>
<rect x="10" y="361" width="788" height="329.5" fill="none" stroke="#a3a3a3" stroke-width="1.5" stroke-dasharray="5.6 4"/>
<rect x="10.3" y="717.4" width="787.5" height="251.60000000000002" fill="none" stroke="#a3a3a3" stroke-width="1.5" stroke-dasharray="5.6 4"/>
<text x="0" y="0" transform="translate(19,33.6) scale(1,1.13)" font-size="12.7" font-weight="bold" text-anchor="start" fill="#111" style="white-space:pre"  stroke="#111" stroke-width="0.18">The Ground Truth of 151670</text>
<text x="0" y="0" transform="translate(23.7,377.8) scale(1,1.13)" font-size="12.7" font-weight="bold" text-anchor="start" fill="#111" style="white-space:pre"  stroke="#111" stroke-width="0.18">The Ground Truth of 151507</text>
<text x="235.6" y="35.2" font-size="11.7" font-weight="bold" text-anchor="start" fill="#111"  stroke="#111" stroke-width="0.18">Seurat: ARI=0.34</text>
<text x="388.2" y="35.4" font-size="11.7" font-weight="bold" text-anchor="start" fill="#111"  stroke="#111" stroke-width="0.18">Scanpy: ARI=0.20</text>
<text x="540.5" y="35.4" font-size="11.7" font-weight="bold" text-anchor="start" fill="#111"  stroke="#111" stroke-width="0.18">SEDR: ARI=0.33</text>
<text x="672.5" y="35.4" font-size="11.7" font-weight="bold" text-anchor="start" fill="#111"  stroke="#111" stroke-width="0.18">conST: ARI=0.26</text>
<text x="234.9" y="188.4" font-size="11.7" font-weight="bold" text-anchor="start" fill="#111"  stroke="#111" stroke-width="0.18">stLearn: ARI=0.23</text>
<text x="390.5" y="189.5" font-size="11.7" font-weight="bold" text-anchor="start" fill="#111"  stroke="#111" stroke-width="0.18">CCST: ARI=0.28</text>
<text x="530.7" y="188.4" font-size="11.7" font-weight="bold" text-anchor="start" fill="#111"  stroke="#111" stroke-width="0.18">SpaGCN: ARI=0.36</text>
<text x="677" y="190" font-size="11.7" font-weight="bold" text-anchor="start" fill="#111"  stroke="#111" stroke-width="0.18">EfNST: ARI=0.55</text>
<text x="241.2" y="377.7" font-size="11.7" font-weight="bold" text-anchor="start" fill="#111"  stroke="#111" stroke-width="0.18">Seurat: ARI=0.34</text>
<text x="388.6" y="378.5" font-size="11.7" font-weight="bold" text-anchor="start" fill="#111"  stroke="#111" stroke-width="0.18">Scanpy: ARI=0.22</text>
<text x="533.7" y="378.9" font-size="11.7" font-weight="bold" text-anchor="start" fill="#111"  stroke="#111" stroke-width="0.18">SEDR: ARI=0.41</text>
<text x="682.6" y="378.9" font-size="11.7" font-weight="bold" text-anchor="start" fill="#111"  stroke="#111" stroke-width="0.18">conST: ARI=0.39</text>
<text x="233" y="537.4" font-size="11.7" font-weight="bold" text-anchor="start" fill="#111"  stroke="#111" stroke-width="0.18">stLearn: ARI=0.49</text>
<text x="387.5" y="540" font-size="11.7" font-weight="bold" text-anchor="start" fill="#111"  stroke="#111" stroke-width="0.18">CCST: ARI=0.43</text>
<text x="530" y="539" font-size="11.7" font-weight="bold" text-anchor="start" fill="#111"  stroke="#111" stroke-width="0.18">SpaGCN: ARI=0.45</text>
<text x="678" y="539" font-size="11.7" font-weight="bold" text-anchor="start" fill="#111"  stroke="#111" stroke-width="0.18">EfNST: ARI=0.52</text>
<text x="0" y="0" transform="translate(168.2,253.6) scale(1,1.18)" font-size="12.6" font-weight="bold" text-anchor="start" fill="#111" style="white-space:pre"  stroke="#111" stroke-width="0.18">H&amp;E</text>
<text x="0" y="0" transform="translate(170.3,620.0) scale(1,1.18)" font-size="12.6" font-weight="bold" text-anchor="start" fill="#111" style="white-space:pre"  stroke="#111" stroke-width="0.18">H&amp;E</text>
<circle cx="172" cy="74.00" r="3.1" fill="#3d80c0"/>
<text x="180" y="77.9" font-size="8.9" font-weight="bold" text-anchor="start" fill="#111"  stroke="#111" stroke-width="0.18">Layer3</text>
<circle cx="172" cy="85.97" r="3.1" fill="#f5852b"/>
<text x="180" y="89.87" font-size="8.9" font-weight="bold" text-anchor="start" fill="#111"  stroke="#111" stroke-width="0.18">Layer4</text>
<circle cx="172" cy="97.94" r="3.1" fill="#3cae40"/>
<text x="180" y="101.84" font-size="8.9" font-weight="bold" text-anchor="start" fill="#111"  stroke="#111" stroke-width="0.18">Layer5</text>
<circle cx="172" cy="109.91" r="3.1" fill="#d83232"/>
<text x="180" y="113.81" font-size="8.9" font-weight="bold" text-anchor="start" fill="#111"  stroke="#111" stroke-width="0.18">Layer6</text>
<circle cx="172" cy="121.88" r="3.1" fill="#9a6cd0"/>
<text x="180" y="125.78" font-size="8.9" font-weight="bold" text-anchor="start" fill="#111"  stroke="#111" stroke-width="0.18">WM</text>
<circle cx="173.6" cy="409.80" r="3.3" fill="#3d80c0"/>
<text x="184.3" y="413.7" font-size="9.6" font-weight="bold" text-anchor="start" fill="#111"  stroke="#111" stroke-width="0.18">Layer1</text>
<circle cx="173.6" cy="423.48" r="3.3" fill="#f5852b"/>
<text x="184.3" y="427.38" font-size="9.6" font-weight="bold" text-anchor="start" fill="#111"  stroke="#111" stroke-width="0.18">Layer2</text>
<circle cx="173.6" cy="437.16" r="3.3" fill="#3cae40"/>
<text x="184.3" y="441.06" font-size="9.6" font-weight="bold" text-anchor="start" fill="#111"  stroke="#111" stroke-width="0.18">Layer3</text>
<circle cx="173.6" cy="450.84" r="3.3" fill="#d83232"/>
<text x="184.3" y="454.74" font-size="9.6" font-weight="bold" text-anchor="start" fill="#111"  stroke="#111" stroke-width="0.18">Layer4</text>
<circle cx="173.6" cy="464.52" r="3.3" fill="#9a6cd0"/>
<text x="184.3" y="468.41999999999996" font-size="9.6" font-weight="bold" text-anchor="start" fill="#111"  stroke="#111" stroke-width="0.18">Layer5</text>
<circle cx="173.6" cy="478.20" r="3.3" fill="#8e5750"/>
<text x="184.3" y="482.1" font-size="9.6" font-weight="bold" text-anchor="start" fill="#111"  stroke="#111" stroke-width="0.18">Layer6</text>
<circle cx="173.6" cy="491.88" r="3.3" fill="#e07ad6"/>
<text x="184.3" y="495.78" font-size="9.6" font-weight="bold" text-anchor="start" fill="#111"  stroke="#111" stroke-width="0.18">WM</text>
<rect x="27.2" y="40.2" width="129.80" height="125.80" fill="#c3c7c6"/><rect x="29.7" y="42.7" width="124.80" height="120.80" fill="none" stroke="#a9adad" stroke-width="1" stroke-dasharray="1 1.5"/><g clip-path="url(#c_a_gt)"><polygon points="27.2,40.2 157.0,40.2 157.0,166.0 27.2,166.0" fill="#427ec9"/><polygon points="27.2,116.2 40.1,116.2 51.3,109.8 62.8,104.9 75.7,104.9 88.7,108.1 100.1,112.9 113.1,119.5 127.7,126.0 140.8,130.8 147.3,134.0 157.0,134.0 157.0,166.0 27.2,166.0" fill="#f4863a"/><polygon points="27.2,121.1 41.6,121.1 51.3,114.5 64.3,110.5 79.0,110.5 92.0,114.5 105.1,119.5 118.1,126.0 132.6,132.4 144.0,137.3 157.0,137.3 157.0,166.0 27.2,166.0" fill="#4cad3f"/><polygon points="27.2,140.8 41.6,140.6 51.3,135.7 62.8,129.3 72.5,127.6 83.9,126.8 95.2,129.3 105.1,134.0 113.1,139.0 121.2,145.5 124.5,147.1 128.4,166.0 27.2,166.0" fill="#e42a2e"/><polygon points="53.2,159.7 54.6,151.9 57.8,145.5 64.3,139.8 75.7,138.2 92.0,138.2 100.1,140.6 105.1,145.5 108.2,150.4 110.3,159.7" fill="#8e6ada"/><rect x="27.2" y="40.2" width="129.80" height="125.80" fill="url(#spotsA)"/></g><rect x="27.2" y="40.2" width="129.80" height="125.80" fill="none" stroke="#3c3c3c" stroke-width="1.3"/>
<rect x="218" y="41" width="129.00" height="123.50" fill="#c3c7c6"/><rect x="220.5" y="43.5" width="124.00" height="118.50" fill="none" stroke="#a9adad" stroke-width="1" stroke-dasharray="1 1.5"/><g clip-path="url(#c_a_seurat)"><polygon points="218.0,41.0 347.0,41.0 347.0,164.5 218.0,164.5" fill="#427ec9"/><polygon points="218.0,41.0 347.0,41.0 347.0,164.5 218.0,164.5" fill="url(#mo0)"/><polygon points="228.3,70.6 233.5,58.3 246.4,54.6 259.3,53.4 249.0,59.5 237.3,66.9 230.9,78.0" fill="#e42a2e"/><polygon points="228.3,70.6 233.5,58.3 246.4,54.6 259.3,53.4 249.0,59.5 237.3,66.9 230.9,78.0" fill="url(#mo2)"/><polygon points="228.3,70.6 233.5,58.3 246.4,54.6 259.3,53.4 249.0,59.5 237.3,66.9 230.9,78.0" fill="url(#mb1)"/><polygon points="300.6,44.7 326.4,44.7 326.4,60.8 316.0,62.0 303.1,55.8" fill="#e42a2e"/><polygon points="300.6,44.7 326.4,44.7 326.4,60.8 316.0,62.0 303.1,55.8" fill="url(#mo2)"/><polygon points="300.6,44.7 326.4,44.7 326.4,60.8 316.0,62.0 303.1,55.8" fill="url(#mp1)"/><polygon points="311.5,71.5 321.2,68.2 334.1,70.6 347.0,73.1 347.0,132.4 330.9,132.4 321.2,117.6 312.2,106.5 314.8,90.4" fill="#f4863a"/><polygon points="311.5,71.5 321.2,68.2 334.1,70.6 347.0,73.1 347.0,132.4 330.9,132.4 321.2,117.6 312.2,106.5 314.8,90.4" fill="url(#mb2)"/><polygon points="311.5,71.5 321.2,68.2 334.1,70.6 347.0,73.1 347.0,132.4 330.9,132.4 321.2,117.6 312.2,106.5 314.8,90.4" fill="url(#mr1)"/><polygon points="218.0,115.1 232.2,115.1 250.2,113.2 266.4,110.2 282.5,111.4 298.6,118.1 314.8,127.5 330.9,134.1 337.3,135.7 347.0,135.7 347.0,164.5 218.0,164.5" fill="#4cad3f"/><polygon points="218.0,115.1 232.2,115.1 250.2,113.2 266.4,110.2 282.5,111.4 298.6,118.1 314.8,127.5 330.9,134.1 337.3,135.7 347.0,135.7 347.0,164.5 218.0,164.5" fill="url(#mb1)"/><polygon points="243.8,108.9 276.1,106.5 276.1,115.1 243.8,117.6" fill="#427ec9"/><polygon points="243.8,108.9 276.1,106.5 276.1,115.1 243.8,117.6" fill="url(#mg2)"/><polygon points="228.3,111.4 239.9,111.4 241.2,121.3 237.3,131.2 228.3,131.2" fill="#8e6ada"/><polygon points="228.3,111.4 239.9,111.4 241.2,121.3 237.3,131.2 228.3,131.2" fill="url(#mb1)"/><polygon points="228.3,111.4 239.9,111.4 241.2,121.3 237.3,131.2 228.3,131.2" fill="url(#mg1)"/><polygon points="241.2,137.3 247.7,137.3 246.4,143.5 242.5,142.3" fill="#8e6ada"/><rect x="218" y="41" width="129.00" height="123.50" fill="url(#spotsA)"/></g><rect x="218" y="41" width="129.00" height="123.50" fill="none" stroke="#3c3c3c" stroke-width="1.3"/>
<rect x="369" y="41" width="127.00" height="123.50" fill="#c3c7c6"/><rect x="371.5" y="43.5" width="122.00" height="118.50" fill="none" stroke="#a9adad" stroke-width="1" stroke-dasharray="1 1.5"/><g clip-path="url(#c_a_scanpy)"><polygon points="369.0,41.0 496.0,41.0 496.0,164.5 369.0,164.5" fill="#427ec9"/><polygon points="369.0,41.0 496.0,41.0 496.0,164.5 369.0,164.5" fill="url(#mr1)"/><polygon points="369.0,41.0 496.0,41.0 496.0,164.5 369.0,164.5" fill="url(#mo0)"/><polygon points="381.7,50.9 457.9,50.9 457.9,108.9 381.7,96.6" fill="url(#mr0)"/><polygon points="461.7,73.1 476.9,68.2 496.0,71.9 496.0,127.5 483.3,134.9 470.6,129.9 460.4,117.6 457.9,102.8 460.4,90.4" fill="#f4863a"/><polygon points="461.7,73.1 476.9,68.2 496.0,71.9 496.0,127.5 483.3,134.9 470.6,129.9 460.4,117.6 457.9,102.8 460.4,90.4" fill="url(#mb2)"/><polygon points="461.7,73.1 476.9,68.2 496.0,71.9 496.0,127.5 483.3,134.9 470.6,129.9 460.4,117.6 457.9,102.8 460.4,90.4" fill="url(#mr1)"/><polygon points="369.0,96.6 383.0,96.6 391.9,102.8 400.8,107.7 416.6,115.1 440.1,123.1 456.6,129.9 480.1,134.2 496.0,134.2 496.0,164.5 369.0,164.5" fill="#8e6ada"/><polygon points="369.0,96.6 383.0,96.6 391.9,102.8 400.8,107.7 416.6,115.1 440.1,123.1 456.6,129.9 480.1,134.2 496.0,134.2 496.0,164.5 369.0,164.5" fill="url(#mr2)"/><polygon points="369.0,96.6 383.0,96.6 391.9,102.8 400.8,107.7 416.6,115.1 440.1,123.1 456.6,129.9 480.1,134.2 496.0,134.2 496.0,164.5 369.0,164.5" fill="url(#mg1)"/><polygon points="372.8,78.0 384.2,80.5 389.3,102.8 384.2,115.1 372.8,115.1" fill="#8e6ada"/><polygon points="372.8,78.0 384.2,80.5 389.3,102.8 384.2,115.1 372.8,115.1" fill="url(#mr1)"/><polygon points="372.8,78.0 384.2,80.5 389.3,102.8 384.2,115.1 372.8,115.1" fill="url(#mo1)"/><polygon points="393.1,110.2 407.1,108.9 426.1,112.6 440.1,120.0 432.5,127.5 413.4,129.9 394.4,127.5" fill="#4cad3f"/><polygon points="393.1,110.2 407.1,108.9 426.1,112.6 440.1,120.0 432.5,127.5 413.4,129.9 394.4,127.5" fill="url(#mr2)"/><polygon points="393.1,110.2 407.1,108.9 426.1,112.6 440.1,120.0 432.5,127.5 413.4,129.9 394.4,127.5" fill="url(#mp2)"/><polygon points="381.7,125.0 400.8,122.5 424.9,129.9 419.8,144.7 400.8,149.7 381.7,147.2" fill="#e42a2e"/><polygon points="381.7,125.0 400.8,122.5 424.9,129.9 419.8,144.7 400.8,149.7 381.7,147.2" fill="url(#mp2)"/><polygon points="381.7,125.0 400.8,122.5 424.9,129.9 419.8,144.7 400.8,149.7 381.7,147.2" fill="url(#mg1)"/><polygon points="450.3,44.7 475.7,44.7 475.7,60.8 465.5,62.0 452.8,55.8" fill="#e42a2e"/><polygon points="450.3,44.7 475.7,44.7 475.7,60.8 465.5,62.0 452.8,55.8" fill="url(#mo2)"/><polygon points="450.3,44.7 475.7,44.7 475.7,60.8 465.5,62.0 452.8,55.8" fill="url(#mp1)"/><rect x="369" y="41" width="127.00" height="123.50" fill="url(#spotsA)"/></g><rect x="369" y="41" width="127.00" height="123.50" fill="none" stroke="#3c3c3c" stroke-width="1.3"/>
<rect x="516" y="41" width="125.00" height="123.00" fill="#c3c7c6"/><rect x="518.5" y="43.5" width="120.00" height="118.00" fill="none" stroke="#a9adad" stroke-width="1" stroke-dasharray="1 1.5"/><g clip-path="url(#c_a_sedr)"><polygon points="516.0,41.0 641.0,41.0 641.0,164.0 516.0,164.0" fill="#427ec9"/><polygon points="516.0,81.6 525.4,80.1 534.8,69.2 539.4,64.4 554.8,64.4 562.9,67.6 575.4,64.4 586.0,66.0 594.1,72.2 591.0,76.9 584.8,81.6 587.9,92.7 600.4,103.5 612.9,108.2 625.4,109.9 633.5,119.1 641.0,122.2 641.0,164.0 516.0,164.0" fill="#f4863a"/><polygon points="577.2,50.8 588.5,50.8 588.5,57.0 578.5,57.0" fill="#f4863a"/><polygon points="597.2,48.4 609.8,48.4 609.8,58.2 598.5,58.2" fill="#f4863a"/><polygon points="528.5,65.6 591.0,65.6 591.0,77.9 528.5,84.0" fill="url(#mb1)"/><polygon points="516.0,100.0 528.5,100.0 539.4,92.7 547.2,87.7 556.6,87.7 567.2,92.7 578.5,97.2 589.8,105.0 602.2,114.4 617.2,120.7 631.6,125.4 641.0,125.4 641.0,164.0 516.0,164.0" fill="#4cad3f"/><polygon points="539.8,77.9 556.0,76.7 553.5,87.7 541.0,87.7" fill="#4cad3f"/><polygon points="516.0,120.7 528.5,120.7 547.2,113.0 562.9,112.1 575.4,114.4 586.0,120.7 602.2,128.3 617.2,130.1 629.8,128.3 641.0,128.3 641.0,164.0 516.0,164.0" fill="#e42a2e"/><polygon points="536.0,151.7 536.0,147.3 542.2,137.9 552.2,130.1 562.9,123.8 572.2,125.4 581.6,130.1 587.9,133.2 602.2,137.9 616.0,141.0 616.0,151.7" fill="#8e6ada"/><polygon points="608.5,44.7 621.0,44.7 621.0,61.9 611.0,61.9" fill="#8e6ada"/><rect x="516" y="41" width="125.00" height="123.00" fill="url(#spotsA)"/></g><rect x="516" y="41" width="125.00" height="123.00" fill="none" stroke="#3c3c3c" stroke-width="1.3"/>
<rect x="660" y="42.5" width="124.00" height="120.00" fill="#c3c7c6"/><rect x="662.5" y="45.0" width="119.00" height="115.00" fill="none" stroke="#a9adad" stroke-width="1" stroke-dasharray="1 1.5"/><g clip-path="url(#c_a_const)"><polygon points="660.0,42.5 784.0,42.5 784.0,162.5 660.0,162.5" fill="#427ec9"/><polygon points="660.0,42.5 784.0,42.5 784.0,162.5 660.0,162.5" fill="url(#mr2)"/><polygon points="672.4,59.3 691.0,55.7 715.8,53.3 712.1,66.5 691.0,73.7 674.9,80.9" fill="#e42a2e"/><polygon points="672.4,59.3 691.0,55.7 715.8,53.3 712.1,66.5 691.0,73.7 674.9,80.9" fill="url(#mb2)"/><polygon points="666.2,78.5 697.2,76.1 734.4,82.1 771.6,108.5 777.8,120.5 666.2,108.5" fill="#427ec9"/><polygon points="666.2,78.5 697.2,76.1 734.4,82.1 771.6,108.5 777.8,120.5 666.2,108.5" fill="url(#mo2)"/><polygon points="666.2,78.5 697.2,76.1 734.4,82.1 771.6,108.5 777.8,120.5 666.2,108.5" fill="url(#mr1)"/><polygon points="660.0,92.9 666.2,92.9 675.5,96.5 691.0,88.6 706.5,90.1 722.0,93.3 729.4,102.5 745.6,108.5 760.4,114.5 774.7,122.4 784.0,122.4 784.0,162.5 660.0,162.5" fill="#f4863a"/><polygon points="660.0,92.9 666.2,92.9 675.5,96.5 691.0,88.6 706.5,90.1 722.0,93.3 729.4,102.5 745.6,108.5 760.4,114.5 774.7,122.4 784.0,122.4 784.0,162.5 660.0,162.5" fill="url(#mb1)"/><polygon points="660.0,110.1 673.6,110.1 683.6,102.5 698.4,97.7 714.6,99.4 729.4,105.5 745.6,113.3 760.4,120.9 774.7,126.3 784.0,126.3 784.0,162.5 660.0,162.5" fill="#4cad3f"/><polygon points="660.0,122.4 672.4,122.4 683.6,117.7 698.4,112.5 709.6,111.6 722.0,113.3 734.4,117.7 746.8,124.0 760.4,131.7 771.6,134.7 784.0,134.7 784.0,162.5 660.0,162.5" fill="#8e6ada"/><polygon points="739.4,46.1 764.2,46.1 764.2,62.9 754.2,62.9 741.8,56.9" fill="#4cad3f"/><rect x="660" y="42.5" width="124.00" height="120.00" fill="url(#spotsA)"/></g><rect x="660" y="42.5" width="124.00" height="120.00" fill="none" stroke="#3c3c3c" stroke-width="1.3"/>
<rect x="24.3" y="180" width="132.50" height="138.80" fill="#c3c7c6"/><rect x="26.8" y="182.5" width="127.50" height="133.80" fill="none" stroke="#a9adad" stroke-width="1" stroke-dasharray="1 1.5"/><polygon points="26.0,225.0 29.9,212.5 34.9,202.5 45.0,196.2 57.4,192.5 82.6,187.5 95.2,186.2 115.3,185.0 120.4,183.7 130.3,182.5 135.6,186.2 133.0,197.5 140.5,205.0 152.8,211.2 155.5,225.0 155.5,262.6 150.4,279.9 140.5,287.6 120.4,292.4 82.6,296.3 45.0,296.3 34.9,292.4 31.1,275.1 29.9,250.1 26.0,239.7" fill="#9e93b8"/><polygon points="127.6,211.9 152.8,213.3 155.5,235.5 152.8,261.9 140.9,249.4 130.3,228.6" fill="#aaa3c0"/><path d="M33.6 277.6 Q90.5 292.4 150.6 275.1" stroke="#9a5cb6" stroke-width="1.9" fill="none"/><path d="M33.6 270.9 Q64.0 273.0 94.5 279.9" stroke="#a274c0" stroke-width="0.8" fill="none"/><rect x="24.3" y="180" width="132.50" height="138.80" fill="none" stroke="#3c3c3c" stroke-width="1.3"/>
<rect x="218.7" y="195.5" width="127.50" height="123.90" fill="#c3c7c6"/><rect x="221.2" y="198.0" width="122.50" height="118.90" fill="none" stroke="#a9adad" stroke-width="1" stroke-dasharray="1 1.5"/><g clip-path="url(#c_a_stlearn)"><polygon points="218.7,195.5 346.2,195.5 346.2,319.4 218.7,319.4" fill="#427ec9"/><polygon points="256.9,207.9 282.4,205.4 290.1,245.1 269.7,247.5 254.4,226.5" fill="url(#mo2)"/><polygon points="256.9,207.9 282.4,205.4 290.1,245.1 269.7,247.5 254.4,226.5" fill="url(#mo1)"/><polygon points="282.4,195.5 282.4,206.7 287.5,219.5 290.1,235.1 295.2,248.3 301.6,259.4 311.1,267.4 322.0,275.4 333.4,280.2 346.2,284.7 346.2,195.5" fill="#f4863a"/><polygon points="282.4,195.5 282.4,206.7 287.5,219.5 290.1,235.1 295.2,248.3 301.6,259.4 311.1,267.4 322.0,275.4 333.4,280.2 346.2,284.7 346.2,195.5" fill="url(#mb1)"/><polygon points="290.1,238.9 307.9,251.3 320.7,272.3 297.8,264.9" fill="url(#mb3)"/><polygon points="314.3,230.2 327.1,227.7 342.4,225.2 342.4,257.4 327.1,255.0 318.1,245.1" fill="#4cad3f"/><polygon points="314.3,230.2 327.1,227.7 342.4,225.2 342.4,257.4 327.1,255.0 318.1,245.1" fill="url(#mo1)"/><polygon points="222.5,238.9 232.7,238.9 232.7,247.5 222.5,247.5" fill="#4cad3f"/><polygon points="218.7,275.4 232.7,275.4 242.9,267.4 250.6,259.4 266.5,256.2 282.4,259.4 290.1,262.4 301.6,270.6 314.3,278.5 327.1,284.7 334.7,288.4 346.2,288.4 346.2,319.4 218.7,319.4" fill="#e42a2e"/><polygon points="218.7,275.4 232.7,275.4 242.9,267.4 250.6,259.4 266.5,256.2 282.4,259.4 290.1,262.4 301.6,270.6 314.3,278.5 327.1,284.7 334.7,288.4 346.2,288.4 346.2,319.4 218.7,319.4" fill="url(#mb0)"/><polygon points="256.9,309.5 256.9,304.2 262.1,296.2 274.8,294.6 287.5,296.2 293.9,302.7 293.9,309.5" fill="#8e6ada"/><polygon points="310.5,199.2 325.8,199.2 325.8,215.3 315.6,215.3" fill="#e42a2e"/><polygon points="310.5,199.2 325.8,199.2 325.8,215.3 315.6,215.3" fill="url(#mp2)"/><rect x="218.7" y="195.5" width="127.50" height="123.90" fill="url(#spotsA)"/></g><rect x="218.7" y="195.5" width="127.50" height="123.90" fill="none" stroke="#3c3c3c" stroke-width="1.3"/>
<rect x="369.5" y="195.5" width="126.70" height="124.50" fill="#c3c7c6"/><rect x="372.0" y="198.0" width="121.70" height="119.50" fill="none" stroke="#a9adad" stroke-width="1" stroke-dasharray="1 1.5"/><g clip-path="url(#c_a_ccst)"><polygon points="369.5,195.5 496.2,195.5 496.2,320.0 369.5,320.0" fill="#427ec9"/><polygon points="369.5,238.6 383.4,238.6 393.6,233.7 401.2,231.4 412.6,232.1 421.4,235.3 429.8,239.9 437.8,246.3 448.9,252.8 461.7,259.1 473.0,265.6 484.2,271.9 490.6,276.8 496.2,276.8 496.2,320.0 369.5,320.0" fill="#f4863a"/><polygon points="369.5,279.9 383.4,279.9 392.9,275.2 404.2,270.3 417.0,268.0 429.8,268.7 441.0,271.9 452.2,276.8 465.0,283.1 477.8,288.0 485.8,291.1 496.2,291.1 496.2,320.0 369.5,320.0" fill="#4cad3f"/><polygon points="482.3,230.4 491.1,227.4 496.2,226.6 496.2,262.7 480.4,259.2 469.6,246.5 477.2,238.6" fill="#e42a2e"/><polygon points="373.3,238.6 383.4,238.6 383.4,248.2 373.3,248.2" fill="#e42a2e"/><polygon points="450.6,199.2 475.9,199.2 475.9,216.7 465.8,216.7 453.1,210.4" fill="#4cad3f"/><rect x="369.5" y="195.5" width="126.70" height="124.50" fill="url(#spotsA)"/></g><rect x="369.5" y="195.5" width="126.70" height="124.50" fill="none" stroke="#3c3c3c" stroke-width="1.3"/>
<rect x="515" y="196.2" width="125.60" height="123.50" fill="#c3c7c6"/><rect x="517.5" y="198.7" width="120.60" height="118.50" fill="none" stroke="#a9adad" stroke-width="1" stroke-dasharray="1 1.5"/><g clip-path="url(#c_a_spagcn)"><polygon points="515.0,196.2 640.6,196.2 640.6,319.7 515.0,319.7" fill="#427ec9"/><polygon points="518.8,248.1 518.8,233.2 527.6,223.4 535.1,212.3 546.4,208.5 567.8,206.1 571.5,211.0 552.7,216.0 540.1,223.4 533.8,233.2 530.1,245.6" fill="#8e6ada"/><polygon points="606.7,243.1 615.5,237.0 628.0,229.5 640.6,228.3 640.6,260.4 625.5,257.9 615.5,251.8" fill="#8e6ada"/><polygon points="515.0,248.1 528.8,248.1 538.9,243.1 546.4,240.2 562.1,243.1 574.7,243.1 580.9,248.1 587.2,255.9 596.6,260.4 609.2,260.4 621.8,260.4 631.2,271.5 640.6,271.5 640.6,319.7 515.0,319.7" fill="#f4863a"/><polygon points="515.0,280.9 528.8,280.9 535.1,273.1 546.4,268.4 559.0,263.6 570.3,262.1 580.9,268.4 593.5,274.6 604.2,276.2 616.7,284.1 629.3,285.6 640.6,285.6 640.6,319.7 515.0,319.7" fill="#4cad3f"/><polygon points="515.0,285.6 535.1,285.6 546.4,280.9 559.0,277.7 570.3,280.9 577.8,284.1 587.2,290.3 601.7,295.0 616.7,293.5 624.9,291.9 640.6,291.9 640.6,319.7 515.0,319.7" fill="#e42a2e"/><polygon points="527.6,295.0 537.6,290.1 546.4,295.0 546.4,309.8 527.6,309.8" fill="#e42a2e"/><polygon points="555.2,309.8 555.2,301.2 562.7,296.2 577.8,296.2 589.1,299.9 589.1,309.8" fill="#8e6ada"/><polygon points="595.4,199.9 620.5,199.9 620.5,217.2 610.5,217.2 597.9,211.0" fill="#e42a2e"/><rect x="515" y="196.2" width="125.60" height="123.50" fill="url(#spotsA)"/></g><rect x="515" y="196.2" width="125.60" height="123.50" fill="none" stroke="#3c3c3c" stroke-width="1.3"/>
<rect x="659.4" y="197" width="122.60" height="119.00" fill="#c3c7c6"/><rect x="661.9" y="199.5" width="117.60" height="114.00" fill="none" stroke="#a9adad" stroke-width="1" stroke-dasharray="1 1.5"/><g clip-path="url(#c_a_efnst)"><polygon points="659.4,197.0 782.0,197.0 782.0,316.0 659.4,316.0" fill="#427ec9"/><polygon points="659.4,249.4 672.9,249.4 682.7,243.2 690.0,240.1 699.2,237.0 709.7,240.1 717.6,249.4 725.6,257.0 736.0,263.2 751.4,269.2 766.7,273.9 775.9,280.1 782.0,280.1 782.0,316.0 659.4,316.0" fill="#f4863a"/><polygon points="659.4,270.8 671.7,270.8 683.9,267.7 697.4,266.0 709.7,264.6 720.7,267.7 733.0,272.3 745.2,277.0 758.7,281.5 774.6,283.2 782.0,283.2 782.0,316.0 659.4,316.0" fill="#e42a2e"/><polygon points="680.9,306.5 680.9,301.5 687.0,290.8 695.0,283.2 705.4,278.5 714.6,278.5 725.6,283.2 736.0,287.7 748.3,290.8 757.5,293.9 757.5,306.5" fill="#8e6ada"/><polygon points="735.4,200.6 762.4,200.6 762.4,217.2 752.6,217.2 740.3,211.3" fill="#4cad3f"/><rect x="659.4" y="197" width="122.60" height="119.00" fill="url(#spotsA)"/></g><rect x="659.4" y="197" width="122.60" height="119.00" fill="none" stroke="#3c3c3c" stroke-width="1.3"/>
<rect x="27.5" y="383.5" width="132.50" height="140.00" fill="#c3c7c6"/><rect x="30.0" y="386.0" width="127.50" height="135.00" fill="none" stroke="#a9adad" stroke-width="1" stroke-dasharray="1 1.5"/><polygon points="46.0,383.5 160.0,383.5 160.0,391.9 46.0,391.9" fill="#a79fb6"/><polygon points="152.1,383.5 160.0,383.5 160.0,425.5 152.1,425.5" fill="#a79fb6"/><polygon points="28.8,397.5 35.5,394.7 32.8,425.5 31.5,453.5 28.8,453.5" fill="#b5abc2"/><g clip-path="url(#c_b_gt)"><polygon points="27.5,383.5 160.0,383.5 160.0,523.5 27.5,523.5" fill="#4cad3f"/><polygon points="27.5,391.3 47.1,391.3 56.3,395.5 68.8,399.7 77.3,403.9 85.5,410.7 94.0,414.0 101.4,419.1 109.8,424.0 118.1,429.8 126.5,435.9 134.8,440.8 143.3,445.8 147.4,449.2 160.0,449.2 160.0,383.5 27.5,383.5" fill="#427ec9"/><polygon points="27.5,391.3 47.1,391.3 56.3,395.5 68.8,399.7 77.3,403.9 85.5,410.7 94.0,414.0 101.4,419.1 109.8,424.0 118.1,429.8 126.5,435.9 134.8,440.8 143.3,445.8 147.4,449.2 160.0,449.2 160.0,456.3 146.8,456.3 139.9,452.9 134.8,447.5 126.5,442.6 118.1,436.6 109.8,430.7 101.4,425.6 94.0,419.9 85.5,414.0 77.3,409.0 68.8,404.8 60.5,401.4 52.1,398.9 43.8,398.1 27.5,398.1" fill="#f4863a"/><polygon points="114.8,383.5 114.8,390.1 122.2,393.0 130.7,398.9 139.1,404.8 147.4,409.8 154.0,413.2 160.0,415.7 160.0,410.1 154.0,407.6 151.7,405.6 143.3,399.7 134.8,393.9 129.0,390.1 129.0,383.5" fill="#f4863a"/><polygon points="129.0,383.5 129.0,390.1 134.8,393.9 143.3,399.7 151.7,405.6 154.0,407.6 160.0,410.1 160.0,383.5" fill="#4cad3f"/><polygon points="27.5,418.5 32.0,418.5 34.1,419.1 43.8,423.3 52.1,428.2 60.5,433.3 68.8,438.2 77.3,443.3 85.5,447.5 94.0,453.5 101.4,460.5 109.8,465.5 118.1,470.6 126.5,474.8 134.8,478.1 145.8,480.7 160.0,480.7 160.0,523.5 27.5,523.5" fill="#e42a2e"/><polygon points="27.5,428.2 32.0,428.2 43.8,434.0 52.1,439.1 60.5,444.1 68.8,449.2 73.9,452.9 85.5,458.0 94.0,464.7 101.4,469.7 109.8,473.1 118.1,479.0 126.5,483.2 134.8,485.7 145.8,488.2 160.0,488.2 160.0,523.5 27.5,523.5" fill="#8e6ada"/><polygon points="27.5,452.9 33.7,452.9 35.5,454.8 43.8,458.0 52.1,462.2 60.5,467.2 68.8,472.3 77.3,477.3 85.5,480.7 94.0,484.9 101.4,488.2 109.8,494.0 118.1,499.1 126.5,501.7 134.8,503.3 137.5,506.7 146.8,523.5 160.0,523.5 160.0,523.5 27.5,523.5" fill="#964c48"/><polygon points="27.5,470.6 42.1,470.6 52.1,473.9 60.5,479.8 68.8,485.7 77.3,490.7 85.5,495.6 94.0,499.8 97.2,503.3 101.4,507.4 109.8,515.0 112.3,523.5 160.0,523.5 160.0,523.5 27.5,523.5" fill="#e46ce0"/><rect x="27.5" y="383.5" width="132.50" height="140.00" fill="url(#spotsB)"/></g><rect x="27.5" y="383.5" width="132.50" height="140.00" fill="none" stroke="#3c3c3c" stroke-width="1.3"/>
<rect x="222.5" y="382.5" width="126.00" height="132.50" fill="#c3c7c6"/><rect x="225.0" y="385.0" width="121.00" height="127.50" fill="none" stroke="#a9adad" stroke-width="1" stroke-dasharray="1 1.5"/><polygon points="240.1,382.5 348.5,382.5 348.5,390.4 240.1,390.4" fill="#a79fb6"/><polygon points="340.9,382.5 348.5,382.5 348.5,422.2 340.9,422.2" fill="#a79fb6"/><polygon points="223.8,395.8 230.1,393.1 227.5,422.2 226.3,448.8 223.8,448.8" fill="#b5abc2"/><g clip-path="url(#c_b_seurat)"><polygon points="222.5,382.5 348.5,382.5 348.5,515.0 222.5,515.0" fill="#e42a2e"/><polygon points="222.5,382.5 348.5,382.5 348.5,515.0 222.5,515.0" fill="url(#mp1)"/><polygon points="222.5,382.5 348.5,382.5 348.5,515.0 222.5,515.0" fill="url(#mo0)"/><polygon points="222.5,382.5 348.5,382.5 348.5,515.0 222.5,515.0" fill="url(#mg0)"/><polygon points="222.5,391.8 241.4,391.8 249.0,391.8 269.8,399.7 285.5,411.0 301.2,420.4 317.0,429.9 332.8,437.9 348.5,437.9 348.5,382.5 222.5,382.5" fill="#427ec9"/><polygon points="222.5,391.8 241.4,391.8 249.0,391.8 269.8,399.7 285.5,411.0 301.2,420.4 317.0,429.9 332.8,437.9 348.5,437.9 348.5,382.5 222.5,382.5" fill="url(#mr0)"/><polygon points="304.4,382.5 348.5,382.5 348.5,409.0 329.6,406.4 317.0,398.4 304.4,389.1" fill="#4cad3f"/><polygon points="304.4,382.5 348.5,382.5 348.5,409.0 329.6,406.4 317.0,398.4 304.4,389.1" fill="url(#mr0)"/><polygon points="222.5,391.8 241.4,391.8 249.0,391.8 269.8,399.7 285.5,411.0 301.2,420.4 317.0,429.9 332.8,437.9 348.5,437.9 348.5,443.4 335.9,443.4 323.3,446.1 310.7,451.4 300.6,455.4 293.1,448.8 282.4,434.7 269.8,423.6 254.0,414.3 235.1,404.6 222.5,404.6" fill="#4cad3f"/><polygon points="222.5,391.8 241.4,391.8 249.0,391.8 269.8,399.7 285.5,411.0 301.2,420.4 317.0,429.9 332.8,437.9 348.5,437.9 348.5,443.4 335.9,443.4 323.3,446.1 310.7,451.4 300.6,455.4 293.1,448.8 282.4,434.7 269.8,423.6 254.0,414.3 235.1,404.6 222.5,404.6" fill="url(#mo1)"/><polygon points="222.5,391.8 241.4,391.8 249.0,391.8 269.8,399.7 285.5,411.0 301.2,420.4 317.0,429.9 332.8,437.9 348.5,437.9 348.5,443.4 335.9,443.4 323.3,446.1 310.7,451.4 300.6,455.4 293.1,448.8 282.4,434.7 269.8,423.6 254.0,414.3 235.1,404.6 222.5,404.6" fill="url(#mr0)"/><polygon points="237.6,409.0 247.7,415.6 266.6,426.2 281.7,438.1 288.0,451.4 279.2,462.0 260.3,459.4 241.4,451.4 237.6,442.1 237.6,422.2" fill="#f4863a"/><polygon points="237.6,409.0 247.7,415.6 266.6,426.2 281.7,438.1 288.0,451.4 279.2,462.0 260.3,459.4 241.4,451.4 237.6,442.1 237.6,422.2" fill="url(#mr2)"/><polygon points="237.6,409.0 247.7,415.6 266.6,426.2 281.7,438.1 288.0,451.4 279.2,462.0 260.3,459.4 241.4,451.4 237.6,442.1 237.6,422.2" fill="url(#mg1)"/><polygon points="237.6,409.0 247.7,415.6 266.6,426.2 281.7,438.1 288.0,451.4 279.2,462.0 260.3,459.4 241.4,451.4 237.6,442.1 237.6,422.2" fill="url(#mp1)"/><polygon points="272.9,428.9 291.8,442.1 298.1,462.0 279.2,455.4" fill="#4cad3f"/><polygon points="272.9,428.9 291.8,442.1 298.1,462.0 279.2,455.4" fill="url(#mr2)"/><polygon points="272.9,428.9 291.8,442.1 298.1,462.0 279.2,455.4" fill="url(#mo2)"/><polygon points="240.1,466.0 254.0,468.6 266.6,475.2 279.2,485.9 285.5,495.1 283.0,504.4 269.8,504.4 254.0,495.1 241.4,475.2" fill="#e46ce0"/><polygon points="240.1,466.0 254.0,468.6 266.6,475.2 279.2,485.9 285.5,495.1 283.0,504.4 269.8,504.4 254.0,495.1 241.4,475.2" fill="url(#mp1)"/><rect x="222.5" y="382.5" width="126.00" height="132.50" fill="url(#spotsB)"/></g><rect x="222.5" y="382.5" width="126.00" height="132.50" fill="none" stroke="#3c3c3c" stroke-width="1.3"/>
<rect x="370.5" y="383.75" width="125.00" height="131.25" fill="#c3c7c6"/><rect x="373.0" y="386.2" width="120.00" height="126.25" fill="none" stroke="#a9adad" stroke-width="1" stroke-dasharray="1 1.5"/><polygon points="388.0,383.8 495.5,383.8 495.5,391.6 388.0,391.6" fill="#a79fb6"/><polygon points="488.0,383.8 495.5,383.8 495.5,423.1 488.0,423.1" fill="#a79fb6"/><polygon points="371.8,396.9 378.0,394.2 375.5,423.1 374.2,449.4 371.8,449.4" fill="#b5abc2"/><g clip-path="url(#c_b_scanpy)"><polygon points="370.5,383.8 495.5,383.8 495.5,515.0 370.5,515.0" fill="#8e6ada"/><polygon points="370.5,383.8 495.5,383.8 495.5,515.0 370.5,515.0" fill="url(#mr2)"/><polygon points="370.5,383.8 495.5,383.8 495.5,515.0 370.5,515.0" fill="url(#mo1)"/><polygon points="385.5,389.0 417.4,389.0 433.0,399.5 445.5,412.6 458.0,423.1 470.5,433.6 480.5,438.9 464.2,442.8 451.8,449.4 439.2,455.9 426.8,452.0 408.0,442.8 389.2,429.7 380.5,416.6 383.0,403.4" fill="#4cad3f"/><polygon points="385.5,389.0 417.4,389.0 433.0,399.5 445.5,412.6 458.0,423.1 470.5,433.6 480.5,438.9 464.2,442.8 451.8,449.4 439.2,455.9 426.8,452.0 408.0,442.8 389.2,429.7 380.5,416.6 383.0,403.4" fill="url(#mr1)"/><polygon points="385.5,389.0 417.4,389.0 433.0,399.5 445.5,412.6 458.0,423.1 470.5,433.6 480.5,438.9 464.2,442.8 451.8,449.4 439.2,455.9 426.8,452.0 408.0,442.8 389.2,429.7 380.5,416.6 383.0,403.4" fill="url(#mo1)"/><polygon points="417.4,383.8 495.5,383.8 495.5,423.1 483.0,429.7 480.5,438.9 470.5,433.6 458.0,423.1 445.5,412.6 433.0,399.5" fill="#427ec9"/><polygon points="417.4,383.8 495.5,383.8 495.5,423.1 483.0,429.7 480.5,438.9 470.5,433.6 458.0,423.1 445.5,412.6 433.0,399.5" fill="url(#mo2)"/><polygon points="417.4,383.8 495.5,383.8 495.5,423.1 483.0,429.7 480.5,438.9 470.5,433.6 458.0,423.1 445.5,412.6 433.0,399.5" fill="url(#mg1)"/><polygon points="374.2,403.4 385.5,399.5 389.2,429.7 383.0,449.4 374.2,442.8" fill="#f4863a"/><polygon points="374.2,403.4 385.5,399.5 389.2,429.7 383.0,449.4 374.2,442.8" fill="url(#mr2)"/><polygon points="451.8,442.8 481.8,438.9 485.5,462.5 485.5,495.3 470.5,499.2 451.8,491.4 439.2,482.2 433.0,469.1 439.2,455.9" fill="#f4863a"/><polygon points="451.8,442.8 481.8,438.9 485.5,462.5 485.5,495.3 470.5,499.2 451.8,491.4 439.2,482.2 433.0,469.1 439.2,455.9" fill="url(#mp2)"/><polygon points="451.8,442.8 481.8,438.9 485.5,462.5 485.5,495.3 470.5,499.2 451.8,491.4 439.2,482.2 433.0,469.1 439.2,455.9" fill="url(#mr1)"/><polygon points="376.8,436.2 389.2,433.6 408.0,442.8 426.8,452.0 439.2,459.9 445.5,475.6 439.2,488.8 420.5,486.1 401.8,473.0 383.0,462.5" fill="#e42a2e"/><polygon points="376.8,436.2 389.2,433.6 408.0,442.8 426.8,452.0 439.2,459.9 445.5,475.6 439.2,488.8 420.5,486.1 401.8,473.0 383.0,462.5" fill="url(#mp3)"/><polygon points="376.8,436.2 389.2,433.6 408.0,442.8 426.8,452.0 439.2,459.9 445.5,475.6 439.2,488.8 420.5,486.1 401.8,473.0 383.0,462.5" fill="url(#mg1)"/><polygon points="390.5,471.7 405.5,476.9 420.5,487.4 433.0,499.2 433.0,508.4 416.8,504.5 400.5,494.0" fill="#e46ce0"/><polygon points="390.5,471.7 405.5,476.9 420.5,487.4 433.0,499.2 433.0,508.4 416.8,504.5 400.5,494.0" fill="url(#mp1)"/><rect x="370.5" y="383.75" width="125.00" height="131.25" fill="url(#spotsB)"/></g><rect x="370.5" y="383.75" width="125.00" height="131.25" fill="none" stroke="#3c3c3c" stroke-width="1.3"/>
<rect x="517.5" y="385" width="124.00" height="130.00" fill="#c3c7c6"/><rect x="520.0" y="387.5" width="119.00" height="125.00" fill="none" stroke="#a9adad" stroke-width="1" stroke-dasharray="1 1.5"/><polygon points="534.9,385.0 641.5,385.0 641.5,392.8 534.9,392.8" fill="#a79fb6"/><polygon points="634.1,385.0 641.5,385.0 641.5,424.0 634.1,424.0" fill="#a79fb6"/><polygon points="518.7,398.0 524.9,395.4 522.5,424.0 521.2,450.0 518.7,450.0" fill="#b5abc2"/><g clip-path="url(#c_b_sedr)"><polygon points="517.5,385.0 641.5,385.0 641.5,515.0 517.5,515.0" fill="#8e6ada"/><polygon points="517.5,385.0 641.5,385.0 641.5,515.0 517.5,515.0" fill="url(#mr2)"/><polygon points="517.5,385.0 641.5,385.0 641.5,515.0 517.5,515.0" fill="url(#mr1)"/><polygon points="517.5,408.4 524.8,408.4 537.3,413.1 548.3,417.8 557.6,424.0 567.0,430.4 574.8,438.2 582.6,447.5 588.8,455.2 598.2,461.4 610.7,466.1 626.4,466.1 641.5,466.1 641.5,385.0 517.5,385.0" fill="#f4863a"/><polygon points="517.5,399.0 534.2,399.0 548.3,403.7 560.8,411.5 571.7,420.9 582.6,427.2 591.9,435.1 599.8,442.9 603.1,450.0 606.8,451.3 609.3,444.8 616.7,442.2 626.4,442.9 641.5,442.9 641.5,385.0 517.5,385.0" fill="#4cad3f"/><polygon points="517.5,391.2 545.2,391.2 557.6,397.5 570.1,405.3 582.6,414.6 595.1,422.4 607.5,428.8 620.0,435.1 629.5,439.7 641.5,439.7 641.5,385.0 517.5,385.0" fill="#427ec9"/><polygon points="595.1,385.0 595.1,391.2 604.4,397.5 616.9,405.3 629.5,410.0 635.7,411.5 641.5,412.3 641.5,385.0 595.1,385.0" fill="#4cad3f"/><polygon points="522.5,414.9 528.7,413.1 535.7,416.2 535.7,424.0 528.7,425.9 522.5,424.0" fill="#964c48"/><polygon points="517.5,458.3 526.4,458.3 535.7,464.6 545.2,472.4 556.1,480.2 567.0,486.4 576.4,492.8 584.2,499.0 588.8,503.7 590.4,508.4 591.9,515.0 641.5,515.0 641.5,515.0 517.5,515.0" fill="#e46ce0"/><polygon points="517.5,458.3 526.4,458.3 535.7,464.6 545.2,472.4 556.1,480.2 567.0,486.4 576.4,492.8 584.2,499.0 588.8,503.7 590.4,508.4 591.9,515.0 641.5,515.0 641.5,515.0 517.5,515.0" fill="url(#mp0)"/><polygon points="517.5,458.3 526.4,458.3 535.7,464.6 545.2,472.4 556.1,480.2 567.0,486.4 576.4,492.8 584.2,499.0 588.8,503.7 590.4,508.4 591.9,515.0 641.5,515.0 641.5,515.0 517.5,515.0" fill="url(#mr0)"/><rect x="517.5" y="385" width="124.00" height="130.00" fill="url(#spotsB)"/></g><rect x="517.5" y="385" width="124.00" height="130.00" fill="none" stroke="#3c3c3c" stroke-width="1.3"/>
<rect x="663.5" y="386.5" width="122.00" height="128.50" fill="#c3c7c6"/><rect x="666.0" y="389.0" width="117.00" height="123.50" fill="none" stroke="#a9adad" stroke-width="1" stroke-dasharray="1 1.5"/><polygon points="680.6,386.5 785.5,386.5 785.5,394.2 680.6,394.2" fill="#a79fb6"/><polygon points="778.2,386.5 785.5,386.5 785.5,425.1 778.2,425.1" fill="#a79fb6"/><polygon points="664.7,399.4 670.8,396.8 668.4,425.1 667.2,450.8 664.7,450.8" fill="#b5abc2"/><g clip-path="url(#c_b_const)"><polygon points="663.5,386.5 785.5,386.5 785.5,515.0 663.5,515.0" fill="#8e6ada"/><polygon points="663.5,386.5 785.5,386.5 785.5,515.0 663.5,515.0" fill="url(#mbr3)"/><polygon points="663.5,413.7 669.1,413.7 678.4,423.0 690.7,427.6 701.4,432.1 710.7,438.3 718.4,444.5 725.1,450.8 736.8,459.2 749.1,465.4 763.1,468.5 772.2,466.9 785.5,466.9 785.5,386.5 663.5,386.5" fill="#e42a2e"/><polygon points="663.5,407.6 672.3,407.6 681.4,404.5 693.8,409.1 703.0,416.8 713.8,424.5 724.5,432.1 733.8,439.8 743.0,447.5 746.1,451.1 751.3,454.6 761.1,455.9 772.1,454.6 785.5,454.6 785.5,386.5 663.5,386.5" fill="#4cad3f"/><polygon points="663.5,393.7 683.0,393.7 693.8,399.9 703.0,406.0 713.8,413.7 724.5,421.5 736.8,429.0 749.1,435.2 763.1,439.8 773.8,442.9 785.5,442.9 785.5,386.5 663.5,386.5" fill="#f4863a"/><polygon points="663.5,392.2 700.0,392.2 709.1,399.9 719.9,409.1 732.2,418.4 744.5,425.9 758.4,432.1 770.7,436.7 773.8,438.3 785.5,438.3 785.5,386.5 663.5,386.5" fill="#427ec9"/><polygon points="736.8,386.5 736.8,392.2 749.1,399.9 761.5,407.6 773.8,413.7 779.9,415.3 785.5,416.1 785.5,386.5 736.8,386.5" fill="#f4863a"/><polygon points="758.4,386.5 758.4,392.2 764.5,398.3 778.4,402.9 785.5,403.2 785.5,386.5" fill="#4cad3f"/><polygon points="681.4,473.1 686.1,465.4 701.4,476.2 712.2,485.4 724.5,494.6 729.1,502.3 726.9,511.1 718.4,511.1 721.5,497.7 716.8,491.5 706.1,483.8 693.8,474.7" fill="#e42a2e"/><polygon points="681.4,473.1 693.8,474.7 706.1,483.8 716.8,491.5 721.5,497.7 718.4,504.7 700.1,502.1 687.9,491.9 681.8,481.6" fill="#4cad3f"/><polygon points="681.4,473.1 693.8,474.7 706.1,483.8 716.8,491.5 721.5,497.7 718.4,504.7 700.1,502.1 687.9,491.9 681.8,481.6" fill="url(#mr0)"/><polygon points="684.5,479.3 697.7,481.6 709.9,489.3 713.8,497.0 706.2,499.6 694.0,497.0 686.7,489.3" fill="#e46ce0"/><polygon points="684.5,479.3 697.7,481.6 709.9,489.3 713.8,497.0 706.2,499.6 694.0,497.0 686.7,489.3" fill="url(#mo1)"/><polygon points="684.5,479.3 697.7,481.6 709.9,489.3 713.8,497.0 706.2,499.6 694.0,497.0 686.7,489.3" fill="url(#mb0)"/><rect x="663.5" y="386.5" width="122.00" height="128.50" fill="url(#spotsB)"/></g><rect x="663.5" y="386.5" width="122.00" height="128.50" fill="none" stroke="#3c3c3c" stroke-width="1.3"/>
<rect x="25" y="536" width="137.50" height="145.00" fill="#c3c7c6"/><rect x="27.5" y="538.5" width="132.50" height="140.00" fill="none" stroke="#a9adad" stroke-width="1" stroke-dasharray="1 1.5"/><polygon points="82.8,536.0 162.5,536.0 162.5,579.5 152.9,581.0 146.0,576.6 128.1,567.9 111.6,559.2 93.8,549.0" fill="#a89bbd"/><polygon points="42.9,536.7 80.0,536.7 93.8,549.0 111.6,559.5 128.9,568.2 146.4,577.0 153.4,580.5 153.4,587.5 154.2,623.0 152.6,657.5 146.4,664.5 128.9,671.4 102.7,674.9 76.4,671.4 59.0,664.5 44.9,648.7 34.6,627.6 27.5,608.5 26.4,587.5 27.5,561.2 34.6,549.0" fill="#a087b5"/><polygon points="80.0,536.7 93.8,549.0 111.6,559.5 128.9,568.2 146.4,577.0 153.4,580.5 153.4,596.9 135.0,588.2 114.4,576.6 93.8,565.0 73.1,550.5 59.4,540.4" fill="#a592bb"/><polygon points="26.6,579.5 30.5,553.4 36.0,547.6 34.6,579.5 31.9,615.8 37.4,637.5 47.0,652.0 44.9,648.7 34.6,627.6 27.5,608.5" fill="#a27cb9"/><path d="M81.4 536.7 L93.8 549.0 L111.6 559.5 L132.0 569.6 L146.4 577.0 L160.8 579.9" stroke="#c6c3cc" stroke-width="2.6" fill="none"/><path d="M81.4 536.7 L93.8 549.0 L111.6 559.5 L132.0 569.6 L146.4 577.0 L160.8 579.9" stroke="#7a58a8" stroke-width="1.4" fill="none" stroke-dasharray="2.5 3"/><rect x="25" y="536" width="137.50" height="145.00" fill="none" stroke="#3c3c3c" stroke-width="1.3"/>
<rect x="220" y="543.5" width="128.50" height="135.50" fill="#c3c7c6"/><rect x="222.5" y="546.0" width="123.50" height="130.50" fill="none" stroke="#a9adad" stroke-width="1" stroke-dasharray="1 1.5"/><polygon points="238.0,543.5 348.5,543.5 348.5,551.6 238.0,551.6" fill="#a79fb6"/><polygon points="340.8,543.5 348.5,543.5 348.5,584.1 340.8,584.1" fill="#a79fb6"/><polygon points="221.3,557.0 227.7,554.3 225.1,584.1 223.9,611.2 221.3,611.2" fill="#b5abc2"/><g clip-path="url(#c_b_stlearn)"><polygon points="220.0,543.5 348.5,543.5 348.5,679.0 220.0,679.0" fill="#8e6ada"/><polygon points="220.0,596.2 229.6,596.2 239.4,593.0 249.0,601.1 255.5,611.1 257.1,616.5 268.3,619.7 281.3,624.5 287.7,631.0 300.6,637.4 313.5,642.3 324.9,644.7 334.5,643.9 348.5,643.9 348.5,543.5 220.0,543.5" fill="#f4863a"/><polygon points="220.0,596.2 229.6,596.2 239.4,593.0 249.0,601.1 255.5,611.1 257.1,616.5 268.3,619.7 281.3,624.5 287.7,631.0 300.6,637.4 313.5,642.3 324.9,644.7 334.5,643.9 348.5,643.9 348.5,543.5 220.0,543.5" fill="url(#mr0)"/><polygon points="220.0,557.5 236.1,557.5 252.3,568.8 261.9,575.2 271.7,583.3 284.5,591.3 297.4,597.8 304.8,604.5 307.4,610.6 311.2,616.7 320.0,619.7 332.8,621.3 348.5,621.3 348.5,543.5 220.0,543.5" fill="#4cad3f"/><polygon points="220.0,550.3 240.9,550.3 252.3,554.3 268.3,562.3 284.5,572.0 300.6,583.3 316.8,593.0 332.8,599.5 336.0,601.1 348.5,601.1 348.5,543.5 220.0,543.5" fill="#427ec9"/><polygon points="302.2,543.5 302.2,550.3 313.5,557.5 324.9,564.0 336.0,568.8 342.6,571.3 348.5,572.0 348.5,543.5 302.2,543.5" fill="#4cad3f"/><polygon points="226.4,564.0 236.1,570.5 242.6,580.1 236.1,589.8 226.4,596.2 223.9,584.1" fill="#e42a2e"/><polygon points="226.4,564.0 236.1,570.5 242.6,580.1 236.1,589.8 226.4,596.2 223.9,584.1" fill="url(#mo1)"/><polygon points="223.9,622.1 232.8,626.2 244.2,634.3 260.3,642.3 276.4,651.9 290.9,658.4 292.6,663.3 292.0,674.9 281.3,664.1 287.7,663.3 278.1,658.4 265.1,651.9 252.3,647.2 242.6,642.3 223.9,632.9" fill="#964c48"/><polygon points="223.9,632.9 242.6,642.3 252.3,647.2 265.1,651.9 278.1,658.4 287.7,663.3 281.3,664.1 277.8,674.9 223.9,674.9" fill="#e46ce0"/><rect x="220" y="543.5" width="128.50" height="135.50" fill="url(#spotsB)"/></g><rect x="220" y="543.5" width="128.50" height="135.50" fill="none" stroke="#3c3c3c" stroke-width="1.3"/>
<rect x="368.75" y="545.9" width="126.55" height="134.00" fill="#c3c7c6"/><rect x="371.2" y="548.4" width="121.55" height="129.00" fill="none" stroke="#a9adad" stroke-width="1" stroke-dasharray="1 1.5"/><polygon points="386.5,545.9 495.3,545.9 495.3,553.9 386.5,553.9" fill="#a79fb6"/><polygon points="487.7,545.9 495.3,545.9 495.3,586.1 487.7,586.1" fill="#a79fb6"/><polygon points="370.0,559.3 376.3,556.6 373.8,586.1 372.5,612.9 370.0,612.9" fill="#b5abc2"/><g clip-path="url(#c_b_ccst)"><polygon points="368.8,545.9 495.3,545.9 495.3,679.9 368.8,679.9" fill="#8e6ada"/><polygon points="368.8,585.0 387.2,585.0 400.0,585.0 412.8,589.9 424.1,597.8 435.2,605.8 441.6,612.0 451.3,621.6 464.0,629.5 470.4,633.5 483.2,633.5 495.3,633.5 495.3,545.9 368.8,545.9" fill="#4cad3f"/><polygon points="368.8,557.8 388.0,557.8 400.0,559.4 409.6,562.6 420.8,567.5 432.0,575.4 443.2,583.4 456.1,593.1 472.0,601.0 483.2,605.8 495.3,605.8 495.3,545.9 368.8,545.9" fill="#f4863a"/><polygon points="403.2,545.9 403.2,553.0 416.0,559.4 428.9,568.9 440.0,577.0 452.8,585.0 467.2,593.1 483.2,599.5 495.3,600.8 495.3,545.9 403.2,545.9" fill="#427ec9"/><polygon points="443.2,545.9 443.2,552.2 457.6,561.0 472.0,570.6 484.8,578.6 490.4,581.8 495.3,583.4 495.3,571.4 490.4,570.6 483.2,567.5 472.0,559.4 460.8,552.2 460.8,545.9" fill="#f4863a"/><polygon points="460.8,545.9 460.8,552.2 472.0,559.4 483.2,567.5 490.4,570.6 495.3,571.4 495.3,545.9" fill="#4cad3f"/><polygon points="379.3,568.1 388.9,581.8 377.6,594.5 374.4,585.0 375.2,570.6" fill="#e42a2e"/><polygon points="375.1,623.6 382.4,626.3 393.6,629.5 408.0,637.6 424.1,648.8 435.2,656.7 443.2,664.8 439.6,675.9 425.7,675.9 422.4,668.0 428.9,664.8 424.1,658.3 412.8,647.2 400.0,640.8 390.4,639.2 375.1,634.3" fill="#964c48"/><polygon points="375.1,634.3 390.4,639.2 400.0,640.8 412.8,647.2 424.1,658.3 428.9,664.8 422.4,668.0 419.4,675.9 375.1,675.9" fill="#e46ce0"/><rect x="368.75" y="545.9" width="126.55" height="134.00" fill="url(#spotsB)"/></g><rect x="368.75" y="545.9" width="126.55" height="134.00" fill="none" stroke="#3c3c3c" stroke-width="1.3"/>
<rect x="518" y="546.9" width="126.40" height="132.30" fill="#c3c7c6"/><rect x="520.5" y="549.4" width="121.40" height="127.30" fill="none" stroke="#a9adad" stroke-width="1" stroke-dasharray="1 1.5"/><polygon points="535.7,546.9 644.4,546.9 644.4,554.8 535.7,554.8" fill="#a79fb6"/><polygon points="636.8,546.9 644.4,546.9 644.4,586.6 636.8,586.6" fill="#a79fb6"/><polygon points="519.3,560.1 525.6,557.5 523.1,586.6 521.8,613.0 519.3,613.0" fill="#b5abc2"/><g clip-path="url(#c_b_spagcn)"><polygon points="518.0,546.9 644.4,546.9 644.4,679.2 518.0,679.2" fill="#8e6ada"/><polygon points="518.0,546.9 644.4,546.9 644.4,679.2 518.0,679.2" fill="url(#mbr3)"/><polygon points="518.0,600.0 527.5,600.0 541.8,593.6 552.9,600.0 557.7,606.4 560.8,613.0 570.5,616.8 578.3,626.3 586.3,632.6 597.4,639.0 610.1,643.7 621.3,643.7 630.7,642.2 644.4,642.2 644.4,546.9 518.0,546.9" fill="#f4863a"/><polygon points="518.0,600.0 527.5,600.0 541.8,593.6 552.9,600.0 557.7,606.4 560.8,613.0 570.5,616.8 578.3,626.3 586.3,632.6 597.4,639.0 610.1,643.7 621.3,643.7 630.7,642.2 644.4,642.2 644.4,546.9 518.0,546.9" fill="url(#mr2)"/><polygon points="521.8,573.4 530.6,564.1 538.2,568.1 540.8,580.0 538.2,591.9 528.1,599.8 521.8,597.2" fill="#e42a2e"/><polygon points="521.8,573.4 530.6,564.1 538.2,568.1 540.8,580.0 538.2,591.9 528.1,599.8 521.8,597.2" fill="url(#mo1)"/><polygon points="518.0,563.4 533.9,563.4 541.8,568.2 552.9,573.0 562.5,579.3 572.0,587.3 581.6,593.6 589.4,603.1 594.5,611.1 600.2,614.4 607.0,616.8 621.3,618.3 630.7,619.9 644.4,619.9 644.4,546.9 518.0,546.9" fill="#4cad3f"/><polygon points="518.0,553.9 540.2,553.9 557.7,561.8 573.6,571.4 587.9,580.9 602.2,588.8 616.5,595.2 629.1,601.5 632.4,603.1 644.4,603.1 644.4,546.9 518.0,546.9" fill="#427ec9"/><polygon points="603.7,546.9 603.7,553.9 613.3,561.8 625.9,569.8 637.1,573.8 644.4,574.7 644.4,546.9 603.7,546.9" fill="#4cad3f"/><polygon points="526.8,582.6 530.6,581.3 533.2,585.3 530.6,590.6 526.8,589.2" fill="#e46ce0"/><polygon points="518.0,627.9 530.6,627.9 538.6,632.6 549.7,640.6 562.5,648.5 573.6,656.4 586.3,661.2 587.9,664.4 590.0,679.2 644.4,679.2 644.4,679.2 518.0,679.2" fill="#e46ce0"/><rect x="518" y="546.9" width="126.40" height="132.30" fill="url(#spotsB)"/></g><rect x="518" y="546.9" width="126.40" height="132.30" fill="none" stroke="#3c3c3c" stroke-width="1.3"/>
<rect x="662" y="548" width="123.70" height="129.00" fill="#c3c7c6"/><rect x="664.5" y="550.5" width="118.70" height="124.00" fill="none" stroke="#a9adad" stroke-width="1" stroke-dasharray="1 1.5"/><polygon points="679.3,548.0 785.7,548.0 785.7,555.7 679.3,555.7" fill="#a79fb6"/><polygon points="778.3,548.0 785.7,548.0 785.7,586.7 778.3,586.7" fill="#a79fb6"/><polygon points="663.2,560.9 669.4,558.3 666.9,586.7 665.7,612.5 663.2,612.5" fill="#b5abc2"/><g clip-path="url(#c_b_efnst)"><polygon points="662.0,548.0 785.7,548.0 785.7,677.0 662.0,677.0" fill="#964c48"/><polygon points="662.0,589.9 668.2,589.9 677.5,589.9 686.7,593.0 697.6,594.6 706.9,594.6 713.2,599.2 717.8,605.4 724.0,611.6 736.5,618.2 748.8,627.5 758.1,632.1 770.5,633.7 785.7,633.7 785.7,548.0 662.0,548.0" fill="#e42a2e"/><polygon points="677.5,589.9 686.7,593.0 697.6,594.6 706.9,594.6 713.2,599.2 717.8,605.4 724.0,611.6 736.5,618.2 748.8,627.5 758.1,632.1 770.5,633.7 785.7,633.7 785.7,644.5 772.1,644.5 758.1,644.5 745.7,642.9 736.5,635.2 724.0,629.0 713.2,624.4 702.3,622.8 693.0,618.2 690.0,612.0 686.7,607.0 683.6,599.2 677.5,591.5" fill="#8e6ada"/><polygon points="662.0,558.8 680.6,558.8 685.3,563.5 700.7,571.2 713.2,577.4 724.0,585.2 733.3,591.5 739.6,596.1 745.7,603.9 750.3,608.5 758.5,604.1 773.3,603.9 785.7,603.9 785.7,548.0 662.0,548.0" fill="#4cad3f"/><polygon points="751.1,607.3 758.5,604.1 767.1,603.5 774.6,604.8 774.6,621.5 767.1,620.2 758.5,615.1 753.5,612.5" fill="#f4863a"/><polygon points="662.0,554.2 690.0,554.2 702.3,560.4 716.3,571.2 728.7,580.5 742.7,588.4 755.0,594.6 770.5,602.3 773.6,603.9 785.7,603.9 785.7,548.0 662.0,548.0" fill="#427ec9"/><polygon points="745.7,548.0 745.7,554.2 755.0,560.4 767.4,568.1 779.8,572.8 785.7,573.8 785.7,548.0 745.7,548.0" fill="#4cad3f"/><polygon points="666.9,582.8 673.1,577.7 677.5,582.8 674.4,588.0 666.9,588.0" fill="#427ec9"/><polygon points="679.1,633.7 686.7,632.1 693.0,641.4 705.4,649.1 716.3,655.5 728.7,658.6 728.7,663.2 717.8,663.2 713.2,658.6 702.3,650.7 693.0,644.5 682.2,639.8" fill="#427ec9"/><polygon points="682.2,639.8 693.0,644.5 702.3,650.7 713.2,658.6 717.8,663.2 716.4,671.8 674.4,671.8" fill="#e46ce0"/><rect x="662" y="548" width="123.70" height="129.00" fill="url(#spotsB)"/></g><rect x="662" y="548" width="123.70" height="129.00" fill="none" stroke="#3c3c3c" stroke-width="1.3"/>
<rect x="65.25" y="726.20" width="38.40" height="22.10" fill="#8dc66a"/>
<text x="0" y="0" transform="translate(84.45,741.2) scale(1,1.06)" font-size="10.3" font-weight="bold" text-anchor="middle" fill="#111" style="white-space:pre" stroke="#111" stroke-width="0.25">0.55</text>
<rect x="65.25" y="752.59" width="38.40" height="22.10" fill="#c9e7bb"/>
<text x="0" y="0" transform="translate(84.45,767.59) scale(1,1.06)" font-size="10.3" font-weight="bold" text-anchor="middle" fill="#111" style="white-space:pre" stroke="#111" stroke-width="0.25">0.36</text>
<rect x="65.25" y="778.98" width="38.40" height="22.10" fill="#e4f4dc"/>
<text x="0" y="0" transform="translate(84.45,793.98) scale(1,1.06)" font-size="10.3" font-weight="bold" text-anchor="middle" fill="#111" style="white-space:pre" stroke="#111" stroke-width="0.25">0.28</text>
<rect x="65.25" y="805.36" width="38.40" height="22.10" fill="#f1f9ee"/>
<text x="0" y="0" transform="translate(84.45,820.36) scale(1,1.06)" font-size="10.3" font-weight="bold" text-anchor="middle" fill="#111" style="white-space:pre" stroke="#111" stroke-width="0.25">0.23</text>
<rect x="65.25" y="831.75" width="38.40" height="22.10" fill="#e9f6e4"/>
<text x="0" y="0" transform="translate(84.45,846.75) scale(1,1.06)" font-size="10.3" font-weight="bold" text-anchor="middle" fill="#111" style="white-space:pre" stroke="#111" stroke-width="0.25">0.26</text>
<rect x="65.25" y="858.14" width="38.40" height="22.10" fill="#d2ebc6"/>
<text x="0" y="0" transform="translate(84.45,873.14) scale(1,1.06)" font-size="10.3" font-weight="bold" text-anchor="middle" fill="#111" style="white-space:pre" stroke="#111" stroke-width="0.25">0.33</text>
<rect x="65.25" y="884.53" width="38.40" height="22.10" fill="#f6fbf4"/>
<text x="0" y="0" transform="translate(84.45,899.53) scale(1,1.06)" font-size="10.3" font-weight="bold" text-anchor="middle" fill="#111" style="white-space:pre" stroke="#111" stroke-width="0.25">0.20</text>
<rect x="65.25" y="910.91" width="38.40" height="22.10" fill="#cfe9c2"/>
<text x="0" y="0" transform="translate(84.45,925.91) scale(1,1.06)" font-size="10.3" font-weight="bold" text-anchor="middle" fill="#111" style="white-space:pre" stroke="#111" stroke-width="0.25">0.34</text>
<rect x="106.85" y="726.20" width="40.10" height="22.10" fill="#7a72b6"/>
<text x="0" y="0" transform="translate(126.9,741.2) scale(1,1.06)" font-size="10.3" font-weight="bold" text-anchor="middle" fill="#111" style="white-space:pre" stroke="#111" stroke-width="0.25">0.59</text>
<rect x="106.85" y="752.59" width="40.10" height="22.10" fill="#a19dcc"/>
<text x="0" y="0" transform="translate(126.9,767.59) scale(1,1.06)" font-size="10.3" font-weight="bold" text-anchor="middle" fill="#111" style="white-space:pre" stroke="#111" stroke-width="0.25">0.48</text>
<rect x="106.85" y="778.98" width="40.10" height="22.10" fill="#aaa6d2"/>
<text x="0" y="0" transform="translate(126.9,793.98) scale(1,1.06)" font-size="10.3" font-weight="bold" text-anchor="middle" fill="#111" style="white-space:pre" stroke="#111" stroke-width="0.25">0.45</text>
<rect x="106.85" y="805.36" width="40.10" height="22.10" fill="#b8b5da"/>
<text x="0" y="0" transform="translate(126.9,820.36) scale(1,1.06)" font-size="10.3" font-weight="bold" text-anchor="middle" fill="#111" style="white-space:pre" stroke="#111" stroke-width="0.25">0.41</text>
<rect x="106.85" y="831.75" width="40.10" height="22.10" fill="#918bc4"/>
<text x="0" y="0" transform="translate(126.9,846.75) scale(1,1.06)" font-size="10.3" font-weight="bold" text-anchor="middle" fill="#111" style="white-space:pre" stroke="#111" stroke-width="0.25">0.50</text>
<rect x="106.85" y="858.14" width="40.10" height="22.10" fill="#8a83c0"/>
<text x="0" y="0" transform="translate(126.9,873.14) scale(1,1.06)" font-size="10.3" font-weight="bold" text-anchor="middle" fill="#111" style="white-space:pre" stroke="#111" stroke-width="0.25">0.52</text>
<rect x="106.85" y="884.53" width="40.10" height="22.10" fill="#f3f2f8"/>
<text x="0" y="0" transform="translate(126.9,899.53) scale(1,1.06)" font-size="10.3" font-weight="bold" text-anchor="middle" fill="#111" style="white-space:pre" stroke="#111" stroke-width="0.25">0.20</text>
<rect x="106.85" y="910.91" width="40.10" height="22.10" fill="#c7c5e2"/>
<text x="0" y="0" transform="translate(126.9,925.91) scale(1,1.06)" font-size="10.3" font-weight="bold" text-anchor="middle" fill="#111" style="white-space:pre" stroke="#111" stroke-width="0.25">0.36</text>
<rect x="150.15" y="726.20" width="40.10" height="22.10" fill="#3a7cbe"/>
<text x="0" y="0" transform="translate(170.2,741.2) scale(1,1.06)" font-size="10.3" font-weight="bold" text-anchor="middle" fill="#111" style="white-space:pre" stroke="#111" stroke-width="0.25">0.72</text>
<rect x="150.15" y="752.59" width="40.10" height="22.10" fill="#8bbcdc"/>
<text x="0" y="0" transform="translate(170.2,767.59) scale(1,1.06)" font-size="10.3" font-weight="bold" text-anchor="middle" fill="#111" style="white-space:pre" stroke="#111" stroke-width="0.25">0.58</text>
<rect x="150.15" y="778.98" width="40.10" height="22.10" fill="#a9cfe4"/>
<text x="0" y="0" transform="translate(170.2,793.98) scale(1,1.06)" font-size="10.3" font-weight="bold" text-anchor="middle" fill="#111" style="white-space:pre" stroke="#111" stroke-width="0.25">0.55</text>
<rect x="150.15" y="805.36" width="40.10" height="22.10" fill="#d0e3ee"/>
<text x="0" y="0" transform="translate(170.2,820.36) scale(1,1.06)" font-size="10.3" font-weight="bold" text-anchor="middle" fill="#111" style="white-space:pre" stroke="#111" stroke-width="0.25">0.51</text>
<rect x="150.15" y="831.75" width="40.10" height="22.10" fill="#d2e4ef"/>
<text x="0" y="0" transform="translate(170.2,846.75) scale(1,1.06)" font-size="10.3" font-weight="bold" text-anchor="middle" fill="#111" style="white-space:pre" stroke="#111" stroke-width="0.25">0.51</text>
<rect x="150.15" y="858.14" width="40.10" height="22.10" fill="#a7cde3"/>
<text x="0" y="0" transform="translate(170.2,873.14) scale(1,1.06)" font-size="10.3" font-weight="bold" text-anchor="middle" fill="#111" style="white-space:pre" stroke="#111" stroke-width="0.25">0.55</text>
<rect x="150.15" y="884.53" width="40.10" height="22.10" fill="#f4f7f9"/>
<text x="0" y="0" transform="translate(170.2,899.53) scale(1,1.06)" font-size="10.3" font-weight="bold" text-anchor="middle" fill="#111" style="white-space:pre" stroke="#111" stroke-width="0.25">0.47</text>
<rect x="150.15" y="910.91" width="40.10" height="22.10" fill="#6fa9d4"/>
<text x="0" y="0" transform="translate(170.2,925.91) scale(1,1.06)" font-size="10.3" font-weight="bold" text-anchor="middle" fill="#111" style="white-space:pre" stroke="#111" stroke-width="0.25">0.60</text>
<rect x="193.45" y="726.20" width="39.20" height="22.10" fill="#e8383d"/>
<text x="0" y="0" transform="translate(213.05,741.2) scale(1,1.06)" font-size="10.3" font-weight="bold" text-anchor="middle" fill="#111" style="white-space:pre" stroke="#111" stroke-width="0.25">0.60</text>
<rect x="193.45" y="752.59" width="39.20" height="22.10" fill="#e9676b"/>
<text x="0" y="0" transform="translate(213.05,767.59) scale(1,1.06)" font-size="10.3" font-weight="bold" text-anchor="middle" fill="#111" style="white-space:pre" stroke="#111" stroke-width="0.25">0.48</text>
<rect x="193.45" y="778.98" width="39.20" height="22.10" fill="#eb7074"/>
<text x="0" y="0" transform="translate(213.05,793.98) scale(1,1.06)" font-size="10.3" font-weight="bold" text-anchor="middle" fill="#111" style="white-space:pre" stroke="#111" stroke-width="0.25">0.46</text>
<rect x="193.45" y="805.36" width="39.20" height="22.10" fill="#ef9a9c"/>
<text x="0" y="0" transform="translate(213.05,820.36) scale(1,1.06)" font-size="10.3" font-weight="bold" text-anchor="middle" fill="#111" style="white-space:pre" stroke="#111" stroke-width="0.25">0.41</text>
<rect x="193.45" y="831.75" width="39.20" height="22.10" fill="#e8474b"/>
<text x="0" y="0" transform="translate(213.05,846.75) scale(1,1.06)" font-size="10.3" font-weight="bold" text-anchor="middle" fill="#111" style="white-space:pre" stroke="#111" stroke-width="0.25">0.52</text>
<rect x="193.45" y="858.14" width="39.20" height="22.10" fill="#e84a4e"/>
<text x="0" y="0" transform="translate(213.05,873.14) scale(1,1.06)" font-size="10.3" font-weight="bold" text-anchor="middle" fill="#111" style="white-space:pre" stroke="#111" stroke-width="0.25">0.52</text>
<rect x="193.45" y="884.53" width="39.20" height="22.10" fill="#f5f4f4"/>
<text x="0" y="0" transform="translate(213.05,899.53) scale(1,1.06)" font-size="10.3" font-weight="bold" text-anchor="middle" fill="#111" style="white-space:pre" stroke="#111" stroke-width="0.25">0.20</text>
<rect x="193.45" y="910.91" width="39.20" height="22.10" fill="#f2acae"/>
<text x="0" y="0" transform="translate(213.05,925.91) scale(1,1.06)" font-size="10.3" font-weight="bold" text-anchor="middle" fill="#111" style="white-space:pre" stroke="#111" stroke-width="0.25">0.36</text>
<line x1="63.80" y1="723.5" x2="63.80" y2="934.6" stroke="#222" stroke-width="1.2"/>
<line x1="105.40" y1="723.5" x2="105.40" y2="934.6" stroke="#222" stroke-width="1.2"/>
<line x1="148.70" y1="723.5" x2="148.70" y2="934.6" stroke="#222" stroke-width="1.2"/>
<line x1="192.00" y1="723.5" x2="192.00" y2="934.6" stroke="#222" stroke-width="1.2"/>
<line x1="234.40" y1="723.5" x2="234.40" y2="934.6" stroke="#222" stroke-width="1.2"/>
<line x1="63.8" y1="723.5" x2="234.4" y2="723.5" stroke="#222" stroke-width="1.2"/>
<line x1="63.8" y1="934.6" x2="234.4" y2="934.6" stroke="#222" stroke-width="1.2"/>
<text x="58.4" y="740.1" font-size="9.75" font-weight="bold" text-anchor="end" fill="#111"  stroke="#111" stroke-width="0.18">EfNST</text>
<text x="58.4" y="766.49" font-size="9.75" font-weight="bold" text-anchor="end" fill="#111"  stroke="#111" stroke-width="0.18">SpaGCN</text>
<text x="58.4" y="792.88" font-size="9.75" font-weight="bold" text-anchor="end" fill="#111"  stroke="#111" stroke-width="0.18">CCST</text>
<text x="58.4" y="819.26" font-size="9.75" font-weight="bold" text-anchor="end" fill="#111"  stroke="#111" stroke-width="0.18">stLearn</text>
<text x="58.4" y="845.65" font-size="9.75" font-weight="bold" text-anchor="end" fill="#111"  stroke="#111" stroke-width="0.18">conST</text>
<text x="58.4" y="872.04" font-size="9.75" font-weight="bold" text-anchor="end" fill="#111"  stroke="#111" stroke-width="0.18">SEDR</text>
<text x="58.4" y="898.43" font-size="9.75" font-weight="bold" text-anchor="end" fill="#111"  stroke="#111" stroke-width="0.18">Scanpy</text>
<text x="58.4" y="924.81" font-size="9.75" font-weight="bold" text-anchor="end" fill="#111"  stroke="#111" stroke-width="0.18">Seurat</text>
<text x="85.1" y="947.8" font-size="9.7" font-weight="bold" text-anchor="middle" fill="#111"  stroke="#111" stroke-width="0.18">ARI</text>
<text x="127.55" y="947.8" font-size="9.7" font-weight="bold" text-anchor="middle" fill="#111"  stroke="#111" stroke-width="0.18">AMI</text>
<text x="170.85" y="947.8" font-size="9.7" font-weight="bold" text-anchor="middle" fill="#111"  stroke="#111" stroke-width="0.18">FMI</text>
<text x="213.7" y="947.8" font-size="9.7" font-weight="bold" text-anchor="middle" fill="#111"  stroke="#111" stroke-width="0.18">NMI</text>
<text x="0" y="0" transform="translate(90.4,963.2) scale(1,1.14)" font-size="12.6" font-weight="bold" text-anchor="start" fill="#111" style="white-space:pre"  stroke="#111" stroke-width="0.18">The  results of 151670</text>
<rect x="319.95" y="726.20" width="39.00" height="22.10" fill="#8bc56a"/>
<text x="0" y="0" transform="translate(339.45,741.2) scale(1,1.06)" font-size="10.3" font-weight="bold" text-anchor="middle" fill="#111" style="white-space:pre" stroke="#111" stroke-width="0.25">0.52</text>
<rect x="319.95" y="752.54" width="39.00" height="22.10" fill="#a9d690"/>
<text x="0" y="0" transform="translate(339.45,767.54) scale(1,1.06)" font-size="10.3" font-weight="bold" text-anchor="middle" fill="#111" style="white-space:pre" stroke="#111" stroke-width="0.25">0.45</text>
<rect x="319.95" y="778.88" width="39.00" height="22.10" fill="#b1da98"/>
<text x="0" y="0" transform="translate(339.45,793.88) scale(1,1.06)" font-size="10.3" font-weight="bold" text-anchor="middle" fill="#111" style="white-space:pre" stroke="#111" stroke-width="0.25">0.43</text>
<rect x="319.95" y="805.21" width="39.00" height="22.10" fill="#96ca77"/>
<text x="0" y="0" transform="translate(339.45,820.21) scale(1,1.06)" font-size="10.3" font-weight="bold" text-anchor="middle" fill="#111" style="white-space:pre" stroke="#111" stroke-width="0.25">0.49</text>
<rect x="319.95" y="831.55" width="39.00" height="22.10" fill="#bfe0ab"/>
<text x="0" y="0" transform="translate(339.45,846.55) scale(1,1.06)" font-size="10.3" font-weight="bold" text-anchor="middle" fill="#111" style="white-space:pre" stroke="#111" stroke-width="0.25">0.39</text>
<rect x="319.95" y="857.89" width="39.00" height="22.10" fill="#b6dc9f"/>
<text x="0" y="0" transform="translate(339.45,872.89) scale(1,1.06)" font-size="10.3" font-weight="bold" text-anchor="middle" fill="#111" style="white-space:pre" stroke="#111" stroke-width="0.25">0.41</text>
<rect x="319.95" y="884.23" width="39.00" height="22.10" fill="#f5fbf3"/>
<text x="0" y="0" transform="translate(339.45,899.23) scale(1,1.06)" font-size="10.3" font-weight="bold" text-anchor="middle" fill="#111" style="white-space:pre" stroke="#111" stroke-width="0.25">0.22</text>
<rect x="319.95" y="910.56" width="39.00" height="22.10" fill="#cbe8bd"/>
<text x="0" y="0" transform="translate(339.45,925.56) scale(1,1.06)" font-size="10.3" font-weight="bold" text-anchor="middle" fill="#111" style="white-space:pre" stroke="#111" stroke-width="0.25">0.34</text>
<rect x="362.15" y="726.20" width="39.40" height="22.10" fill="#7a70b3"/>
<text x="0" y="0" transform="translate(381.85,741.2) scale(1,1.06)" font-size="10.3" font-weight="bold" text-anchor="middle" fill="#111" style="white-space:pre" stroke="#111" stroke-width="0.25">0.65</text>
<rect x="362.15" y="752.54" width="39.40" height="22.10" fill="#9b96c9"/>
<text x="0" y="0" transform="translate(381.85,767.54) scale(1,1.06)" font-size="10.3" font-weight="bold" text-anchor="middle" fill="#111" style="white-space:pre" stroke="#111" stroke-width="0.25">0.57</text>
<rect x="362.15" y="778.88" width="39.40" height="22.10" fill="#8e88c1"/>
<text x="0" y="0" transform="translate(381.85,793.88) scale(1,1.06)" font-size="10.3" font-weight="bold" text-anchor="middle" fill="#111" style="white-space:pre" stroke="#111" stroke-width="0.25">0.60</text>
<rect x="362.15" y="805.21" width="39.40" height="22.10" fill="#7d74b5"/>
<text x="0" y="0" transform="translate(381.85,820.21) scale(1,1.06)" font-size="10.3" font-weight="bold" text-anchor="middle" fill="#111" style="white-space:pre" stroke="#111" stroke-width="0.25">0.64</text>
<rect x="362.15" y="831.55" width="39.40" height="22.10" fill="#e4e3f0"/>
<text x="0" y="0" transform="translate(381.85,846.55) scale(1,1.06)" font-size="10.3" font-weight="bold" text-anchor="middle" fill="#111" style="white-space:pre" stroke="#111" stroke-width="0.25">0.41</text>
<rect x="362.15" y="857.89" width="39.40" height="22.10" fill="#aaa6d1"/>
<text x="0" y="0" transform="translate(381.85,872.89) scale(1,1.06)" font-size="10.3" font-weight="bold" text-anchor="middle" fill="#111" style="white-space:pre" stroke="#111" stroke-width="0.25">0.52</text>
<rect x="362.15" y="884.23" width="39.40" height="22.10" fill="#f2f1f7"/>
<text x="0" y="0" transform="translate(381.85,899.23) scale(1,1.06)" font-size="10.3" font-weight="bold" text-anchor="middle" fill="#111" style="white-space:pre" stroke="#111" stroke-width="0.25">0.29</text>
<rect x="362.15" y="910.56" width="39.40" height="22.10" fill="#e1e0ef"/>
<text x="0" y="0" transform="translate(381.85,925.56) scale(1,1.06)" font-size="10.3" font-weight="bold" text-anchor="middle" fill="#111" style="white-space:pre" stroke="#111" stroke-width="0.25">0.41</text>
<rect x="404.75" y="726.20" width="39.80" height="22.10" fill="#3572b5"/>
<text x="0" y="0" transform="translate(424.65,741.2) scale(1,1.06)" font-size="10.3" font-weight="bold" text-anchor="middle" fill="#111" style="white-space:pre" stroke="#111" stroke-width="0.25">0.72</text>
<rect x="404.75" y="752.54" width="39.80" height="22.10" fill="#5d9dcc"/>
<text x="0" y="0" transform="translate(424.65,767.54) scale(1,1.06)" font-size="10.3" font-weight="bold" text-anchor="middle" fill="#111" style="white-space:pre" stroke="#111" stroke-width="0.25">0.54</text>
<rect x="404.75" y="778.88" width="39.80" height="22.10" fill="#4f92c6"/>
<text x="0" y="0" transform="translate(424.65,793.88) scale(1,1.06)" font-size="10.3" font-weight="bold" text-anchor="middle" fill="#111" style="white-space:pre" stroke="#111" stroke-width="0.25">0.56</text>
<rect x="404.75" y="805.21" width="39.80" height="22.10" fill="#3b7dbd"/>
<text x="0" y="0" transform="translate(424.65,820.21) scale(1,1.06)" font-size="10.3" font-weight="bold" text-anchor="middle" fill="#111" style="white-space:pre" stroke="#111" stroke-width="0.25">0.59</text>
<rect x="404.75" y="831.55" width="39.80" height="22.10" fill="#72abd4"/>
<text x="0" y="0" transform="translate(424.65,846.55) scale(1,1.06)" font-size="10.3" font-weight="bold" text-anchor="middle" fill="#111" style="white-space:pre" stroke="#111" stroke-width="0.25">0.50</text>
<rect x="404.75" y="857.89" width="39.80" height="22.10" fill="#6aa6d2"/>
<text x="0" y="0" transform="translate(424.65,872.89) scale(1,1.06)" font-size="10.3" font-weight="bold" text-anchor="middle" fill="#111" style="white-space:pre" stroke="#111" stroke-width="0.25">0.51</text>
<rect x="404.75" y="884.23" width="39.80" height="22.10" fill="#f3f7f6"/>
<text x="0" y="0" transform="translate(424.65,899.23) scale(1,1.06)" font-size="10.3" font-weight="bold" text-anchor="middle" fill="#111" style="white-space:pre" stroke="#111" stroke-width="0.25">0.37</text>
<rect x="404.75" y="910.56" width="39.80" height="22.10" fill="#90c0de"/>
<text x="0" y="0" transform="translate(424.65,925.56) scale(1,1.06)" font-size="10.3" font-weight="bold" text-anchor="middle" fill="#111" style="white-space:pre" stroke="#111" stroke-width="0.25">0.46</text>
<rect x="447.75" y="726.20" width="39.10" height="22.10" fill="#e8292d"/>
<text x="0" y="0" transform="translate(467.3,741.2) scale(1,1.06)" font-size="10.3" font-weight="bold" text-anchor="middle" fill="#111" style="white-space:pre" stroke="#111" stroke-width="0.25">0.65</text>
<rect x="447.75" y="752.54" width="39.10" height="22.10" fill="#e55f62"/>
<text x="0" y="0" transform="translate(467.3,767.54) scale(1,1.06)" font-size="10.3" font-weight="bold" text-anchor="middle" fill="#111" style="white-space:pre" stroke="#111" stroke-width="0.25">0.57</text>
<rect x="447.75" y="778.88" width="39.10" height="22.10" fill="#e83236"/>
<text x="0" y="0" transform="translate(467.3,793.88) scale(1,1.06)" font-size="10.3" font-weight="bold" text-anchor="middle" fill="#111" style="white-space:pre" stroke="#111" stroke-width="0.25">0.63</text>
<rect x="447.75" y="805.21" width="39.10" height="22.10" fill="#e82c30"/>
<text x="0" y="0" transform="translate(467.3,820.21) scale(1,1.06)" font-size="10.3" font-weight="bold" text-anchor="middle" fill="#111" style="white-space:pre" stroke="#111" stroke-width="0.25">0.64</text>
<rect x="447.75" y="831.55" width="39.10" height="22.10" fill="#efaeb3"/>
<text x="0" y="0" transform="translate(467.3,846.55) scale(1,1.06)" font-size="10.3" font-weight="bold" text-anchor="middle" fill="#111" style="white-space:pre" stroke="#111" stroke-width="0.25">0.41</text>
<rect x="447.75" y="857.89" width="39.10" height="22.10" fill="#e86a6e"/>
<text x="0" y="0" transform="translate(467.3,872.89) scale(1,1.06)" font-size="10.3" font-weight="bold" text-anchor="middle" fill="#111" style="white-space:pre" stroke="#111" stroke-width="0.25">0.52</text>
<rect x="447.75" y="884.23" width="39.10" height="22.10" fill="#f4f3f3"/>
<text x="0" y="0" transform="translate(467.3,899.23) scale(1,1.06)" font-size="10.3" font-weight="bold" text-anchor="middle" fill="#111" style="white-space:pre" stroke="#111" stroke-width="0.25">0.29</text>
<rect x="447.75" y="910.56" width="39.10" height="22.10" fill="#efadb2"/>
<text x="0" y="0" transform="translate(467.3,925.56) scale(1,1.06)" font-size="10.3" font-weight="bold" text-anchor="middle" fill="#111" style="white-space:pre" stroke="#111" stroke-width="0.25">0.41</text>
<line x1="318.50" y1="723.5" x2="318.50" y2="934.2" stroke="#222" stroke-width="1.2"/>
<line x1="360.70" y1="723.5" x2="360.70" y2="934.2" stroke="#222" stroke-width="1.2"/>
<line x1="403.30" y1="723.5" x2="403.30" y2="934.2" stroke="#222" stroke-width="1.2"/>
<line x1="446.30" y1="723.5" x2="446.30" y2="934.2" stroke="#222" stroke-width="1.2"/>
<line x1="488.60" y1="723.5" x2="488.60" y2="934.2" stroke="#222" stroke-width="1.2"/>
<line x1="318.5" y1="723.5" x2="488.6" y2="723.5" stroke="#222" stroke-width="1.2"/>
<line x1="318.5" y1="934.2" x2="488.6" y2="934.2" stroke="#222" stroke-width="1.2"/>
<text x="314.0" y="740.1" font-size="9.75" font-weight="bold" text-anchor="end" fill="#111"  stroke="#111" stroke-width="0.18">EfNST</text>
<text x="314.0" y="766.44" font-size="9.75" font-weight="bold" text-anchor="end" fill="#111"  stroke="#111" stroke-width="0.18">SpaGCN</text>
<text x="314.0" y="792.77" font-size="9.75" font-weight="bold" text-anchor="end" fill="#111"  stroke="#111" stroke-width="0.18">CCST</text>
<text x="314.0" y="819.11" font-size="9.75" font-weight="bold" text-anchor="end" fill="#111"  stroke="#111" stroke-width="0.18">stLearn</text>
<text x="314.0" y="845.45" font-size="9.75" font-weight="bold" text-anchor="end" fill="#111"  stroke="#111" stroke-width="0.18">conST</text>
<text x="314.0" y="871.79" font-size="9.75" font-weight="bold" text-anchor="end" fill="#111"  stroke="#111" stroke-width="0.18">SEDR</text>
<text x="314.0" y="898.13" font-size="9.75" font-weight="bold" text-anchor="end" fill="#111"  stroke="#111" stroke-width="0.18">Scanpy</text>
<text x="314.0" y="924.46" font-size="9.75" font-weight="bold" text-anchor="end" fill="#111"  stroke="#111" stroke-width="0.18">Seurat</text>
<text x="340.1" y="947.8" font-size="9.7" font-weight="bold" text-anchor="middle" fill="#111"  stroke="#111" stroke-width="0.18">ARI</text>
<text x="382.5" y="947.8" font-size="9.7" font-weight="bold" text-anchor="middle" fill="#111"  stroke="#111" stroke-width="0.18">AMI</text>
<text x="425.3" y="947.8" font-size="9.7" font-weight="bold" text-anchor="middle" fill="#111"  stroke="#111" stroke-width="0.18">FMI</text>
<text x="467.95" y="947.8" font-size="9.7" font-weight="bold" text-anchor="middle" fill="#111"  stroke="#111" stroke-width="0.18">NMI</text>
<text x="0" y="0" transform="translate(347.5,963.2) scale(1,1.14)" font-size="12.6" font-weight="bold" text-anchor="start" fill="#111" style="white-space:pre"  stroke="#111" stroke-width="0.18">The results of 151507</text>
<rect x="554.4" y="727.4" width="235.20000000000005" height="189.20000000000005" fill="none" stroke="#333" stroke-width="1.1"/>
<line x1="554.4" y1="887.65" x2="558.4" y2="887.65" stroke="#333" stroke-width="1"/>
<text x="549.6" y="892.05" font-size="12.8" font-weight="normal" text-anchor="end" fill="#111" >0.1</text>
<line x1="554.4" y1="855.60" x2="558.4" y2="855.60" stroke="#333" stroke-width="1"/>
<text x="549.6" y="859.9999999999999" font-size="12.8" font-weight="normal" text-anchor="end" fill="#111" >0.2</text>
<line x1="554.4" y1="823.55" x2="558.4" y2="823.55" stroke="#333" stroke-width="1"/>
<text x="549.6" y="827.9499999999999" font-size="12.8" font-weight="normal" text-anchor="end" fill="#111" >0.3</text>
<line x1="554.4" y1="791.50" x2="558.4" y2="791.50" stroke="#333" stroke-width="1"/>
<text x="549.6" y="795.9" font-size="12.8" font-weight="normal" text-anchor="end" fill="#111" >0.4</text>
<line x1="554.4" y1="759.45" x2="558.4" y2="759.45" stroke="#333" stroke-width="1"/>
<text x="549.6" y="763.8499999999999" font-size="12.8" font-weight="normal" text-anchor="end" fill="#111" >0.5</text>
<line x1="554.4" y1="727.40" x2="558.4" y2="727.40" stroke="#333" stroke-width="1"/>
<text x="549.6" y="731.8" font-size="12.8" font-weight="normal" text-anchor="end" fill="#111" >0.6</text>
<line x1="568.90" y1="797.91" x2="568.90" y2="807.52" stroke="#3b4b7c" stroke-width="1.1"/>
<line x1="568.90" y1="831.56" x2="568.90" y2="858.80" stroke="#3b4b7c" stroke-width="1.1"/>
<line x1="563.90" y1="858.80" x2="573.90" y2="858.80" stroke="#3b4b7c" stroke-width="1.1"/>
<line x1="563.90" y1="797.91" x2="573.90" y2="797.91" stroke="#3b4b7c" stroke-width="1.1"/>
<rect x="559.30" y="807.52" width="19.2" height="24.04" fill="none" stroke="#3b4b7c" stroke-width="1.1"/>
<line x1="559.30" y1="817.14" x2="578.50" y2="817.14" stroke="#3b4b7c" stroke-width="1.1"/>
<circle cx="566.80" cy="797.91" r="1.35" fill="#c8c8c8" stroke="#222" stroke-width="0.75"/>
<circle cx="569.25" cy="804.32" r="1.35" fill="#c8c8c8" stroke="#222" stroke-width="0.75"/>
<circle cx="567.86" cy="810.73" r="1.35" fill="#c8c8c8" stroke="#222" stroke-width="0.75"/>
<circle cx="569.73" cy="810.73" r="1.35" fill="#c8c8c8" stroke="#222" stroke-width="0.75"/>
<circle cx="569.91" cy="813.93" r="1.35" fill="#c8c8c8" stroke="#222" stroke-width="0.75"/>
<circle cx="565.42" cy="820.35" r="1.35" fill="#c8c8c8" stroke="#222" stroke-width="0.75"/>
<circle cx="565.01" cy="826.75" r="1.35" fill="#c8c8c8" stroke="#222" stroke-width="0.75"/>
<circle cx="571.60" cy="833.16" r="1.35" fill="#c8c8c8" stroke="#222" stroke-width="0.75"/>
<circle cx="566.97" cy="836.37" r="1.35" fill="#c8c8c8" stroke="#222" stroke-width="0.75"/>
<circle cx="566.77" cy="849.19" r="1.35" fill="#c8c8c8" stroke="#222" stroke-width="0.75"/>
<circle cx="572.87" cy="858.80" r="1.35" fill="#c8c8c8" stroke="#222" stroke-width="0.75"/>
<circle cx="568.66" cy="807.52" r="1.35" fill="#c8c8c8" stroke="#222" stroke-width="0.75"/>
<line x1="568.90" y1="916.6" x2="568.90" y2="913.1" stroke="#333" stroke-width="1"/>
<text x="0" y="0" font-size="12.5" text-anchor="middle" fill="#111" transform="translate(569.50,935.8) rotate(-28)">Seurat</text>
<line x1="598.28" y1="829.96" x2="598.28" y2="847.59" stroke="#e83a3a" stroke-width="1.1"/>
<line x1="598.28" y1="878.03" x2="598.28" y2="887.65" stroke="#e83a3a" stroke-width="1.1"/>
<line x1="593.28" y1="887.65" x2="603.28" y2="887.65" stroke="#e83a3a" stroke-width="1.1"/>
<line x1="593.28" y1="829.96" x2="603.28" y2="829.96" stroke="#e83a3a" stroke-width="1.1"/>
<rect x="588.68" y="847.59" width="19.2" height="30.45" fill="none" stroke="#e83a3a" stroke-width="1.1"/>
<line x1="588.68" y1="860.41" x2="607.88" y2="860.41" stroke="#e83a3a" stroke-width="1.1"/>
<circle cx="600.97" cy="829.96" r="1.35" fill="#c8c8c8" stroke="#222" stroke-width="0.75"/>
<circle cx="598.09" cy="836.37" r="1.35" fill="#c8c8c8" stroke="#222" stroke-width="0.75"/>
<circle cx="599.39" cy="845.99" r="1.35" fill="#c8c8c8" stroke="#222" stroke-width="0.75"/>
<circle cx="595.48" cy="849.19" r="1.35" fill="#c8c8c8" stroke="#222" stroke-width="0.75"/>
<circle cx="599.36" cy="852.39" r="1.35" fill="#c8c8c8" stroke="#222" stroke-width="0.75"/>
<circle cx="601.22" cy="858.80" r="1.35" fill="#c8c8c8" stroke="#222" stroke-width="0.75"/>
<circle cx="598.47" cy="862.01" r="1.35" fill="#c8c8c8" stroke="#222" stroke-width="0.75"/>
<circle cx="600.21" cy="871.62" r="1.35" fill="#c8c8c8" stroke="#222" stroke-width="0.75"/>
<circle cx="599.65" cy="878.03" r="1.35" fill="#c8c8c8" stroke="#222" stroke-width="0.75"/>
<circle cx="594.79" cy="887.65" r="1.35" fill="#c8c8c8" stroke="#222" stroke-width="0.75"/>
<circle cx="600.35" cy="887.65" r="1.35" fill="#c8c8c8" stroke="#222" stroke-width="0.75"/>
<circle cx="599.01" cy="855.60" r="1.35" fill="#c8c8c8" stroke="#222" stroke-width="0.75"/>
<line x1="598.28" y1="916.6" x2="598.28" y2="913.1" stroke="#333" stroke-width="1"/>
<text x="0" y="0" font-size="12.5" text-anchor="middle" fill="#111" transform="translate(598.88,935.8) rotate(-28)">Scanpy</text>
<line x1="627.66" y1="765.86" x2="627.66" y2="785.09" stroke="#4caa40" stroke-width="1.1"/>
<line x1="627.66" y1="807.52" x2="627.66" y2="813.93" stroke="#4caa40" stroke-width="1.1"/>
<line x1="622.66" y1="813.93" x2="632.66" y2="813.93" stroke="#4caa40" stroke-width="1.1"/>
<line x1="622.66" y1="765.86" x2="632.66" y2="765.86" stroke="#4caa40" stroke-width="1.1"/>
<rect x="618.06" y="785.09" width="19.2" height="22.44" fill="none" stroke="#4caa40" stroke-width="1.1"/>
<line x1="618.06" y1="789.90" x2="637.26" y2="789.90" stroke="#4caa40" stroke-width="1.1"/>
<circle cx="626.07" cy="743.42" r="1.35" fill="#c8c8c8" stroke="#222" stroke-width="0.75"/>
<circle cx="623.91" cy="765.86" r="1.35" fill="#c8c8c8" stroke="#222" stroke-width="0.75"/>
<circle cx="630.58" cy="781.88" r="1.35" fill="#c8c8c8" stroke="#222" stroke-width="0.75"/>
<circle cx="627.44" cy="788.29" r="1.35" fill="#c8c8c8" stroke="#222" stroke-width="0.75"/>
<circle cx="629.41" cy="788.29" r="1.35" fill="#c8c8c8" stroke="#222" stroke-width="0.75"/>
<circle cx="630.69" cy="791.50" r="1.35" fill="#c8c8c8" stroke="#222" stroke-width="0.75"/>
<circle cx="629.37" cy="804.32" r="1.35" fill="#c8c8c8" stroke="#222" stroke-width="0.75"/>
<circle cx="631.03" cy="804.32" r="1.35" fill="#c8c8c8" stroke="#222" stroke-width="0.75"/>
<circle cx="626.82" cy="810.73" r="1.35" fill="#c8c8c8" stroke="#222" stroke-width="0.75"/>
<circle cx="630.07" cy="813.93" r="1.35" fill="#c8c8c8" stroke="#222" stroke-width="0.75"/>
<circle cx="627.22" cy="849.19" r="1.35" fill="#c8c8c8" stroke="#222" stroke-width="0.75"/>
<circle cx="631.14" cy="788.29" r="1.35" fill="#c8c8c8" stroke="#222" stroke-width="0.75"/>
<line x1="627.66" y1="916.6" x2="627.66" y2="913.1" stroke="#333" stroke-width="1"/>
<text x="0" y="0" font-size="12.5" text-anchor="middle" fill="#111" transform="translate(628.26,935.8) rotate(-28)">SEDR</text>
<line x1="657.04" y1="762.65" x2="657.04" y2="772.27" stroke="#5aa6d8" stroke-width="1.1"/>
<line x1="657.04" y1="820.35" x2="657.04" y2="858.80" stroke="#5aa6d8" stroke-width="1.1"/>
<line x1="652.04" y1="858.80" x2="662.04" y2="858.80" stroke="#5aa6d8" stroke-width="1.1"/>
<line x1="652.04" y1="762.65" x2="662.04" y2="762.65" stroke="#5aa6d8" stroke-width="1.1"/>
<rect x="647.44" y="772.27" width="19.2" height="48.08" fill="none" stroke="#5aa6d8" stroke-width="1.1"/>
<line x1="647.44" y1="794.70" x2="666.64" y2="794.70" stroke="#5aa6d8" stroke-width="1.1"/>
<circle cx="660.07" cy="762.65" r="1.35" fill="#c8c8c8" stroke="#222" stroke-width="0.75"/>
<circle cx="653.82" cy="765.86" r="1.35" fill="#c8c8c8" stroke="#222" stroke-width="0.75"/>
<circle cx="654.13" cy="765.86" r="1.35" fill="#c8c8c8" stroke="#222" stroke-width="0.75"/>
<circle cx="654.78" cy="778.68" r="1.35" fill="#c8c8c8" stroke="#222" stroke-width="0.75"/>
<circle cx="660.76" cy="778.68" r="1.35" fill="#c8c8c8" stroke="#222" stroke-width="0.75"/>
<circle cx="656.53" cy="794.70" r="1.35" fill="#c8c8c8" stroke="#222" stroke-width="0.75"/>
<circle cx="658.05" cy="794.70" r="1.35" fill="#c8c8c8" stroke="#222" stroke-width="0.75"/>
<circle cx="655.45" cy="817.14" r="1.35" fill="#c8c8c8" stroke="#222" stroke-width="0.75"/>
<circle cx="657.10" cy="823.55" r="1.35" fill="#c8c8c8" stroke="#222" stroke-width="0.75"/>
<circle cx="656.13" cy="839.57" r="1.35" fill="#c8c8c8" stroke="#222" stroke-width="0.75"/>
<circle cx="655.85" cy="858.80" r="1.35" fill="#c8c8c8" stroke="#222" stroke-width="0.75"/>
<circle cx="657.72" cy="858.80" r="1.35" fill="#c8c8c8" stroke="#222" stroke-width="0.75"/>
<line x1="657.04" y1="916.6" x2="657.04" y2="913.1" stroke="#333" stroke-width="1"/>
<text x="0" y="0" font-size="12.5" text-anchor="middle" fill="#111" transform="translate(657.64,935.8) rotate(-28)">conST</text>
<line x1="686.42" y1="762.65" x2="686.42" y2="789.90" stroke="#a277e0" stroke-width="1.1"/>
<line x1="686.42" y1="817.14" x2="686.42" y2="845.99" stroke="#a277e0" stroke-width="1.1"/>
<line x1="681.42" y1="845.99" x2="691.42" y2="845.99" stroke="#a277e0" stroke-width="1.1"/>
<line x1="681.42" y1="762.65" x2="691.42" y2="762.65" stroke="#a277e0" stroke-width="1.1"/>
<rect x="676.82" y="789.90" width="19.2" height="27.24" fill="none" stroke="#a277e0" stroke-width="1.1"/>
<line x1="676.82" y1="796.31" x2="696.02" y2="796.31" stroke="#a277e0" stroke-width="1.1"/>
<circle cx="687.09" cy="762.65" r="1.35" fill="#c8c8c8" stroke="#222" stroke-width="0.75"/>
<circle cx="689.65" cy="778.68" r="1.35" fill="#c8c8c8" stroke="#222" stroke-width="0.75"/>
<circle cx="687.88" cy="788.29" r="1.35" fill="#c8c8c8" stroke="#222" stroke-width="0.75"/>
<circle cx="689.85" cy="791.50" r="1.35" fill="#c8c8c8" stroke="#222" stroke-width="0.75"/>
<circle cx="689.27" cy="794.70" r="1.35" fill="#c8c8c8" stroke="#222" stroke-width="0.75"/>
<circle cx="690.35" cy="794.70" r="1.35" fill="#c8c8c8" stroke="#222" stroke-width="0.75"/>
<circle cx="687.79" cy="797.91" r="1.35" fill="#c8c8c8" stroke="#222" stroke-width="0.75"/>
<circle cx="683.72" cy="810.73" r="1.35" fill="#c8c8c8" stroke="#222" stroke-width="0.75"/>
<circle cx="689.31" cy="813.93" r="1.35" fill="#c8c8c8" stroke="#222" stroke-width="0.75"/>
<circle cx="690.14" cy="820.35" r="1.35" fill="#c8c8c8" stroke="#222" stroke-width="0.75"/>
<circle cx="689.66" cy="845.99" r="1.35" fill="#c8c8c8" stroke="#222" stroke-width="0.75"/>
<circle cx="686.97" cy="791.50" r="1.35" fill="#c8c8c8" stroke="#222" stroke-width="0.75"/>
<line x1="686.42" y1="916.6" x2="686.42" y2="913.1" stroke="#333" stroke-width="1"/>
<text x="0" y="0" font-size="12.5" text-anchor="middle" fill="#111" transform="translate(687.02,935.8) rotate(-28)">stLearn</text>
<line x1="715.80" y1="756.25" x2="715.80" y2="770.67" stroke="#222222" stroke-width="1.1"/>
<line x1="715.80" y1="791.50" x2="715.80" y2="813.93" stroke="#222222" stroke-width="1.1"/>
<line x1="710.80" y1="813.93" x2="720.80" y2="813.93" stroke="#222222" stroke-width="1.1"/>
<line x1="710.80" y1="756.25" x2="720.80" y2="756.25" stroke="#222222" stroke-width="1.1"/>
<rect x="706.20" y="770.67" width="19.2" height="20.83" fill="none" stroke="#222222" stroke-width="1.1"/>
<line x1="706.20" y1="780.28" x2="725.40" y2="780.28" stroke="#222222" stroke-width="1.1"/>
<circle cx="717.51" cy="756.25" r="1.35" fill="#c8c8c8" stroke="#222" stroke-width="0.75"/>
<circle cx="713.49" cy="759.45" r="1.35" fill="#c8c8c8" stroke="#222" stroke-width="0.75"/>
<circle cx="718.45" cy="769.06" r="1.35" fill="#c8c8c8" stroke="#222" stroke-width="0.75"/>
<circle cx="716.39" cy="772.27" r="1.35" fill="#c8c8c8" stroke="#222" stroke-width="0.75"/>
<circle cx="714.08" cy="775.47" r="1.35" fill="#c8c8c8" stroke="#222" stroke-width="0.75"/>
<circle cx="712.31" cy="778.68" r="1.35" fill="#c8c8c8" stroke="#222" stroke-width="0.75"/>
<circle cx="718.63" cy="778.68" r="1.35" fill="#c8c8c8" stroke="#222" stroke-width="0.75"/>
<circle cx="719.72" cy="781.88" r="1.35" fill="#c8c8c8" stroke="#222" stroke-width="0.75"/>
<circle cx="712.51" cy="785.09" r="1.35" fill="#c8c8c8" stroke="#222" stroke-width="0.75"/>
<circle cx="718.20" cy="797.91" r="1.35" fill="#c8c8c8" stroke="#222" stroke-width="0.75"/>
<circle cx="715.08" cy="813.93" r="1.35" fill="#c8c8c8" stroke="#222" stroke-width="0.75"/>
<circle cx="713.01" cy="829.96" r="1.35" fill="#c8c8c8" stroke="#222" stroke-width="0.75"/>
<line x1="715.80" y1="916.6" x2="715.80" y2="913.1" stroke="#333" stroke-width="1"/>
<text x="0" y="0" font-size="12.5" text-anchor="middle" fill="#111" transform="translate(716.40,935.8) rotate(-28)">CCST</text>
<line x1="745.18" y1="762.65" x2="745.18" y2="773.87" stroke="#c23a3a" stroke-width="1.1"/>
<line x1="745.18" y1="807.52" x2="745.18" y2="842.78" stroke="#c23a3a" stroke-width="1.1"/>
<line x1="740.18" y1="842.78" x2="750.18" y2="842.78" stroke="#c23a3a" stroke-width="1.1"/>
<line x1="740.18" y1="762.65" x2="750.18" y2="762.65" stroke="#c23a3a" stroke-width="1.1"/>
<rect x="735.58" y="773.87" width="19.2" height="33.65" fill="none" stroke="#c23a3a" stroke-width="1.1"/>
<line x1="735.58" y1="794.70" x2="754.78" y2="794.70" stroke="#c23a3a" stroke-width="1.1"/>
<circle cx="743.53" cy="762.65" r="1.35" fill="#c8c8c8" stroke="#222" stroke-width="0.75"/>
<circle cx="747.33" cy="769.06" r="1.35" fill="#c8c8c8" stroke="#222" stroke-width="0.75"/>
<circle cx="748.16" cy="769.06" r="1.35" fill="#c8c8c8" stroke="#222" stroke-width="0.75"/>
<circle cx="741.53" cy="778.68" r="1.35" fill="#c8c8c8" stroke="#222" stroke-width="0.75"/>
<circle cx="746.10" cy="781.88" r="1.35" fill="#c8c8c8" stroke="#222" stroke-width="0.75"/>
<circle cx="741.54" cy="791.50" r="1.35" fill="#c8c8c8" stroke="#222" stroke-width="0.75"/>
<circle cx="746.93" cy="797.91" r="1.35" fill="#c8c8c8" stroke="#222" stroke-width="0.75"/>
<circle cx="743.83" cy="801.12" r="1.35" fill="#c8c8c8" stroke="#222" stroke-width="0.75"/>
<circle cx="748.23" cy="804.32" r="1.35" fill="#c8c8c8" stroke="#222" stroke-width="0.75"/>
<circle cx="749.03" cy="810.73" r="1.35" fill="#c8c8c8" stroke="#222" stroke-width="0.75"/>
<circle cx="745.22" cy="820.35" r="1.35" fill="#c8c8c8" stroke="#222" stroke-width="0.75"/>
<circle cx="749.17" cy="842.78" r="1.35" fill="#c8c8c8" stroke="#222" stroke-width="0.75"/>
<line x1="745.18" y1="916.6" x2="745.18" y2="913.1" stroke="#333" stroke-width="1"/>
<text x="0" y="0" font-size="12.5" text-anchor="middle" fill="#111" transform="translate(745.78,935.8) rotate(-28)">SpaGCN</text>
<line x1="774.56" y1="743.42" x2="774.56" y2="745.03" stroke="#2a34b0" stroke-width="1.1"/>
<line x1="774.56" y1="761.05" x2="774.56" y2="765.86" stroke="#2a34b0" stroke-width="1.1"/>
<line x1="769.56" y1="765.86" x2="779.56" y2="765.86" stroke="#2a34b0" stroke-width="1.1"/>
<line x1="769.56" y1="743.42" x2="779.56" y2="743.42" stroke="#2a34b0" stroke-width="1.1"/>
<rect x="764.96" y="745.03" width="19.2" height="16.03" fill="none" stroke="#2a34b0" stroke-width="1.1"/>
<line x1="764.96" y1="754.64" x2="784.16" y2="754.64" stroke="#2a34b0" stroke-width="1.1"/>
<circle cx="773.04" cy="743.42" r="1.35" fill="#c8c8c8" stroke="#222" stroke-width="0.75"/>
<circle cx="771.18" cy="743.42" r="1.35" fill="#c8c8c8" stroke="#222" stroke-width="0.75"/>
<circle cx="775.36" cy="746.63" r="1.35" fill="#c8c8c8" stroke="#222" stroke-width="0.75"/>
<circle cx="770.81" cy="749.83" r="1.35" fill="#c8c8c8" stroke="#222" stroke-width="0.75"/>
<circle cx="772.14" cy="753.04" r="1.35" fill="#c8c8c8" stroke="#222" stroke-width="0.75"/>
<circle cx="773.82" cy="753.04" r="1.35" fill="#c8c8c8" stroke="#222" stroke-width="0.75"/>
<circle cx="775.44" cy="756.25" r="1.35" fill="#c8c8c8" stroke="#222" stroke-width="0.75"/>
<circle cx="771.81" cy="759.45" r="1.35" fill="#c8c8c8" stroke="#222" stroke-width="0.75"/>
<circle cx="770.90" cy="759.45" r="1.35" fill="#c8c8c8" stroke="#222" stroke-width="0.75"/>
<circle cx="777.50" cy="762.65" r="1.35" fill="#c8c8c8" stroke="#222" stroke-width="0.75"/>
<circle cx="773.07" cy="762.65" r="1.35" fill="#c8c8c8" stroke="#222" stroke-width="0.75"/>
<circle cx="778.23" cy="765.86" r="1.35" fill="#c8c8c8" stroke="#222" stroke-width="0.75"/>
<line x1="774.56" y1="916.6" x2="774.56" y2="913.1" stroke="#333" stroke-width="1"/>
<text x="0" y="0" font-size="12.5" text-anchor="middle" fill="#111" transform="translate(775.16,935.8) rotate(-28)">EfNST</text>
<text x="0" y="0" transform="translate(621.5,963.5) scale(1,1.14)" font-size="12.65" font-weight="bold" text-anchor="start" fill="#111" style="white-space:pre"  stroke="#111" stroke-width="0.18">The ARI values of 12 slices</text>
</svg>
</body></html>
